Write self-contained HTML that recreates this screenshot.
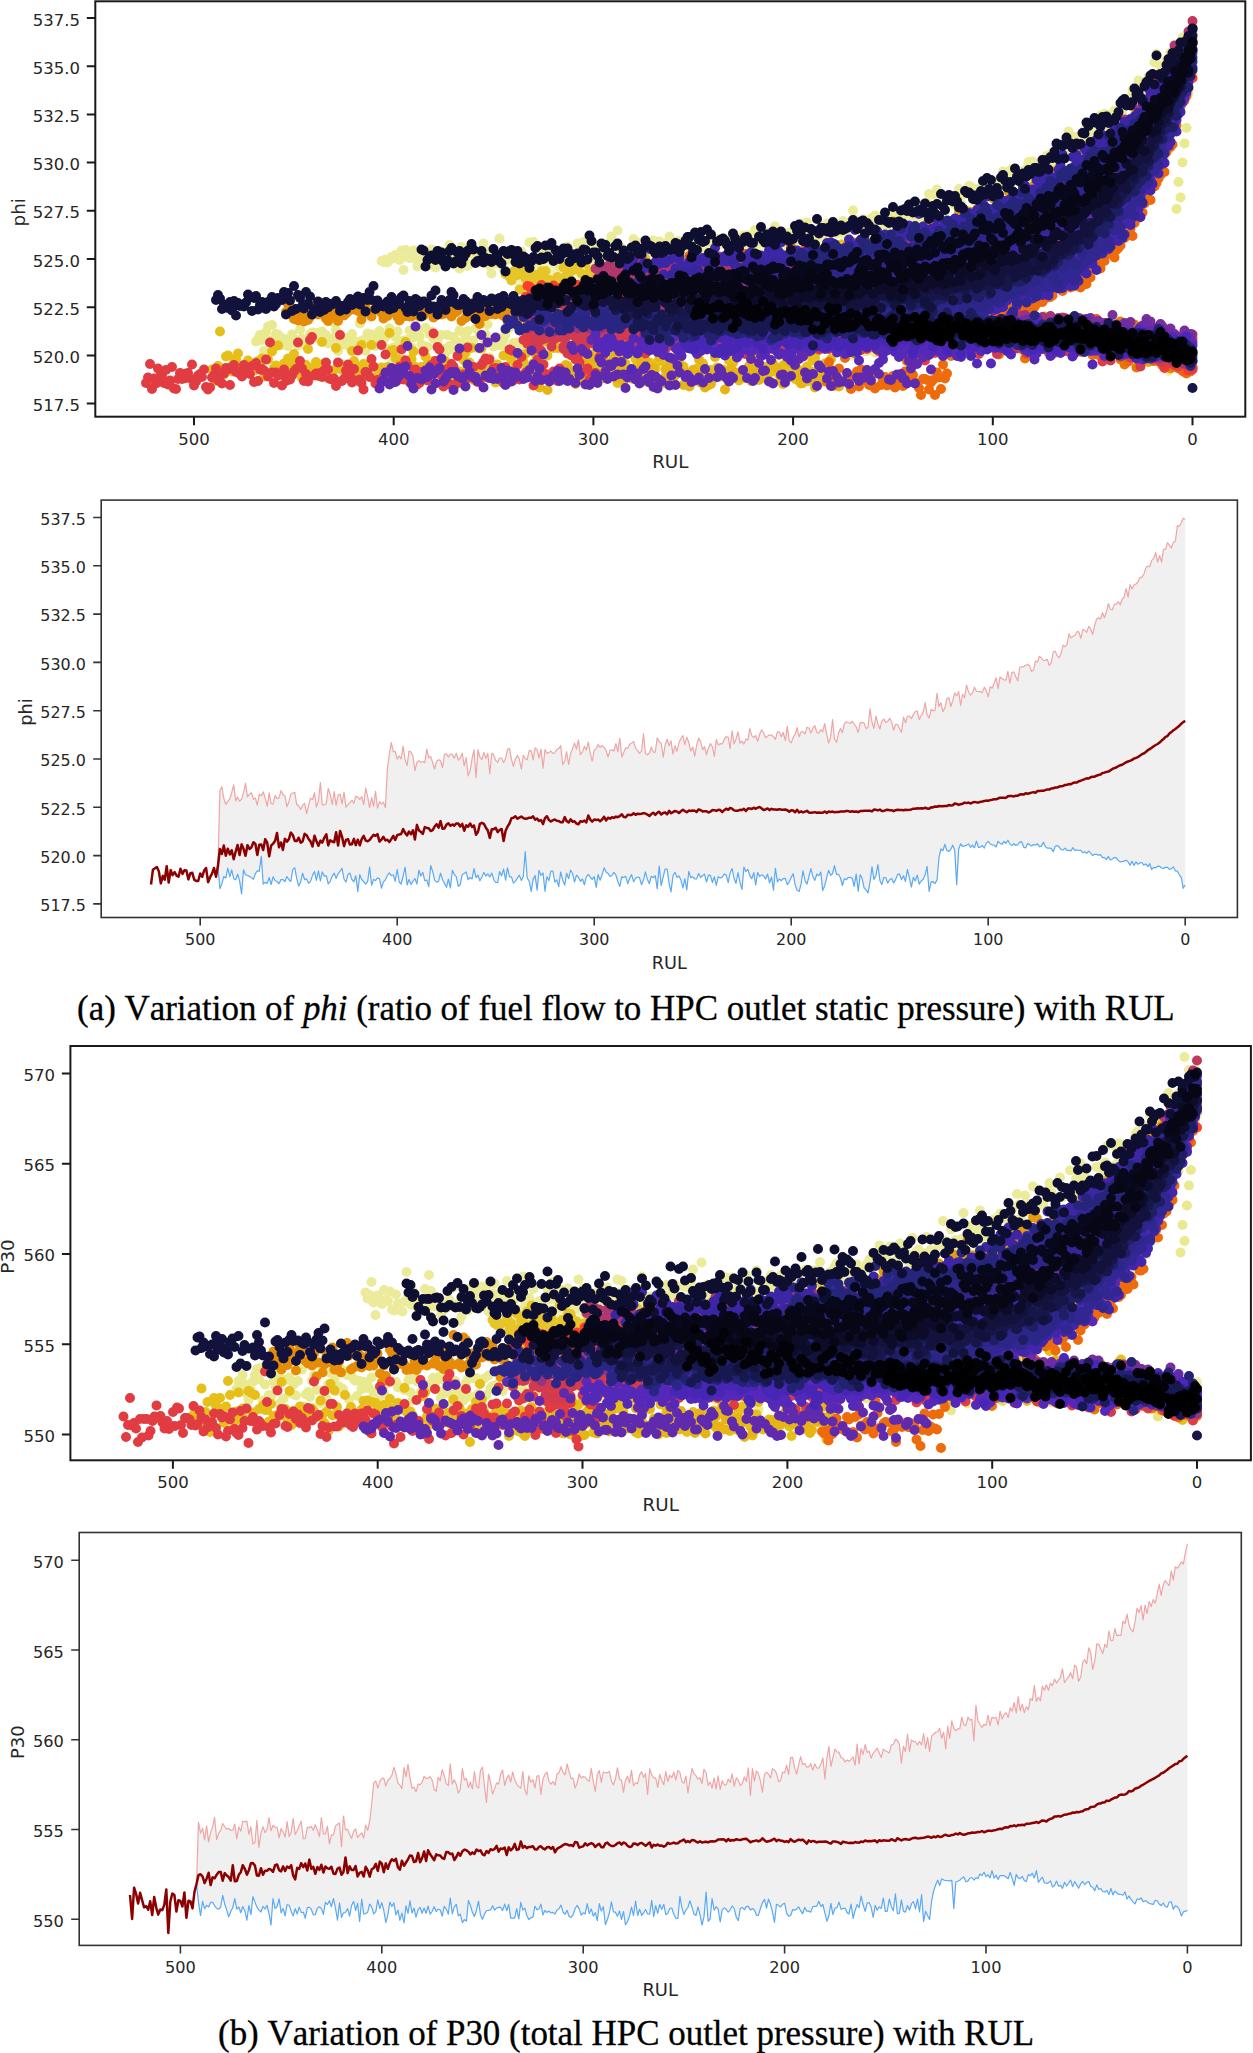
<!DOCTYPE html><html><head><meta charset="utf-8"><title>Figure</title><style>html,body{margin:0;padding:0;background:#fff}svg{display:block}</style></head><body><svg width="1253" height="2053" viewBox="0 0 1253 2053">
<rect width="1253" height="2053" fill="#fff"/>
<g fill="none" stroke-linecap="round" stroke-width="10.0"><path stroke="#fbfbeb" d="M1056.5 319h0"/><path stroke="#f7f7d7" d="M535.5 289h0M539.5 264.5h0M547.5 274h0M571.5 277h0M577.5 280h0M579.5 273h0M583.5 279.5h0M601.5 260h0M649.5 261h0M819 251.5h0M857 241h0M891 232.5h0M895 233h0M941 221.5h0M951 219.5h0M955 218h0M993 199h0M1009 197.5h0M1108.5 131.5h0M1128.5 119h0M1138.5 108.5h0"/><path stroke="#f5f5cf" d="M1160.5 364h0"/><path stroke="#f3f3c3" d="M987 311h0"/><path stroke="#f1f1b7" d="M519.5 282h0M533.5 267h0M539.5 271.5h0M543.5 265h0M545.5 263h0M547.5 261.5h0M549.5 266h0M551.5 266h0M553.5 275h0M555.5 275h0M557.5 270h0M561.5 273h0M565.5 270.5h0M569.5 272.5h0M579.5 272h0M581.5 268.5h0M583.5 277h0M585.5 265.5h0M591.5 266.5h0M603.5 267h0M687.5 260h0M701 251h0M713 259h0M719 245h0M741 255h0M747 251h0M759 252h0M763 255h0M765 247h0M767 258h0M785 246h0M801 245.5h0M819 245.5h0M823 243h0M845 241.5h0M847 237.5h0M887 239.5h0M923 223h0M937 222.5h0M971 217h0M1074.5 161.5h0M1134.5 115h0M1146.5 94h0"/><path stroke="#efefaf" d="M525.5 318.5h0M1118.5 323.5h0M1168.5 371h0"/><path stroke="#ebeb9b" d="M381.5 261h0M383.5 262h0M385.5 259.5h0M387.5 262.5h0M389.5 260h0M391.5 257h0M393.5 258h0M395.5 255h0M397.5 258h0M399.5 260h0M401.5 250.5h0M403.5 270h0M405.5 250h0M407.5 257.5h0M409.5 258h0M411.5 257.5h0M413.5 250.5h0M415.5 259.5h0M417.5 266.5h0M419.5 263h0M421.5 255h0M423.5 264.5h0M425.5 258h0M429.5 265h0M431.5 249.5h0M433.5 264h0M435.5 267.5h0M437.5 260h0M439.5 250.5h0M441.5 251.5h0M447.5 255.5h0M449.5 245h0M451.5 252h0M453.5 261h0M455.5 264h0M457.5 261.5h0M459.5 268.5h0M461.5 247h0M463.5 265h0M467.5 266h0M469.5 264.5h0M471.5 253.5h0M473.5 263.5h0M475.5 261h0M477.5 255.5h0M479.5 262.5h0M481.5 254.5h0M483.5 243.5h0M487.5 252h0M489.5 265.5h0M491.5 273.5h0M493.5 253.5h0M495.5 263.5h0M497.5 263.5h0M499.5 238.5h0M501.5 261h0M503.5 269h0M505.5 270.5h0M507.5 259.5h0M511.5 258.5h0M513.5 250.5h0M521.5 251.5h0M529.5 242.5h0M533.5 242h0M535.5 256.5h0M537.5 262.5h0M539.5 262.5h0M541.5 251h0M543.5 246.5h0M547.5 258h0M549.5 248h0M551.5 258.5h0M553.5 260h0M559.5 267h0M561.5 258h0M565.5 265h0M567.5 246.5h0M569.5 256.5h0M571.5 263.5h0M577.5 243.5h0M579.5 249.5h0M583.5 242h0M585.5 244.5h0M587.5 256.5h0M589.5 256h0M591.5 247.5h0M593.5 257h0M595.5 245.5h0M597.5 251h0M599.5 253.5h0M605.5 250.5h0M607.5 255h0M609.5 242.5h0M611.5 236.5h0M613.5 262h0M617.5 230.5h0M619.5 253.5h0M621.5 248h0M631.5 255h0M633.5 239h0M635.5 257h0M641.5 242.5h0M643.5 244h0M647.5 253h0M649.5 250h0M651.5 250h0M653.5 240.5h0M657.5 244.5h0M659.5 241.5h0M665.5 253h0M667.5 242.5h0M669.5 236.5h0M675.5 241.5h0M679.5 241h0M681.5 255h0M685.5 252.5h0M687.5 263h0M689.5 238.5h0M695 234.5h0M697 244.5h0M699 248h0M701 251.5h0M703 252.5h0M705 257h0M707 252h0M709 232.5h0M711 247.5h0M713 241h0M715 243.5h0M717 239h0M719 243.5h0M725 238.5h0M727 241.5h0M733 241.5h0M737 237.5h0M741 246.5h0M743 235.5h0M747 235h0M749 237.5h0M753 246.5h0M755 230h0M757 243.5h0M759 242h0M761 242h0M763 241.5h0M765 243h0M767 232.5h0M771 238.5h0M775 226.5h0M777 245.5h0M787 244.5h0M789 233h0M795 236h0M797 241h0M799 238h0M801 223.5h0M803 240.5h0M805 229h0M807 222.5h0M809 237.5h0M811 239.5h0M813 235h0M815 232.5h0M817 235h0M819 235.5h0M821 234.5h0M825 225.5h0M827 223.5h0M829 239.5h0M837 233.5h0M839 232.5h0M841 232.5h0M843 221h0M845 232.5h0M847 223h0M853 210.5h0M855 220h0M859 230h0M861 225.5h0M863 219.5h0M867 224h0M869 220h0M871 218.5h0M873 224.5h0M875 215.5h0M877 216.5h0M879 217.5h0M883 231.5h0M885 227.5h0M887 222.5h0M889 223.5h0M891 216.5h0M893 220.5h0M895 213h0M897 218h0M899 218.5h0M901 212.5h0M903 209h0M905 215h0M907 214.5h0M909 215h0M911 213.5h0M913 216h0M915 206h0M917 217.5h0M919 204.5h0M923 205.5h0M925 216h0M927 202.5h0M929 194h0M933 222.5h0M935 195h0M937 189.5h0M941 212.5h0M945 201.5h0M949 202.5h0M953 203.5h0M955 205h0M957 204h0M959 189h0M961 203.5h0M963 194.5h0M965 193h0M967 194h0M969 186h0M971 187h0M973 188.5h0M975 201.5h0M977 193.5h0M979 188.5h0M981 190h0M983 199.5h0M985 188.5h0M991 183.5h0M993 194h0M995 182h0M997 185h0M999 183.5h0M1001 180.5h0M1003 171.5h0M1005 172.5h0M1007 188.5h0M1011 169.5h0M1013 174h0M1015 173h0M1023 171h0M1025 171.5h0M1026.5 169h0M1028.5 162h0M1030.5 181h0M1032.5 161.5h0M1034.5 167h0M1036.5 166h0M1042.5 159.5h0M1044.5 166h0M1046.5 156h0M1050.5 164h0M1052.5 152.5h0M1056.5 165.5h0M1058.5 151.5h0M1062.5 143.5h0M1064.5 143.5h0M1066.5 152.5h0M1068.5 131.5h0M1070.5 136h0M1072.5 150h0M1074.5 137h0M1080.5 135h0M1082.5 132.5h0M1084.5 130h0M1086.5 142h0M1088.5 129.5h0M1090.5 135h0M1092.5 137h0M1094.5 136h0M1096.5 125.5h0M1098.5 132.5h0M1100.5 115.5h0M1104.5 114h0M1106.5 114.5h0M1108.5 126h0M1110.5 116h0M1112.5 116.5h0M1114.5 110.5h0M1116.5 111h0M1122.5 114h0M1124.5 105.5h0M1130.5 97.5h0M1132.5 90h0M1134.5 98.5h0M1136.5 110h0M1138.5 80.5h0M1140.5 90h0M1142.5 90h0M1144.5 82.5h0M1148.5 76.5h0M1150.5 77h0M1154.5 62.5h0M1156.5 54h0M1158.5 74h0M1160.5 65.5h0M1164.5 67.5h0M1166.5 60h0M1170.5 52.5h0M1182.5 37.5h0M1192.5 27h0"/><path stroke="#e9e98f" d="M256 341.5h0M258 339h0M260 335h0M262 340h0M264 351h0M266 332h0M268 326.5h0M270 340.5h0M272 325h0M274 342.5h0M276 334h0M278 334.5h0M280 337h0M282 345h0M284 339h0M286 343.5h0M288 346h0M290 342h0M292 334.5h0M294 339.5h0M296 340h0M298 345.5h0M300 329.5h0M302 338.5h0M304 345h0M306 342.5h0M308 338.5h0M310 334h0M312 332.5h0M316 333h0M318 338h0M320 334h0M322 331.5h0M326 335h0M328 343.5h0M330 338.5h0M332 322h0M334 341h0M336 330.5h0M338 351h0M340 342.5h0M342 342.5h0M344 344.5h0M346 338h0M348 338.5h0M350 347h0M352 334h0M354 342.5h0M356 341.5h0M358 349.5h0M360 323.5h0M361.5 341h0M363.5 340h0M365.5 351h0M367.5 333.5h0M369.5 341h0M371.5 334.5h0M373.5 339.5h0M375.5 346h0M377.5 334h0M379.5 331h0M381.5 340h0M383.5 339.5h0M385.5 337h0M387.5 348.5h0M389.5 328.5h0M391.5 363.5h0M393.5 347.5h0M395.5 337h0M397.5 331.5h0M399.5 342.5h0M401.5 344h0M403.5 340.5h0M405.5 345h0M407.5 340h0M409.5 330.5h0M411.5 347.5h0M413.5 337.5h0M415.5 332.5h0M417.5 332h0M419.5 336.5h0M421.5 344.5h0M423.5 346h0M425.5 328h0M427.5 347h0M429.5 334h0M431.5 331.5h0M433.5 338.5h0M435.5 336h0M437.5 341.5h0M439.5 350.5h0M441.5 335h0M443.5 349h0M445.5 353.5h0M447.5 335h0M449.5 346h0M451.5 349h0M453.5 337h0M455.5 343h0M457.5 342h0M459.5 330.5h0M461.5 343.5h0M463.5 333h0M465.5 335.5h0M467.5 331h0M469.5 344.5h0M471.5 346h0M473.5 340.5h0M475.5 328.5h0M477.5 348.5h0M479.5 334h0M481.5 349.5h0M483.5 338h0M485.5 334.5h0M487.5 324.5h0M489.5 357.5h0M491.5 340h0M493.5 346.5h0M495.5 340h0M497.5 337.5h0M499.5 345.5h0M501.5 345h0M503.5 340h0M505.5 334.5h0M507.5 356.5h0M509.5 328h0M513.5 343h0M515.5 344h0M517.5 342.5h0M519.5 348h0M521.5 345h0M523.5 327.5h0M555.5 340h0M561.5 344h0M563.5 345h0M565.5 339.5h0M571.5 341h0M573.5 344.5h0M585.5 362h0M593.5 346.5h0M757 349.5h0M769 351h0M811 359.5h0M853 355h0M865 351h0M867 351h0M875 352.5h0M1126.5 231.5h0M1164.5 157h0M1168.5 149h0M1170.5 139.5h0M1176.5 209h0M1178.5 182h0M1180.5 197.5h0M1182.5 162.5h0M1184.5 143.5h0M1186.5 128h0M1188.5 93h0M1192.5 73h0"/><path stroke="#e6d552" d="M1036.5 273.5h0"/><path stroke="#e6cf42" d="M525.5 288.5h0"/><path stroke="#e6c529" d="M505.5 274h0M507.5 275h0M509.5 277h0M511.5 280.5h0M513.5 271.5h0M515.5 269.5h0M517.5 275h0M519.5 289.5h0M521.5 273.5h0M523.5 269.5h0M525.5 278.5h0M527.5 281h0M529.5 274.5h0M531.5 278.5h0M533.5 279h0M535.5 275h0M537.5 277.5h0M539.5 281.5h0M541.5 271.5h0M543.5 280h0M545.5 271h0M547.5 280h0M549.5 280h0M551.5 281.5h0M553.5 281.5h0M557.5 277h0M561.5 283.5h0M563.5 267.5h0M565.5 276.5h0M569.5 279h0M571.5 271h0M573.5 270h0M575.5 265.5h0M577.5 267h0M581.5 273.5h0M583.5 283h0M585.5 263.5h0M587.5 278.5h0M589.5 271.5h0M591.5 280h0M593.5 282.5h0M595.5 273h0M605.5 270.5h0M613.5 271h0M615.5 260h0M619.5 279h0M621.5 280.5h0M645.5 259h0M671.5 261h0M719 267.5h0M777 258h0M779 271h0M783 255h0M841 244.5h0M865 237h0M873 242.5h0M887 243h0"/><path stroke="#e6c11f" d="M991 318h0M1028.5 313h0"/><path stroke="#e6bf19" d="M212 369.5h0M214 370.5h0M216 381h0M218 366h0M220 331.5h0M222 368.5h0M224 374.5h0M226 356.5h0M228 355.5h0M230 367.5h0M232 371.5h0M234 363h0M236 359h0M238 353.5h0M242 366h0M248 360.5h0M252 364.5h0M254 363.5h0M256 370h0M258 361h0M260 366h0M262 358.5h0M264 376.5h0M266 374h0M268 359.5h0M270 373h0M272 351.5h0M274 368h0M276 365.5h0M278 345.5h0M280 368h0M284 363.5h0M286 366h0M288 358.5h0M290 369h0M292 365h0M294 354h0M296 360h0M298 372.5h0M300 368h0M302 378h0M306 365h0M308 349h0M310 368h0M312 371.5h0M314 369.5h0M316 362h0M318 376h0M320 368h0M322 342h0M324 363.5h0M326 377.5h0M330 375h0M332 371h0M334 370h0M336 348h0M338 366h0M340 364h0M342 370h0M344 371h0M346 367.5h0M352 351h0M354 361h0M356 371.5h0M358 370h0M360 367.5h0M361.5 345h0M363.5 364h0M365.5 372.5h0M367.5 365.5h0M369.5 367h0M371.5 345h0M373.5 378.5h0M375.5 377.5h0M377.5 369h0M379.5 373h0M381.5 367.5h0M383.5 371.5h0M387.5 367h0M389.5 333h0M391.5 350.5h0M393.5 350h0M395.5 358h0M397.5 359h0M403.5 360h0M405.5 342h0M407.5 365.5h0M409.5 363.5h0M411.5 359h0M413.5 351.5h0M415.5 367h0M417.5 368h0M421.5 367h0M425.5 356.5h0M427.5 364h0M429.5 380h0M433.5 361h0M439.5 374.5h0M441.5 367h0M445.5 361.5h0M449.5 364.5h0M451.5 378h0M459.5 371.5h0M461.5 357.5h0M463.5 360h0M465.5 353h0M467.5 367.5h0M469.5 362.5h0M471.5 348h0M473.5 380h0M477.5 370.5h0M479.5 367h0M481.5 348h0M483.5 375.5h0M485.5 372.5h0M487.5 371h0M489.5 367.5h0M491.5 371h0M493.5 376h0M495.5 382.5h0M497.5 364.5h0M499.5 366.5h0M501.5 369h0M503.5 355.5h0M511.5 359.5h0M513.5 380.5h0M515.5 366.5h0M519.5 354.5h0M521.5 375h0M523.5 361.5h0M525.5 354h0M527.5 367h0M531.5 374h0M533.5 363h0M535.5 354h0M539.5 367h0M543.5 372.5h0M547.5 355.5h0M549.5 342.5h0M551.5 341h0M565.5 365h0M573.5 372.5h0M575.5 353.5h0M577.5 380h0M579.5 366.5h0M585.5 374.5h0M587.5 370.5h0M589.5 370.5h0M595.5 352.5h0M597.5 365.5h0M599.5 371h0M603.5 378h0M605.5 363h0M611.5 371.5h0M615.5 364h0M617.5 383h0M619.5 361h0M621.5 368h0M623.5 357.5h0M625.5 363.5h0M629.5 369h0M635.5 359h0M637.5 363.5h0M641.5 374.5h0M643.5 357.5h0M645.5 381.5h0M649.5 362.5h0M651.5 364h0M655.5 368.5h0M657.5 362h0M659.5 360h0M663.5 378h0M665.5 363h0M667.5 376.5h0M669.5 365h0M673.5 381.5h0M675.5 372.5h0M677.5 367h0M683.5 366.5h0M687.5 373h0M689.5 379.5h0M697 368.5h0M699 377h0M701 368.5h0M703 363.5h0M705 375.5h0M709 377.5h0M711 370h0M715 373h0M717 367.5h0M721 376.5h0M723 369.5h0M727 374h0M729 360.5h0M731 356.5h0M733 363h0M735 359h0M739 380.5h0M743 378h0M745 378h0M747 369.5h0M749 367h0M751 381h0M753 372h0M755 368h0M761 370h0M765 367h0M767 379h0M769 367h0M771 372h0M773 371h0M775 369h0M777 370h0M779 374.5h0M781 377.5h0M783 365.5h0M785 369.5h0M787 368h0M789 377h0M791 371h0M793 367.5h0M795 379h0M797 371h0M799 381h0M801 370.5h0M803 383h0M805 371.5h0M807 366.5h0M809 381h0M811 371.5h0M813 360.5h0M815 358h0M817 351.5h0M819 367.5h0M821 371.5h0M823 371h0M825 363.5h0M829 366.5h0"/><path stroke="#e6b515" d="M535.5 374h0M537.5 372.5h0M539.5 387.5h0M541.5 374h0M543.5 341.5h0M547.5 390h0M551.5 373.5h0M553.5 348h0M557.5 348h0M563.5 349.5h0M567.5 366h0M569.5 370h0M575.5 384h0M577.5 371.5h0M579.5 379.5h0M581.5 373.5h0M583.5 360h0M585.5 383.5h0M587.5 364h0M589.5 367.5h0M593.5 359.5h0M599.5 375.5h0M601.5 374h0M605.5 368h0M607.5 373h0M609.5 376.5h0M611.5 362h0M613.5 358h0M615.5 353.5h0M617.5 379h0M619.5 377h0M621.5 369h0M623.5 380h0M625.5 342h0M627.5 372h0M631.5 378.5h0M637.5 370h0M641.5 361.5h0M643.5 379.5h0M645.5 360.5h0M647.5 368.5h0M649.5 375h0M653.5 368h0M655.5 383.5h0M659.5 356.5h0M661.5 355h0M663.5 383h0M665.5 369.5h0M667.5 378.5h0M669.5 367h0M671.5 385h0M673.5 357.5h0M675.5 375h0M679.5 359.5h0M683.5 385h0M685.5 373h0M689.5 386.5h0M693 370h0M695 372.5h0M699 359.5h0M701 383h0M703 382h0M705 387.5h0M707 372h0M709 385h0M711 384h0M713 378.5h0M715 357h0M717 377.5h0M719 369h0M723 374h0M725 389.5h0M731 368.5h0M735 378h0M737 372.5h0M739 374h0M741 377.5h0M749 366h0M751 375h0M753 358h0M755 372.5h0M757 375.5h0M759 380h0M761 372.5h0M763 371.5h0M771 382h0M773 363.5h0M775 366.5h0M777 368h0M779 355h0M781 380h0M783 384h0M785 376.5h0M787 361.5h0M789 362.5h0M797 369.5h0M799 376.5h0M801 383.5h0M805 378h0M807 353.5h0M809 373h0M811 351h0M813 381h0M815 387.5h0M817 378h0M819 379.5h0M821 365.5h0M823 381.5h0M825 376h0M827 377.5h0M831 359h0M839 386.5h0M1044.5 316.5h0"/><path stroke="#e6a50f" d="M1148.5 362h0"/><path stroke="#e69f0c" d="M1092.5 211.5h0"/><path stroke="#e69b0b" d="M887 235h0M893 221.5h0M901 238h0M927 224h0M929 225.5h0M931 226h0M941 225.5h0M959 211.5h0M963 214.5h0M969 211.5h0M977 209.5h0M983 204.5h0M993 198.5h0M1001 199.5h0M1009 192.5h0M1011 195.5h0M1034.5 185h0M1044.5 179.5h0M1056.5 170.5h0M1058.5 172.5h0M1080.5 151.5h0M1120.5 127.5h0"/><path stroke="#e69508" d="M1152.5 361h0M1170.5 368.5h0M1192.5 367h0"/><path stroke="#e69107" d="M1078.5 230.5h0M1094.5 216h0"/><path stroke="#e68b05" d="M286 312h0M288 304h0M290 312.5h0M292 308h0M294 319h0M296 315.5h0M298 320.5h0M300 319h0M302 313.5h0M304 321.5h0M308 320h0M310 317h0M312 306h0M318 314.5h0M320 302.5h0M326 318.5h0M328 321h0M330 314h0M332 309h0M336 316h0M338 321h0M340 310h0M342 315.5h0M344 315.5h0M346 313.5h0M348 311.5h0M350 308h0M354 309.5h0M356 305h0M358 311h0M360 310.5h0M361.5 319.5h0M363.5 312.5h0M365.5 304h0M367.5 312.5h0M369.5 311.5h0M371.5 316.5h0M373.5 310.5h0M375.5 308.5h0M377.5 303.5h0M379.5 304h0M381.5 313h0M383.5 318.5h0M387.5 316h0M389.5 311.5h0M391.5 311.5h0M393.5 312.5h0M395.5 309.5h0M397.5 317h0M399.5 320.5h0M401.5 312h0M403.5 316.5h0M405.5 316h0M407.5 306.5h0M409.5 316.5h0M411.5 316.5h0M413.5 314h0M415.5 308.5h0M419.5 316.5h0M421.5 313h0M423.5 315.5h0M425.5 301.5h0M427.5 304.5h0M429.5 311h0M433.5 317.5h0M435.5 314h0M437.5 315h0M439.5 313.5h0M441.5 314.5h0M443.5 314h0M449.5 312h0M451.5 316.5h0M453.5 308h0M455.5 312.5h0M457.5 311h0M459.5 307h0M461.5 321h0M463.5 303.5h0M465.5 318h0M467.5 302.5h0M471.5 316h0M473.5 313h0M475.5 301.5h0M477.5 310h0M479.5 324h0M481.5 312.5h0M483.5 316.5h0M485.5 316h0M487.5 310.5h0M489.5 303h0M491.5 314h0M493.5 310h0M495.5 314.5h0M497.5 310h0M499.5 313.5h0M501.5 311.5h0M503.5 316h0M505.5 315.5h0M507.5 321h0M509.5 309h0M513.5 308h0M515.5 315.5h0M519.5 318h0M521.5 316h0M527.5 322.5h0M543.5 316h0M553.5 315h0M557.5 310.5h0M559.5 311h0M563.5 308h0M663.5 310.5h0M665.5 303.5h0M667.5 316h0M1092.5 251h0"/><path stroke="#e68502" d="M1120.5 321.5h0"/><path stroke="#e68100" d="M1080.5 318.5h0M1134.5 324.5h0M1158.5 361h0"/><path stroke="#e77b03" d="M1136.5 112h0M1192.5 34.5h0"/><path stroke="#e97705" d="M855 353.5h0M951 356h0M985 344h0M999 354.5h0M1023 350h0M1025 358.5h0M1048.5 352.5h0M1082.5 352h0M1092.5 355h0M1120.5 359.5h0M1124.5 364.5h0M1126.5 359h0M1136.5 367.5h0M1154.5 361h0M1162.5 365.5h0M1172.5 367h0M1182.5 371h0M1186.5 373.5h0M1190.5 371.5h0"/><path stroke="#eb7109" d="M1096.5 353h0M1170.5 364h0"/><path stroke="#ee6b0c" d="M827 382h0M829 362h0M831 377h0M833 386h0M835 376.5h0M837 380h0M839 368.5h0M845 358h0M847 378.5h0M849 383h0M851 389h0M853 377h0M855 376h0M857 371.5h0M859 386.5h0M861 369.5h0M863 380.5h0M865 370.5h0M867 372h0M869 385h0M871 376h0M873 386.5h0M875 388.5h0M879 351.5h0M881 385h0M883 379.5h0M885 377h0M887 385.5h0M889 384h0M893 376h0M895 387.5h0M897 382h0M899 377h0M901 377.5h0M903 386h0M905 371.5h0M907 361h0M909 351h0M911 376.5h0M913 375h0M915 382.5h0M919 388h0M921 395h0M923 379h0M925 379h0M927 380h0M929 389.5h0M931 382.5h0M933 380h0M935 395h0M937 372.5h0M939 377.5h0M941 389h0M943 364.5h0M945 378.5h0M947 373.5h0M1001 310h0M1005 311.5h0M1009 309h0M1011 302h0M1015 302.5h0M1021 303h0M1023 307.5h0M1028.5 314h0M1030.5 305h0M1034.5 307h0M1036.5 304h0M1038.5 298.5h0M1042.5 302h0M1044.5 299h0M1050.5 297h0M1052.5 295.5h0M1056.5 288h0M1062.5 291h0M1070.5 287.5h0M1074.5 286h0M1078.5 271h0M1080.5 287.5h0M1082.5 278.5h0M1084.5 273h0M1086.5 284h0M1090.5 277.5h0M1092.5 270h0M1098.5 262h0M1100.5 268.5h0M1102.5 257h0M1104.5 261h0M1106.5 255h0M1108.5 251.5h0M1112.5 247h0M1114.5 257.5h0M1116.5 250h0M1118.5 248h0M1120.5 245.5h0M1124.5 238h0M1128.5 233.5h0M1130.5 228.5h0M1132.5 236h0M1134.5 223h0M1136.5 218.5h0M1138.5 218h0M1140.5 210.5h0M1142.5 212.5h0M1144.5 203.5h0M1146.5 191h0M1148.5 198.5h0M1150.5 200h0M1154.5 186.5h0M1156.5 183h0M1158.5 178.5h0M1160.5 175h0M1164.5 172h0M1166.5 152h0M1170.5 147h0M1172.5 144.5h0M1176.5 125h0M1180.5 107h0M1184.5 100.5h0M1186.5 96h0"/><path stroke="#ef670f" d="M969 351h0M1098.5 355h0M1128.5 361.5h0M1140.5 361h0M1178.5 368.5h0"/><path stroke="#f26112" d="M621.5 276h0M627.5 278.5h0M635.5 277.5h0M657.5 276h0M665.5 280h0M669.5 274.5h0M685.5 276h0M689.5 256h0M693 278h0M721 270.5h0M745 254h0M785 258h0M791 247h0M805 249h0M837 247h0M847 245.5h0M853 242.5h0M887 243.5h0M987 217h0M989 220.5h0M1001 208.5h0M1064.5 179h0"/><path stroke="#f35d15" d="M997 317.5h0M1096.5 319h0M1124.5 356h0M1184.5 372h0"/><path stroke="#f65718" d="M1192.5 40.5h0"/><path stroke="#f7531b" d="M1030.5 275.5h0"/><path stroke="#fa4d1e" d="M989 319.5h0M1030.5 322.5h0"/><path stroke="#fc4722" d="M1005 319h0M1050.5 321.5h0M1062.5 317.5h0M1192.5 338.5h0"/><path stroke="#fe4324" d="M993 319.5h0"/><path stroke="#fa3f2a" d="M525.5 297h0M527.5 286h0M529.5 286.5h0M531.5 292.5h0M533.5 289h0M535.5 303h0M541.5 285h0M543.5 296h0M553.5 285.5h0M557.5 288h0M563.5 293h0M577.5 285h0M581.5 293h0M585.5 298h0M619.5 296.5h0M621.5 291h0M625.5 286h0M627.5 297.5h0M747 284.5h0M1192.5 78h0"/><path stroke="#f43e30" d="M573.5 311h0M999 319.5h0"/><path stroke="#ea3d38" d="M1164.5 368h0M1178.5 366.5h0M1188.5 370.5h0M1192.5 369.5h0"/><path stroke="#e13c41" d="M146 383h0M148 377.5h0M150 364h0M152 389h0M154 378.5h0M156 383.5h0M158 368.5h0M160 376h0M162 375h0M164 383h0M166 370h0M168 384.5h0M170 380.5h0M172 367h0M174 388.5h0M176 389h0M178 379h0M180 373h0M182 379h0M184 378.5h0M186 373.5h0M188 373h0M190 378.5h0M192 364.5h0M194 385.5h0M196 381.5h0M198 375.5h0M200 374h0M202 377h0M204 369.5h0M206 387h0M208 389.5h0M210 387.5h0M212 377.5h0M214 375h0M216 368.5h0M218 380.5h0M220 376h0M222 383.5h0M224 373.5h0M226 368h0M228 369.5h0M230 385h0M232 367h0M234 365h0M236 372h0M238 371.5h0M240 374h0M242 376.5h0M244 365h0M246 370h0M248 372.5h0M250 374h0M252 366h0M254 382h0M256 363h0M258 381h0M260 369.5h0M262 369h0M264 370.5h0M266 359.5h0M268 376.5h0M270 342.5h0M272 372.5h0M274 383h0M276 372.5h0M278 375.5h0M280 374h0M282 385.5h0M284 369.5h0M286 381h0M288 375.5h0M290 379.5h0M292 375.5h0M294 371.5h0M296 369h0M298 342.5h0M300 361h0M302 368.5h0M304 381h0M306 374h0M308 381.5h0M310 340h0M312 337h0M314 375.5h0M316 373.5h0M318 375.5h0M320 373h0M322 377h0M324 370.5h0M326 362.5h0M328 369.5h0M330 379h0M332 379.5h0M334 378.5h0M336 386h0M338 362.5h0M340 335h0M342 381h0M344 379h0M346 370.5h0M348 364.5h0M350 376h0M352 382.5h0M354 369h0M356 380.5h0M358 350.5h0M360 379.5h0M361.5 383h0M363.5 389.5h0M365.5 372h0M367.5 373h0M369.5 377h0M371.5 359h0M373.5 366.5h0M375.5 383.5h0M377.5 380h0M379.5 383h0M381.5 345h0M383.5 376.5h0M385.5 354.5h0M391.5 379.5h0M393.5 369.5h0M395.5 376.5h0M397.5 380.5h0M399.5 366.5h0M401.5 349.5h0M403.5 379.5h0M405.5 360.5h0M407.5 365h0M409.5 382h0M411.5 376h0M413.5 372.5h0M415.5 369.5h0M417.5 384.5h0M419.5 383h0M421.5 372h0M423.5 351.5h0M425.5 375h0M427.5 380.5h0M431.5 365h0M433.5 333.5h0M435.5 361h0M437.5 347h0M439.5 349.5h0M441.5 375h0M443.5 386.5h0M445.5 376.5h0M447.5 369h0M449.5 384h0M451.5 364h0M453.5 366.5h0M455.5 384.5h0M457.5 356h0M459.5 377.5h0M461.5 383h0M463.5 374.5h0M465.5 379.5h0M467.5 347.5h0M469.5 371.5h0M471.5 377.5h0M473.5 367h0M475.5 379.5h0M477.5 382h0M479.5 382h0M481.5 365h0M483.5 362h0M485.5 358.5h0M487.5 377.5h0M489.5 359.5h0M493.5 368.5h0M495.5 368h0M499.5 376.5h0M503.5 383h0M505.5 367h0M507.5 375h0M509.5 349.5h0M511.5 350.5h0M513.5 371.5h0M517.5 365h0M519.5 379.5h0M521.5 357h0M523.5 340h0M525.5 372.5h0M527.5 344h0M531.5 340h0M533.5 385.5h0M535.5 343.5h0M537.5 359.5h0M541.5 351h0M543.5 364.5h0M545.5 374h0M547.5 378h0M549.5 374.5h0M553.5 371.5h0M555.5 373h0M557.5 381h0M559.5 368.5h0M561.5 378.5h0M563.5 346.5h0M565.5 374.5h0M567.5 353.5h0M569.5 380.5h0M571.5 355.5h0M575.5 359.5h0M577.5 358h0M579.5 362.5h0M581.5 373h0M585.5 347.5h0M587.5 368.5h0M589.5 379.5h0M591.5 374h0M595.5 373h0M599.5 357h0M601.5 351h0M603.5 355h0M645.5 353.5h0M655.5 346h0M671.5 345.5h0M761 350h0M763 351.5h0M781 347h0M785 345h0M867 349h0M875 348h0M915 355.5h0M925 360.5h0M927 350.5h0M929 352.5h0M935 353h0M937 352.5h0M979 354h0M993 348h0M1026.5 353.5h0M1034.5 355h0M1054.5 353h0M1068.5 351.5h0M1102.5 361.5h0M1152.5 359.5h0M1174.5 365h0M1180.5 363h0M1192.5 368h0"/><path stroke="#da3b46" d="M525.5 332h0M527.5 331.5h0M529.5 337h0M533.5 332.5h0M537.5 331h0M553.5 339.5h0M557.5 329.5h0M577.5 341h0M583.5 335.5h0M603.5 332h0M609.5 334.5h0M625.5 331.5h0M627.5 324h0M629.5 338.5h0M631.5 338.5h0M633.5 333.5h0M1164.5 362h0M1170.5 363h0M1190.5 366.5h0"/><path stroke="#d13a4f" d="M535.5 341.5h0M537.5 338h0M539.5 349.5h0M541.5 340h0M543.5 336h0M545.5 338.5h0M547.5 333h0M551.5 346.5h0M553.5 327.5h0M555.5 338.5h0M557.5 333h0M559.5 335h0M561.5 337.5h0M563.5 348.5h0M565.5 338h0M567.5 346h0M569.5 351.5h0M571.5 334.5h0M573.5 335.5h0M575.5 344h0M577.5 331.5h0M579.5 347.5h0M581.5 337.5h0M583.5 342h0M587.5 339.5h0M589.5 335.5h0M591.5 343h0M593.5 333h0M595.5 334h0M597.5 341h0M601.5 339.5h0M603.5 337h0M605.5 331h0M609.5 343h0M613.5 336h0M617.5 336h0M619.5 342.5h0M625.5 335.5h0M629.5 336.5h0M631.5 348h0M635.5 330h0M637.5 341.5h0M639.5 344h0M641.5 335h0M643.5 343.5h0M665.5 349h0M675.5 344h0M677.5 341.5h0M679.5 338.5h0M681.5 341h0M687.5 348h0M689.5 332h0M703 334.5h0M719 344.5h0M729 334.5h0M745 354h0M767 350h0M783 352.5h0M787 344h0M819 349.5h0M829 349h0M861 350h0M903 340h0M945 342h0M961 349h0M997 354h0M999 350h0M1017 348.5h0M1052.5 349.5h0M1064.5 351h0M1072.5 353.5h0M1080.5 351.5h0M1102.5 354h0M1110.5 360.5h0M1112.5 351h0M1130.5 357.5h0M1140.5 366.5h0M1160.5 362h0"/><path stroke="#ca3954" d="M1017 313h0"/><path stroke="#c1385d" d="M563.5 305h0M565.5 301.5h0M567.5 299h0M569.5 309h0M571.5 306h0M573.5 297.5h0M575.5 299h0M583.5 303.5h0M587.5 304h0M605.5 305.5h0M609.5 295h0M657.5 304h0M659.5 302.5h0M667.5 308h0M673.5 296.5h0M679.5 293.5h0M1058.5 237.5h0M1192.5 21h0"/><path stroke="#ba3762" d="M861 336h0M1015 348h0M1166.5 358h0"/><path stroke="#b1366b" d="M595.5 268.5h0M597.5 278h0M599.5 275.5h0M601.5 271h0M603.5 268h0M605.5 276.5h0M607.5 267.5h0M609.5 264.5h0M611.5 276.5h0M613.5 275.5h0M615.5 271.5h0M617.5 269.5h0M621.5 270.5h0M623.5 269.5h0M625.5 266h0M627.5 275h0M631.5 273h0M635.5 275h0M637.5 264h0M639.5 277h0M641.5 256.5h0M647.5 272h0M649.5 272h0M651.5 270.5h0M659.5 271.5h0M661.5 268.5h0M663.5 267h0M665.5 271.5h0M667.5 265h0M669.5 269h0M671.5 273.5h0M673.5 266h0M675.5 266.5h0M679.5 265.5h0M685.5 263.5h0M687.5 264.5h0M697 261.5h0M703 267.5h0M705 273h0M707 268.5h0M717 270h0M719 256.5h0M721 262h0M723 262.5h0M725 265h0M727 271.5h0M729 267.5h0M733 265h0M735 268h0M743 261.5h0M747 261.5h0M753 269.5h0M789 265.5h0M793 252.5h0M795 265h0M797 265.5h0M823 250h0M833 250h0M871 261.5h0M905 240h0M911 240.5h0M937 236h0M997 214.5h0M1038.5 196.5h0M1066.5 185.5h0M1102.5 146.5h0M1124.5 119.5h0M1138.5 109.5h0M1144.5 107.5h0M1148.5 100.5h0M1150.5 102h0M1156.5 75.5h0M1158.5 78h0M1160.5 78.5h0M1162.5 80h0M1172.5 59h0M1174.5 45.5h0M1180.5 48.5h0M1186.5 40h0M1188.5 31.5h0M1190.5 34.5h0M1192.5 28h0"/><path stroke="#a73573" d="M991 320h0M1023 316h0M1048.5 323.5h0M1050.5 316h0M1076.5 323.5h0M1120.5 356.5h0M1172.5 360h0M1184.5 364h0"/><path stroke="#a13479" d="M1042.5 317h0M1064.5 318h0M1094.5 323.5h0M1120.5 355h0M1162.5 326.5h0"/><path stroke="#973381" d="M527.5 328.5h0M529.5 321h0M531.5 315h0M535.5 321h0M537.5 328.5h0M541.5 326h0M543.5 328.5h0M547.5 310.5h0M551.5 324h0M553.5 331.5h0M563.5 324.5h0M571.5 313.5h0M577.5 328.5h0M579.5 327h0M587.5 315.5h0M589.5 328.5h0M591.5 312.5h0M593.5 318.5h0M595.5 318h0M599.5 315h0M601.5 328.5h0M603.5 326.5h0M605.5 325h0M611.5 316h0M613.5 310.5h0M621.5 327h0M637.5 327.5h0M641.5 327.5h0M643.5 336h0M655.5 311h0M659.5 311.5h0M839 335.5h0M947 340.5h0M1009 318.5h0M1025 315h0M1160.5 358h0M1186.5 362.5h0M1192.5 334.5h0"/><path stroke="#933285" d="M831 260h0M835 258h0M867 259h0M875 255.5h0M905 265h0M1017 211h0M1021 212h0"/><path stroke="#8b318b" d="M661.5 279.5h0M663.5 283.5h0M671.5 282h0M675.5 302h0M681.5 297.5h0M701 292h0M713 278h0M719 282h0M739 284.5h0M743 289.5h0M747 289h0M753 278h0M905 270.5h0M927 272h0M933 275.5h0"/><path stroke="#802f95" d="M909 272h0M1025 254.5h0M1062.5 228.5h0M1192.5 53h0"/><path stroke="#782e9b" d="M767 330.5h0M985 318h0M1013 315.5h0M1015 321h0M1017 322h0M1025 320h0M1048.5 324.5h0M1054.5 321.5h0M1058.5 318h0M1078.5 318h0M1082.5 319.5h0M1090.5 318h0M1092.5 325.5h0M1098.5 321h0M1100.5 326.5h0M1104.5 323h0M1112.5 315h0M1116.5 324.5h0M1122.5 328.5h0M1124.5 323h0M1130.5 322h0M1140.5 327h0M1142.5 325.5h0M1144.5 324.5h0M1146.5 319h0M1150.5 321.5h0M1154.5 328h0M1160.5 324h0M1170.5 328.5h0M1174.5 334h0M1182.5 335.5h0M1184.5 330.5h0M1190.5 334h0M1192.5 342h0"/><path stroke="#732d9f" d="M685.5 304h0M695 296.5h0M713 295h0M715 299h0M761 287h0M929 278.5h0M933 280h0M981 258.5h0M1001 243h0M1017 250.5h0M1032.5 233h0M1052.5 230.5h0M1082.5 206h0M1116.5 172.5h0"/><path stroke="#6c2ca5" d="M681.5 308.5h0M1028.5 319.5h0M1036.5 317h0M1070.5 323h0M1080.5 320h0M1092.5 326.5h0M1102.5 326h0M1104.5 326h0M1126.5 324.5h0M1128.5 330h0M1130.5 330.5h0M1144.5 327.5h0M1146.5 323.5h0M1150.5 329h0M1156.5 328h0M1170.5 333.5h0M1176.5 337.5h0M1178.5 341h0M1182.5 338.5h0M1188.5 338h0M1190.5 339.5h0"/><path stroke="#652aab" d="M1021 257.5h0M1060.5 255.5h0M1062.5 232.5h0M1078.5 233.5h0M1090.5 219.5h0M1094.5 212h0M1192.5 50.5h0"/><path stroke="#602aaf" d="M379.5 388.5h0M381.5 381.5h0M383.5 380h0M385.5 372.5h0M387.5 382.5h0M389.5 384.5h0M391.5 368h0M393.5 376h0M395.5 382h0M397.5 378h0M399.5 368.5h0M401.5 374h0M403.5 369h0M405.5 366.5h0M407.5 346h0M409.5 376h0M411.5 384h0M413.5 388.5h0M415.5 326.5h0M417.5 378h0M419.5 378.5h0M421.5 379.5h0M423.5 378.5h0M425.5 370.5h0M427.5 377h0M429.5 367.5h0M431.5 389.5h0M433.5 374h0M435.5 383.5h0M437.5 370.5h0M439.5 368h0M441.5 358.5h0M443.5 381.5h0M445.5 378.5h0M447.5 374.5h0M449.5 374h0M451.5 372h0M453.5 390h0M455.5 372h0M457.5 376h0M459.5 348.5h0M461.5 378h0M463.5 377h0M465.5 386.5h0M467.5 364.5h0M469.5 372h0M471.5 376h0M473.5 377.5h0M475.5 377h0M477.5 381h0M479.5 348h0M481.5 335h0M483.5 387.5h0M485.5 375.5h0M487.5 342.5h0M489.5 378h0M491.5 372h0M493.5 379h0M495.5 337.5h0M497.5 379h0M499.5 377.5h0M501.5 368h0M503.5 376.5h0M505.5 385h0M507.5 370.5h0M509.5 371.5h0M511.5 381.5h0M513.5 378.5h0M515.5 372.5h0M517.5 353h0M519.5 376.5h0M521.5 377h0M523.5 379h0M525.5 375h0M527.5 377.5h0M529.5 370h0M531.5 350.5h0M533.5 364.5h0M535.5 381h0M537.5 376h0M539.5 368.5h0M541.5 380h0M543.5 354.5h0M545.5 324h0M547.5 379.5h0M549.5 381.5h0M551.5 378.5h0M553.5 375.5h0M555.5 375.5h0M557.5 371h0M559.5 381h0M561.5 371.5h0M563.5 372.5h0M565.5 372.5h0M567.5 381h0M569.5 379h0M571.5 346h0M573.5 350h0M575.5 383h0M577.5 368.5h0M579.5 375h0M581.5 349h0M583.5 351.5h0M585.5 384.5h0M587.5 354h0M589.5 385h0M591.5 340h0M593.5 381h0M595.5 374.5h0M597.5 383h0M599.5 359h0M601.5 362.5h0M603.5 375.5h0M605.5 371.5h0M607.5 379h0M609.5 364.5h0M611.5 366h0M613.5 376.5h0M615.5 362h0M617.5 374.5h0M619.5 351.5h0M621.5 362h0M623.5 374.5h0M625.5 388h0M627.5 377.5h0M629.5 374h0M631.5 373h0M633.5 375.5h0M635.5 379.5h0M637.5 373.5h0M639.5 383.5h0M641.5 381h0M643.5 369h0M645.5 366.5h0M647.5 378.5h0M649.5 382.5h0M651.5 375h0M653.5 387h0M655.5 376.5h0M657.5 388.5h0M659.5 380h0M661.5 381.5h0M663.5 355h0M669.5 385.5h0M671.5 375.5h0M673.5 359h0M675.5 385h0M677.5 365.5h0M679.5 372.5h0M681.5 345h0M685.5 377h0M687.5 375h0M689.5 377.5h0M691.5 382h0M695 380.5h0M697 354h0M699 377.5h0M703 382.5h0M705 369h0M707 349.5h0M709 378h0M713 349h0M717 377h0M719 368.5h0M721 370.5h0M723 375.5h0M727 378.5h0M729 381.5h0M731 376.5h0M733 378h0M737 357.5h0M739 354.5h0M743 370h0M745 349.5h0M747 378h0M749 343.5h0M751 359h0M753 381h0M755 378h0M759 363h0M761 356h0M763 371h0M765 370.5h0M769 381.5h0M771 360h0M773 383.5h0M781 375h0M783 374.5h0M785 382.5h0M787 357h0M791 376h0M793 358h0M795 365h0M799 359h0M801 351.5h0M803 356.5h0M805 372.5h0M807 378.5h0M809 351.5h0M811 374.5h0M813 374h0M817 386h0M819 365.5h0M821 368h0M823 348h0M825 349h0M827 378.5h0M829 371.5h0M831 386h0M833 371h0M837 377h0M839 382.5h0M841 381.5h0M843 381.5h0M847 373h0M849 384h0M855 343h0M857 377.5h0M859 381h0M861 377.5h0M863 378h0M867 370h0M869 372.5h0M871 380.5h0M875 369h0M877 349.5h0M879 374h0M883 359.5h0M889 379.5h0M891 380h0M897 374.5h0M899 346h0M901 374h0M903 378.5h0M905 380h0M907 383.5h0M909 361h0M911 368.5h0M915 383.5h0M917 364h0M919 353h0M923 357.5h0M929 348.5h0M931 369.5h0M1013 343h0M1019 322h0M1036.5 323.5h0M1038.5 321h0M1086.5 319h0M1124.5 331.5h0M1150.5 330.5h0M1162.5 330h0M1188.5 343h0M1192.5 357h0"/><path stroke="#5928b5" d="M961 317h0M993 310.5h0M1003 306.5h0M1013 298h0M1019 298h0M1058.5 288.5h0M1076.5 257h0M1078.5 256.5h0M1082.5 271h0M1092.5 259h0M1116.5 222.5h0M1118.5 232.5h0M1122.5 225.5h0M1124.5 221h0M1132.5 218h0M1138.5 200h0M1142.5 192h0M1150.5 179.5h0M1152.5 172h0M1160.5 165h0M1176.5 120h0M1182.5 102.5h0M1184.5 98h0"/><path stroke="#5428b9" d="M595.5 334.5h0M597.5 347.5h0M599.5 343.5h0M601.5 342.5h0M603.5 346.5h0M605.5 352.5h0M607.5 338.5h0M609.5 347.5h0M611.5 338.5h0M613.5 343h0M615.5 346h0M617.5 348h0M619.5 347h0M621.5 345h0M623.5 346.5h0M625.5 347.5h0M627.5 354h0M629.5 345.5h0M631.5 369h0M633.5 338.5h0M635.5 351.5h0M637.5 353.5h0M639.5 349h0M641.5 341.5h0M643.5 347h0M645.5 348.5h0M647.5 337h0M649.5 350.5h0M651.5 346h0M653.5 340.5h0M655.5 338h0M657.5 352h0M659.5 343.5h0M663.5 348.5h0M665.5 342.5h0M667.5 342.5h0M669.5 357.5h0M671.5 339.5h0M673.5 337.5h0M675.5 348h0M677.5 350h0M679.5 352h0M681.5 356h0M683.5 348h0M695 351h0M701 351h0M703 349h0M707 349h0M713 343.5h0M715 347.5h0M717 351.5h0M719 353h0M721 348.5h0M725 355.5h0M727 352h0M731 345h0M733 341h0M735 339h0M737 344h0M739 354h0M743 349h0M745 344h0M747 348.5h0M749 351h0M751 341h0M753 350.5h0M755 348h0M761 343h0M763 348h0M765 354.5h0M767 344h0M769 343h0M771 347h0M773 349h0M777 351.5h0M779 354.5h0M781 353.5h0M787 343.5h0M789 351.5h0M791 360.5h0M793 350h0M797 340.5h0M799 341h0M801 346.5h0M805 346h0M807 343.5h0M809 348h0M811 350.5h0M815 347h0M827 348h0M833 347h0M837 352.5h0M841 349h0M843 348.5h0M845 354h0M847 352h0M849 345h0M851 352h0M855 351.5h0M857 347h0M859 360.5h0M861 335h0M863 345.5h0M865 346h0M879 363h0M881 346.5h0M883 354h0M885 346h0M887 350.5h0M889 346h0M895 352h0M899 357h0M903 354h0M905 349h0M907 346.5h0M909 345.5h0M911 349h0M913 355.5h0M917 347.5h0M921 346.5h0M923 348.5h0M925 345.5h0M927 343h0M929 355h0M931 352.5h0M933 348h0M935 348h0M937 348.5h0M939 351.5h0M941 348h0M943 356h0M945 349.5h0M947 349h0M949 352.5h0M953 348.5h0M955 347.5h0M957 356h0M959 356h0M961 357h0M965 349h0M967 348.5h0M969 347h0M971 351h0M975 347h0M977 363.5h0M981 351h0M991 363.5h0M995 348h0M1001 348h0M1007 351h0M1009 352.5h0M1011 354.5h0M1025 350h0M1028.5 352h0M1034.5 359.5h0M1036.5 353.5h0M1042.5 349h0M1046.5 349h0M1050.5 356h0M1056.5 349h0M1060.5 353h0M1072.5 356.5h0M1074.5 353.5h0M1090.5 351h0M1092.5 364.5h0M1094.5 350.5h0M1096.5 350.5h0M1104.5 356h0M1124.5 354.5h0M1130.5 352h0M1142.5 359.5h0M1156.5 356.5h0M1166.5 337.5h0M1170.5 357.5h0M1172.5 337h0M1192.5 345.5h0"/><path stroke="#4d26bf" d="M1040.5 251h0M1042.5 252.5h0M1046.5 254.5h0M1074.5 234h0M1078.5 225.5h0M1080.5 226h0M1094.5 222h0M1096.5 221.5h0M1110.5 203.5h0"/><path stroke="#4a26bc" d="M849 337h0M855 333h0M985 320.5h0M1036.5 325h0M1038.5 326h0M1138.5 329.5h0M1144.5 332.5h0M1174.5 340h0M1182.5 339.5h0M1186.5 336.5h0"/><path stroke="#4726b6" d="M683.5 339.5h0M685.5 344.5h0M687.5 338.5h0M689.5 348.5h0M691.5 341.5h0M693 348.5h0M695 348h0M697 344.5h0M699 345.5h0M701 339h0M703 342h0M705 341.5h0M707 347.5h0M709 336h0M713 338.5h0M715 353h0M719 337.5h0M721 350h0M723 338.5h0M725 352h0M727 343h0M729 336.5h0M731 351h0M733 337h0M735 334h0M737 347.5h0M739 340.5h0M741 340.5h0M743 341.5h0M745 338h0M747 343h0M749 339h0M751 338.5h0M753 339h0M755 336.5h0M757 343.5h0M759 338.5h0M761 337h0M763 349h0M765 338h0M767 336.5h0M769 340.5h0M771 336.5h0M775 345.5h0M777 344h0M783 339h0M785 341.5h0M789 344.5h0M791 337.5h0M793 341h0M797 343.5h0M799 345.5h0M801 337h0M803 340h0M805 333.5h0M807 341.5h0M809 334.5h0M811 343h0M813 343h0M815 340.5h0M817 335h0M819 346h0M821 343h0M825 346.5h0M829 345.5h0M831 337h0M833 338.5h0M835 342h0M837 346.5h0M839 346.5h0M841 342h0M843 344.5h0M847 339h0M849 339.5h0M851 351h0M853 347.5h0M855 345.5h0M857 352h0M859 332h0M861 343h0M863 335.5h0M865 340h0M867 347.5h0M869 336.5h0M871 340h0M875 345.5h0M877 340.5h0M879 336h0M883 338h0M885 339h0M887 342h0M893 346.5h0M895 344.5h0M897 341.5h0M905 339.5h0M911 339h0M913 353h0M915 346h0M921 340.5h0M927 337h0M929 337h0M933 347h0M935 340.5h0M947 350.5h0M949 340h0M959 341.5h0M961 354.5h0M963 339.5h0M967 341.5h0M969 345.5h0M971 356h0M973 345.5h0M975 346.5h0M987 349.5h0M989 345.5h0M997 346.5h0M999 345.5h0M1003 346.5h0M1005 346.5h0M1007 349.5h0M1023 346.5h0M1030.5 347.5h0M1032.5 349.5h0M1038.5 343h0M1040.5 348h0M1052.5 343.5h0M1056.5 351h0M1060.5 346.5h0M1068.5 347.5h0M1070.5 345h0M1074.5 347.5h0M1078.5 350h0M1090.5 349h0M1092.5 345h0M1098.5 348h0M1102.5 349.5h0M1106.5 349h0M1114.5 349h0M1116.5 354h0M1118.5 352h0M1122.5 353.5h0M1130.5 333h0M1136.5 358.5h0M1142.5 354h0M1150.5 358.5h0M1154.5 357.5h0M1156.5 356h0M1192.5 361.5h0"/><path stroke="#4326b0" d="M735 292h0M961 304h0M997 291.5h0M1034.5 271.5h0M1044.5 281h0M1056.5 272.5h0M1058.5 267h0M1066.5 262h0M1070.5 262.5h0M1072.5 261.5h0M1074.5 251.5h0M1080.5 259h0M1092.5 247.5h0M1098.5 236.5h0M1100.5 243h0M1102.5 233.5h0M1112.5 223h0M1120.5 203.5h0M1122.5 211.5h0M1126.5 206h0M1128.5 207h0M1130.5 199.5h0M1132.5 204.5h0M1140.5 198h0M1162.5 145.5h0M1188.5 82h0"/><path stroke="#4126ac" d="M945 310.5h0M955 308h0M961 312h0M967 312.5h0M979 313.5h0M981 305h0M985 311.5h0M995 304h0M997 309h0M999 304.5h0M1001 296h0M1003 307h0M1005 301h0M1007 300.5h0M1009 297.5h0M1011 314.5h0M1013 313.5h0M1017 305h0M1019 293h0M1025 297.5h0M1026.5 292h0M1028.5 296.5h0M1032.5 298.5h0M1042.5 295h0M1046.5 282h0M1048.5 295.5h0M1050.5 288.5h0M1052.5 288h0M1054.5 287h0M1060.5 276.5h0M1062.5 288h0M1064.5 285h0M1068.5 281.5h0M1070.5 286h0M1074.5 285.5h0M1078.5 281h0M1082.5 270h0M1084.5 268h0M1086.5 273.5h0M1088.5 263h0M1092.5 264h0M1094.5 255.5h0M1096.5 270h0M1102.5 253.5h0M1104.5 239h0M1106.5 236.5h0M1108.5 249h0M1112.5 241h0M1114.5 235h0M1116.5 238.5h0M1118.5 241h0M1120.5 227.5h0M1122.5 238h0M1124.5 234.5h0M1126.5 216.5h0M1128.5 223.5h0M1130.5 225h0M1138.5 209h0M1140.5 217h0M1142.5 203.5h0M1144.5 188.5h0M1146.5 188.5h0M1148.5 186h0M1150.5 190.5h0M1152.5 184h0M1158.5 173.5h0M1162.5 157.5h0M1164.5 163h0M1166.5 147.5h0M1168.5 146h0M1170.5 142h0M1172.5 118h0M1174.5 123.5h0M1176.5 131.5h0M1178.5 114h0M1180.5 112h0M1186.5 92.5h0"/><path stroke="#3d26a6" d="M627.5 266.5h0M629.5 266.5h0M631.5 267.5h0M633.5 259h0M637.5 282.5h0M641.5 271h0M643.5 263.5h0M645.5 267h0M647.5 265h0M649.5 249h0M651.5 269.5h0M653.5 266h0M655.5 262h0M657.5 256h0M659.5 264h0M661.5 257.5h0M663.5 274.5h0M665.5 263h0M667.5 260h0M669.5 260h0M671.5 275h0M673.5 252.5h0M675.5 268.5h0M677.5 258.5h0M679.5 257h0M681.5 265.5h0M683.5 267h0M685.5 269h0M687.5 267.5h0M689.5 262h0M691.5 271h0M693 269h0M695 257h0M697 267.5h0M699 261h0M701 261.5h0M703 258h0M705 260.5h0M707 263.5h0M709 266h0M711 254h0M713 262.5h0M715 248h0M719 259h0M721 260h0M723 261.5h0M725 256h0M727 261.5h0M729 258.5h0M731 261.5h0M733 257h0M735 265h0M737 250h0M739 257h0M741 256.5h0M743 268h0M747 260.5h0M749 254h0M751 252.5h0M753 258h0M757 260h0M761 255.5h0M765 259h0M767 262.5h0M769 250.5h0M771 256h0M773 253h0M775 263h0M777 260.5h0M779 252h0M781 242.5h0M783 255.5h0M785 255.5h0M787 260.5h0M789 259.5h0M791 262h0M795 251.5h0M797 250.5h0M801 257h0M803 257.5h0M805 252h0M807 251h0M811 247.5h0M813 254.5h0M815 254h0M825 251h0M827 243h0M831 242.5h0M833 243.5h0M841 251h0M845 248h0M849 239.5h0M855 230h0M857 245h0M859 242h0M861 249h0M863 245.5h0M865 240.5h0M867 251.5h0M877 231h0M881 244.5h0M885 234.5h0M891 240.5h0M893 236h0M895 240h0M897 231.5h0M901 240h0M903 244.5h0M905 232.5h0M907 233.5h0M909 225.5h0M911 237h0M913 232.5h0M915 243.5h0M917 230.5h0M919 214h0M923 226.5h0M925 231.5h0M929 231.5h0M931 229h0M933 229h0M935 227.5h0M937 219h0M939 228.5h0M941 230.5h0M945 223.5h0M947 225h0M949 221h0M955 218.5h0M959 223h0M961 219.5h0M963 226h0M967 221.5h0M969 213h0M971 222h0M973 214h0M975 216h0M977 210h0M979 215h0M981 203.5h0M987 196.5h0M989 209h0M993 209h0M995 213.5h0M999 203.5h0M1001 202h0M1003 204h0M1005 201h0M1009 203h0M1011 198.5h0M1015 198.5h0M1019 197h0M1021 193.5h0M1023 197h0M1025 185.5h0M1026.5 200.5h0M1030.5 190.5h0M1032.5 189.5h0M1034.5 198h0M1036.5 180h0M1038.5 182.5h0M1040.5 187.5h0M1042.5 178h0M1044.5 177.5h0M1046.5 178.5h0M1048.5 188.5h0M1050.5 176.5h0M1056.5 177.5h0M1058.5 170h0M1060.5 165.5h0M1062.5 154.5h0M1064.5 171h0M1072.5 157h0M1074.5 166.5h0M1076.5 155h0M1078.5 159.5h0M1080.5 167h0M1082.5 160h0M1084.5 148.5h0M1086.5 151.5h0M1088.5 149.5h0M1092.5 149.5h0M1094.5 145.5h0M1096.5 139.5h0M1098.5 152h0M1100.5 142h0M1102.5 135h0M1104.5 147.5h0M1106.5 137h0M1108.5 141h0M1110.5 144h0M1112.5 140.5h0M1114.5 129.5h0M1116.5 129.5h0M1118.5 133.5h0M1120.5 128.5h0M1122.5 126.5h0M1124.5 122h0M1126.5 126.5h0M1128.5 123.5h0M1130.5 119h0M1132.5 120h0M1134.5 116.5h0M1136.5 115.5h0M1142.5 102.5h0M1144.5 99.5h0M1148.5 88.5h0M1150.5 92.5h0M1152.5 92.5h0M1154.5 87.5h0M1156.5 95.5h0M1158.5 98h0M1160.5 85.5h0M1164.5 83.5h0M1170.5 73h0M1172.5 70h0"/><path stroke="#3b26a2" d="M811 287h0M853 297.5h0M875 289h0M893 276.5h0M899 278h0M903 279.5h0M907 280.5h0M925 277.5h0M945 276h0M957 276h0M965 274h0M979 270.5h0M981 269h0M987 268.5h0M999 265h0M1001 267.5h0M1005 256.5h0M1009 252.5h0M1013 251h0M1015 246.5h0M1017 256h0M1019 244h0M1028.5 243.5h0M1030.5 246.5h0M1032.5 243.5h0M1034.5 244h0M1038.5 234h0M1040.5 243h0M1044.5 237.5h0M1048.5 235.5h0M1056.5 226h0M1058.5 222.5h0M1064.5 232.5h0M1070.5 225h0M1076.5 208.5h0M1082.5 224h0M1084.5 221.5h0M1086.5 205h0M1088.5 203h0M1096.5 195.5h0M1116.5 184.5h0M1120.5 169h0M1124.5 167h0M1126.5 173.5h0M1128.5 165.5h0M1132.5 159h0M1146.5 146h0M1192.5 29.5h0"/><path stroke="#37269c" d="M671.5 276.5h0M673.5 273.5h0M675.5 272.5h0M681.5 273h0M685.5 273h0M687.5 280.5h0M691.5 292h0M695 269.5h0M697 276.5h0M699 272h0M709 281.5h0M713 265.5h0M715 274h0M717 275h0M721 280.5h0M725 279.5h0M733 262h0M735 274h0M737 285h0M741 268.5h0M743 278h0M747 273.5h0M749 268h0M753 266h0M757 262.5h0M761 276h0M763 265.5h0M767 267h0M771 275h0M773 269.5h0M775 263.5h0M777 269.5h0M779 277.5h0M781 270h0M783 264.5h0M801 271.5h0M809 262h0M817 263h0M823 264.5h0M831 263h0M859 260.5h0M863 251h0M871 268.5h0M873 253.5h0M877 259h0M897 250h0M903 253h0M939 259h0M947 241h0M959 230h0M987 223h0M1005 208.5h0M1019 212h0M1021 213.5h0M1023 212.5h0M1026.5 201.5h0M1028.5 197h0M1052.5 209h0M1068.5 183.5h0M1076.5 175h0M1080.5 168.5h0M1086.5 173.5h0M1088.5 158h0M1090.5 167h0M1102.5 162h0M1104.5 161.5h0M1108.5 161.5h0M1110.5 142h0M1130.5 127.5h0M1132.5 124h0M1134.5 117.5h0M1138.5 112.5h0M1140.5 116h0M1152.5 105.5h0M1162.5 90h0M1166.5 83h0M1174.5 75.5h0M1178.5 61h0"/><path stroke="#342696" d="M815 273.5h0M817 282h0M819 267h0M821 275h0M827 279h0M831 272.5h0M835 276h0M855 277h0M857 268h0M871 275h0M875 285h0M891 271h0M897 271.5h0M917 266h0M923 260h0M925 263h0M927 262h0M929 260.5h0M931 260h0M933 259.5h0M937 260h0M941 260.5h0M943 259.5h0M947 257.5h0M949 259.5h0M953 254h0M961 256.5h0M967 260.5h0M971 261.5h0M973 243.5h0M975 241.5h0M983 251h0M991 248h0M995 241.5h0M997 236.5h0M1001 234.5h0M1003 237h0M1007 228.5h0M1009 234h0M1011 246h0M1013 242h0M1015 235h0M1017 231h0M1019 234.5h0M1028.5 233.5h0M1044.5 229.5h0M1062.5 204.5h0M1076.5 188h0M1080.5 186.5h0M1082.5 191.5h0M1088.5 176.5h0M1092.5 179.5h0M1102.5 169h0M1108.5 175h0M1110.5 170.5h0M1120.5 146h0M1142.5 113.5h0M1146.5 116h0M1160.5 94.5h0M1162.5 95.5h0M1164.5 90h0M1166.5 80h0M1182.5 47.5h0M1184.5 52.5h0M1186.5 55h0M1192.5 43.5h0"/><path stroke="#312692" d="M843 306.5h0M885 312.5h0M891 307h0M903 305h0M905 300h0M941 307h0M943 306.5h0M945 307.5h0M951 308.5h0M953 312h0M955 311.5h0M957 310h0M965 304h0M967 302.5h0M971 295.5h0M975 310.5h0M979 310.5h0M983 313.5h0M985 297.5h0M987 298.5h0M989 309h0M993 301h0M995 300h0M999 303h0M1001 302.5h0M1003 292.5h0M1011 296h0M1013 311.5h0M1015 295h0M1017 302h0M1019 292.5h0M1021 290h0M1026.5 302.5h0M1028.5 292.5h0M1032.5 287.5h0M1034.5 293.5h0M1036.5 296.5h0M1038.5 287h0M1040.5 288.5h0M1042.5 283.5h0M1044.5 285h0M1046.5 287h0M1048.5 287.5h0M1050.5 283h0M1052.5 271.5h0M1054.5 283.5h0M1056.5 285.5h0M1058.5 288h0M1060.5 286h0M1062.5 272.5h0M1064.5 281h0M1066.5 271.5h0M1068.5 276h0M1070.5 270h0M1072.5 271.5h0M1074.5 281h0M1076.5 278h0M1078.5 269.5h0M1080.5 267.5h0M1082.5 266h0M1084.5 258.5h0M1086.5 253h0M1088.5 260h0M1090.5 245h0M1092.5 257.5h0M1094.5 248.5h0M1096.5 255.5h0M1098.5 243.5h0M1100.5 248h0M1102.5 249.5h0M1104.5 243h0M1106.5 241.5h0M1108.5 240.5h0M1110.5 246.5h0M1114.5 230.5h0M1116.5 221h0M1118.5 219.5h0M1120.5 226.5h0M1122.5 235h0M1124.5 214.5h0M1126.5 212h0M1128.5 213.5h0M1130.5 208.5h0M1132.5 205h0M1134.5 215.5h0M1136.5 196h0M1138.5 199.5h0M1140.5 190.5h0M1142.5 202.5h0M1146.5 184.5h0M1148.5 180.5h0M1150.5 173h0M1152.5 168h0M1154.5 171h0M1156.5 160.5h0M1158.5 165.5h0M1160.5 152.5h0M1162.5 143.5h0M1164.5 153.5h0M1168.5 137h0M1170.5 134h0M1172.5 131.5h0M1174.5 127h0M1176.5 113h0M1178.5 108h0M1186.5 84.5h0M1192.5 57.5h0"/><path stroke="#2e268c" d="M835 269.5h0M837 271h0M839 273.5h0M841 275h0M845 277h0M847 271h0M849 271.5h0M851 269h0M853 264.5h0M855 259.5h0M861 258.5h0M863 273.5h0M869 266h0M871 252h0M873 271.5h0M875 272h0M877 270h0M881 266h0M885 262.5h0M889 268h0M901 268.5h0M905 251.5h0M909 256.5h0M913 267.5h0M915 262h0M927 256.5h0M931 247.5h0M933 253.5h0M935 253.5h0M939 248.5h0M941 263.5h0M943 254h0M947 253h0M951 238h0M955 253h0M959 247h0M961 243h0M965 242h0M967 249.5h0M971 240h0M973 254.5h0M975 246.5h0M979 240h0M981 237.5h0M983 239.5h0M985 240h0M987 236.5h0M989 243h0M991 243h0M993 238h0M995 232.5h0M997 231h0M1001 231h0M1003 228.5h0M1005 231.5h0M1007 234.5h0M1009 222h0M1011 238h0M1013 227.5h0M1015 226.5h0M1017 228h0M1023 224.5h0M1025 230.5h0M1026.5 238.5h0M1030.5 223h0M1032.5 219.5h0M1034.5 226h0M1036.5 227.5h0M1038.5 214.5h0M1040.5 211.5h0M1042.5 211h0M1044.5 209.5h0M1050.5 214h0M1052.5 204h0M1056.5 203.5h0M1060.5 201.5h0M1066.5 205h0M1074.5 191.5h0M1078.5 193h0M1082.5 192h0M1084.5 191h0M1086.5 192.5h0M1094.5 177h0M1098.5 181.5h0M1106.5 177h0M1108.5 167.5h0M1110.5 170h0M1112.5 168.5h0M1116.5 167.5h0M1118.5 166h0M1120.5 160h0M1126.5 155h0M1146.5 138h0M1152.5 124.5h0M1170.5 81h0M1180.5 97.5h0M1192.5 67.5h0"/><path stroke="#2b2688" d="M505.5 329h0M507.5 319.5h0M509.5 324.5h0M511.5 323h0M513.5 320.5h0M515.5 312.5h0M517.5 325.5h0M519.5 330.5h0M521.5 313h0M523.5 317h0M525.5 328h0M527.5 312.5h0M529.5 325.5h0M531.5 311.5h0M533.5 326h0M535.5 322h0M537.5 312h0M539.5 330.5h0M541.5 320.5h0M543.5 321h0M545.5 313h0M547.5 316.5h0M549.5 332h0M551.5 318.5h0M553.5 317.5h0M555.5 320.5h0M557.5 320.5h0M559.5 330.5h0M561.5 315.5h0M563.5 330.5h0M565.5 329h0M569.5 328.5h0M571.5 314.5h0M573.5 321h0M575.5 306.5h0M577.5 316.5h0M579.5 324h0M581.5 313h0M583.5 317h0M585.5 314h0M593.5 320.5h0M595.5 319h0M597.5 317h0M599.5 326.5h0M601.5 306.5h0M603.5 324.5h0M605.5 310.5h0M607.5 322h0M611.5 324.5h0M615.5 319.5h0M617.5 314h0M623.5 315h0M625.5 315h0M653.5 331h0M655.5 316h0M667.5 332h0M679.5 305h0M687.5 310.5h0M705 329.5h0M717 313h0M741 333.5h0M825 312h0M829 313h0M837 317h0M845 310h0M861 309.5h0M865 316h0M877 314h0M881 319h0M887 310.5h0M889 313.5h0M891 311h0M893 312.5h0M901 309h0M903 310.5h0M905 317.5h0M909 311h0M911 316.5h0M915 309.5h0M917 311.5h0M919 304.5h0M923 311.5h0M927 307h0M931 306h0M933 310.5h0M937 313.5h0M941 304h0M943 305.5h0M947 315.5h0M949 301.5h0M951 299.5h0M953 302.5h0M963 309.5h0M965 306.5h0M967 309h0M969 301h0M971 303h0M973 294h0M975 304.5h0M979 307h0M981 306h0M983 306.5h0M985 306h0M987 304h0M989 288.5h0M991 299.5h0M995 291h0M997 300.5h0M999 299h0M1003 291.5h0M1005 297.5h0M1007 294.5h0M1011 285h0M1013 294h0M1015 290.5h0M1017 282.5h0M1019 288h0M1023 290h0M1025 285h0M1030.5 281.5h0M1032.5 282.5h0M1034.5 280.5h0M1036.5 280.5h0M1038.5 272.5h0M1040.5 275h0M1044.5 274h0M1050.5 275h0M1052.5 267.5h0M1054.5 278.5h0M1056.5 281.5h0M1062.5 268h0M1064.5 265h0M1068.5 257.5h0M1072.5 260.5h0M1074.5 264.5h0M1076.5 264h0M1080.5 250h0M1082.5 254.5h0M1084.5 245.5h0M1086.5 245h0M1092.5 243h0M1104.5 229h0M1106.5 230.5h0M1110.5 226.5h0M1116.5 216.5h0M1118.5 216.5h0M1120.5 202.5h0M1132.5 193h0M1136.5 190h0M1144.5 179h0M1154.5 152h0M1156.5 143.5h0M1158.5 142h0M1162.5 132.5h0"/><path stroke="#282682" d="M555.5 322.5h0M557.5 314h0M559.5 314.5h0M561.5 315h0M563.5 321.5h0M565.5 317h0M567.5 328h0M569.5 319.5h0M571.5 320h0M573.5 320h0M575.5 319.5h0M577.5 322h0M579.5 320h0M581.5 320.5h0M583.5 327.5h0M585.5 321.5h0M587.5 321.5h0M589.5 323h0M591.5 322.5h0M593.5 326h0M595.5 321.5h0M597.5 320.5h0M599.5 324.5h0M601.5 321h0M603.5 316.5h0M605.5 320.5h0M607.5 317h0M609.5 321h0M611.5 329.5h0M613.5 326h0M615.5 312.5h0M617.5 320h0M619.5 329h0M621.5 325.5h0M623.5 321.5h0M625.5 323.5h0M627.5 320h0M631.5 323h0M633.5 329.5h0M635.5 315.5h0M637.5 320.5h0M643.5 316h0M647.5 316.5h0M653.5 318h0M661.5 327h0M665.5 335h0M669.5 330h0M677.5 321.5h0M687.5 311.5h0M689.5 319h0M691.5 337h0M701 317h0M711 312h0M717 318h0M733 320h0M763 321h0M765 323.5h0M771 340h0M775 316.5h0M785 333.5h0M793 332.5h0M801 334.5h0M817 326h0M819 314h0M821 335h0M829 329h0M831 319h0M835 332.5h0M855 332h0M857 330h0M865 333h0M873 317.5h0M883 333.5h0M887 335.5h0M917 315h0M921 316.5h0M925 336h0M945 337.5h0M957 337h0M979 342.5h0M981 321h0M1017 345h0M1021 345.5h0M1034.5 315.5h0M1038.5 340.5h0M1042.5 324.5h0M1064.5 329.5h0M1072.5 341.5h0M1078.5 346.5h0M1084.5 352h0M1100.5 330h0M1146.5 358.5h0M1160.5 353h0M1190.5 366h0"/><path stroke="#25257c" d="M795 260h0M797 264.5h0M799 264.5h0M801 253h0M803 259h0M807 262h0M809 256h0M811 255.5h0M813 246.5h0M815 258h0M817 259h0M819 257.5h0M821 252h0M823 256.5h0M825 258h0M827 246.5h0M829 267.5h0M831 252.5h0M833 252.5h0M835 244.5h0M837 259.5h0M839 248.5h0M841 256.5h0M843 250h0M845 255h0M847 252h0M849 246.5h0M851 251h0M853 252.5h0M855 254h0M859 252.5h0M861 239.5h0M863 248h0M867 244.5h0M869 250h0M871 247.5h0M873 246h0M875 248.5h0M877 243h0M879 250h0M881 236h0M883 251h0M885 246.5h0M887 251h0M889 242.5h0M891 234.5h0M893 249.5h0M895 242h0M897 244.5h0M899 241h0M901 228.5h0M903 246h0M905 247.5h0M907 248.5h0M909 248h0M911 236.5h0M913 229.5h0M915 226h0M917 233.5h0M919 244.5h0M921 244h0M923 239.5h0M925 232.5h0M927 238h0M933 237.5h0M939 231h0M941 233h0M943 236.5h0M945 234.5h0M947 220.5h0M949 232.5h0M951 228h0M953 224.5h0M955 239.5h0M957 234h0M959 238h0M961 230h0M963 227h0M965 213h0M967 231h0M969 225h0M971 219h0M973 222h0M975 227.5h0M977 230h0M979 224.5h0M981 213.5h0M983 212.5h0M985 206.5h0M987 212.5h0M991 219h0M993 220.5h0M995 218.5h0M997 205h0M999 206h0M1001 215.5h0M1003 222h0M1005 218.5h0M1009 206.5h0M1011 212.5h0M1013 201.5h0M1015 216.5h0M1017 206h0M1019 204h0M1021 192.5h0M1023 187h0M1025 191h0M1026.5 203h0M1028.5 198.5h0M1030.5 209h0M1032.5 201.5h0M1034.5 202.5h0M1036.5 203h0M1038.5 201h0M1040.5 192.5h0M1042.5 192.5h0M1044.5 192.5h0M1046.5 187h0M1050.5 181h0M1052.5 186h0M1054.5 193.5h0M1056.5 185.5h0M1058.5 182.5h0M1060.5 175h0M1062.5 177h0M1064.5 171.5h0M1066.5 172h0M1068.5 177.5h0M1070.5 168.5h0M1072.5 170.5h0M1074.5 171h0M1078.5 176.5h0M1080.5 169.5h0M1084.5 184h0M1086.5 165.5h0M1088.5 160h0M1090.5 154.5h0M1092.5 174h0M1094.5 151h0M1096.5 157h0M1098.5 157.5h0M1100.5 158.5h0M1102.5 152h0M1104.5 152h0M1106.5 154.5h0M1108.5 135.5h0M1110.5 150h0M1112.5 147h0M1114.5 144h0M1118.5 139.5h0M1120.5 128h0M1122.5 134.5h0M1124.5 139.5h0M1128.5 130.5h0M1130.5 135.5h0M1134.5 123.5h0M1140.5 120h0M1154.5 104.5h0M1168.5 95h0M1192.5 61.5h0"/><path stroke="#222270" d="M643.5 323h0M645.5 333.5h0M647.5 329.5h0M651.5 321.5h0M657.5 329.5h0M659.5 325.5h0M661.5 334.5h0M663.5 334.5h0M669.5 341h0M671.5 329.5h0M673.5 327h0M675.5 316h0M679.5 316.5h0M681.5 333.5h0M683.5 338h0M687.5 313h0M693 332h0M695 336h0M699 324h0M701 324.5h0M705 316.5h0M707 323.5h0M709 335h0M711 340.5h0M715 335.5h0M721 331.5h0M727 330h0M729 327h0M731 332h0M733 323h0M737 334h0M739 330.5h0M747 325h0M749 333.5h0M755 325h0M757 336.5h0M759 331h0M761 335.5h0M765 321.5h0M769 327h0M773 338h0M775 337.5h0M777 326.5h0M779 336h0M781 332.5h0M783 326h0M785 322h0M787 331h0M789 327h0M791 325.5h0M793 329h0M795 332.5h0M799 326h0M801 331.5h0M807 332.5h0M811 321h0M813 325h0M815 327h0M819 335h0M827 338.5h0M833 321h0M835 331.5h0M837 332h0M845 334h0M851 328.5h0M863 333h0M865 318h0M885 332.5h0M887 333h0M889 330.5h0M891 332h0M897 316.5h0M911 317h0M937 319.5h0M955 335h0M957 317.5h0M987 322.5h0M1003 319.5h0M1026.5 324.5h0M1028.5 324h0M1030.5 325.5h0M1038.5 329h0M1042.5 340h0M1050.5 322.5h0M1060.5 331h0M1064.5 337h0M1074.5 316h0M1076.5 342.5h0M1084.5 345.5h0M1114.5 325.5h0M1138.5 333h0M1142.5 333.5h0M1144.5 335h0M1158.5 329h0M1162.5 335.5h0M1168.5 339.5h0M1178.5 341.5h0M1186.5 344.5h0M1190.5 348h0M1192.5 354h0"/><path stroke="#1e1e64" d="M763 305h0M775 317.5h0M801 310h0M811 312.5h0M817 289h0M819 308h0M823 307h0M825 307.5h0M829 315h0M833 310h0M839 301h0M841 312.5h0M845 311h0M853 310h0M869 296.5h0M881 300h0M883 298h0M885 303h0M893 303.5h0M897 302h0M909 288h0M911 307h0M917 304.5h0M921 301h0M923 299.5h0M927 304.5h0M931 296h0M933 306h0M937 300.5h0M943 299h0M951 295h0M953 300h0M957 295.5h0M959 300h0M961 293.5h0M965 291.5h0M971 286.5h0M973 293h0M977 296.5h0M979 297.5h0M983 290h0M987 289h0M989 294.5h0M1003 285.5h0M1011 282h0M1017 281.5h0M1019 281.5h0M1021 281.5h0M1023 278h0M1025 279.5h0M1028.5 275h0M1030.5 272h0M1040.5 254h0M1042.5 272.5h0M1048.5 254.5h0M1052.5 254h0M1054.5 266h0M1058.5 261.5h0M1068.5 255h0M1070.5 252.5h0M1078.5 248.5h0M1080.5 240h0M1086.5 240.5h0M1088.5 224h0M1090.5 223h0M1096.5 233h0M1098.5 226h0M1100.5 211.5h0M1102.5 224.5h0M1104.5 233.5h0M1106.5 219h0M1108.5 224h0M1110.5 211h0M1112.5 206h0M1116.5 211.5h0M1118.5 211h0M1120.5 202h0M1122.5 200h0M1126.5 197.5h0M1130.5 182.5h0M1134.5 191.5h0M1136.5 185.5h0M1140.5 181h0M1144.5 174.5h0M1146.5 176h0M1148.5 166h0M1150.5 156h0M1152.5 159h0M1154.5 157.5h0M1158.5 153.5h0M1162.5 139h0M1164.5 130h0M1166.5 126.5h0M1168.5 116.5h0M1170.5 127h0M1172.5 127.5h0M1174.5 110.5h0M1176.5 116h0M1178.5 104h0M1180.5 101.5h0M1182.5 92.5h0M1184.5 78.5h0M1186.5 87.5h0M1188.5 87.5h0M1190.5 76h0M1192.5 70h0"/><path stroke="#1c1c5c" d="M891 316.5h0M895 313.5h0M899 319h0M911 322h0M915 323h0M917 340.5h0M929 316h0M931 337.5h0M933 311.5h0M947 312.5h0M951 321.5h0M959 317.5h0M963 336.5h0M965 337.5h0M967 319.5h0M971 313h0M973 316.5h0M977 320.5h0M989 336h0M991 320.5h0M1001 319h0M1017 323.5h0M1023 344.5h0M1032.5 345h0M1034.5 329h0M1040.5 329h0M1042.5 327.5h0M1044.5 328h0M1048.5 325.5h0M1050.5 325h0M1056.5 341.5h0M1058.5 329h0M1066.5 325h0M1072.5 326h0M1082.5 327h0M1086.5 332.5h0M1100.5 344.5h0M1110.5 329h0M1124.5 333h0M1128.5 349h0M1132.5 354.5h0M1134.5 354h0M1138.5 334h0M1152.5 357h0M1154.5 339h0M1164.5 356.5h0"/><path stroke="#181850" d="M629.5 315h0M631.5 312h0M633.5 329h0M635.5 309.5h0M637.5 322h0M639.5 320.5h0M641.5 327h0M643.5 324.5h0M645.5 324.5h0M647.5 314h0M649.5 340h0M651.5 326h0M653.5 330h0M655.5 323h0M657.5 318.5h0M659.5 338.5h0M661.5 314.5h0M663.5 321h0M665.5 326.5h0M667.5 320.5h0M669.5 317.5h0M671.5 318h0M675.5 330.5h0M679.5 320.5h0M681.5 319.5h0M683.5 325h0M685.5 317h0M687.5 329h0M689.5 325.5h0M691.5 325.5h0M693 324h0M695 331.5h0M697 322h0M699 322.5h0M701 330.5h0M703 328h0M705 327.5h0M707 324.5h0M709 323.5h0M711 321h0M713 328.5h0M715 324h0M717 310h0M719 330.5h0M721 326.5h0M723 320.5h0M725 324.5h0M727 321h0M729 326.5h0M731 323.5h0M733 324h0M735 324.5h0M737 325h0M741 320.5h0M743 329h0M745 326.5h0M747 316.5h0M749 330.5h0M751 324h0M753 331h0M755 320h0M757 328h0M759 319.5h0M761 330h0M763 332h0M765 327h0M767 320.5h0M769 319h0M771 324h0M773 326h0M775 330h0M779 323.5h0M783 315.5h0M785 331h0M787 321.5h0M789 322.5h0M791 323.5h0M793 319.5h0M795 328.5h0M797 318.5h0M799 315.5h0M801 326h0M803 323h0M805 332h0M807 331h0M809 324h0M811 323h0M813 345.5h0M815 328h0M817 333.5h0M819 318.5h0M821 326h0M823 332h0M825 330.5h0M829 319h0M831 328.5h0M835 324.5h0M837 331.5h0M839 319.5h0M841 329.5h0M843 326h0M847 325h0M849 314h0M851 324h0M853 338.5h0M855 317h0M857 329h0M861 324h0M863 328h0M865 332h0M867 317h0M869 329.5h0M871 317.5h0M873 334.5h0M875 334.5h0M877 319.5h0M881 330h0M883 326h0M885 320.5h0M887 322.5h0M889 328h0M891 327h0M895 322h0M897 319h0M909 328h0M911 336.5h0M913 317.5h0M917 319h0M927 314h0M931 321.5h0M933 324h0M935 326h0M937 337h0M947 321h0M951 337.5h0M955 325h0M957 332h0M959 330h0M961 345.5h0M971 323h0M975 321.5h0M983 335.5h0M989 321.5h0M991 334.5h0M995 321h0M999 343.5h0M1003 327.5h0M1009 343h0M1011 330h0M1013 324.5h0M1021 325h0M1034.5 330.5h0M1040.5 338h0M1042.5 338.5h0M1044.5 342h0M1048.5 347.5h0M1054.5 324.5h0M1058.5 333h0M1060.5 342.5h0M1062.5 321.5h0M1066.5 331h0M1076.5 325.5h0M1078.5 342.5h0M1084.5 342h0M1090.5 345.5h0M1096.5 327h0M1098.5 330.5h0M1108.5 323h0M1110.5 347h0M1118.5 355h0M1128.5 348h0M1130.5 347h0M1134.5 336.5h0M1138.5 354.5h0M1146.5 356.5h0M1148.5 343.5h0M1152.5 335.5h0M1162.5 349.5h0M1172.5 351h0M1182.5 359h0M1186.5 348.5h0M1190.5 363h0M1192.5 360.5h0"/><path stroke="#161648" d="M615.5 310h0M617.5 300.5h0M629.5 306.5h0M637.5 300h0M647.5 302.5h0M649.5 290h0M657.5 301.5h0M667.5 302.5h0M669.5 309.5h0M671.5 312h0M677.5 306.5h0M679.5 311.5h0M681.5 291.5h0M685.5 296h0M689.5 309.5h0M691.5 303.5h0M695 299.5h0M699 298.5h0M701 298h0M711 300.5h0M723 307h0M727 303h0M733 300.5h0M741 312.5h0M757 287.5h0M793 290h0M795 290.5h0M803 303h0M811 306h0M817 300h0M819 299h0M837 310h0M851 308.5h0M855 289h0M859 306h0M861 301.5h0M863 293.5h0M865 301h0M869 306.5h0M871 293h0M875 304h0M879 295.5h0M883 294.5h0M897 296.5h0M899 299.5h0M901 299.5h0M905 299.5h0M909 299.5h0M911 305h0M917 298h0M919 296.5h0M923 290h0M925 304.5h0M927 297h0M931 297.5h0M933 289.5h0M935 294.5h0M937 289.5h0M939 295h0M941 291.5h0M943 290h0M945 296h0M947 275.5h0M951 290h0M957 288h0M961 288h0M965 289.5h0M967 278h0M971 281h0M973 273.5h0M983 285.5h0M987 285h0M991 292.5h0M997 284.5h0M1003 280h0M1005 276.5h0M1007 287h0M1011 279.5h0M1013 275.5h0M1017 266h0M1021 275.5h0M1025 263.5h0M1026.5 278h0M1028.5 269h0M1030.5 258h0M1032.5 264h0M1034.5 259.5h0M1036.5 265h0M1038.5 271h0M1040.5 267h0M1042.5 270h0M1044.5 266h0M1046.5 268.5h0M1048.5 257h0M1050.5 265h0M1052.5 264h0M1054.5 247h0M1056.5 255h0M1058.5 253h0M1062.5 254.5h0M1064.5 243h0M1066.5 251.5h0M1068.5 248h0M1072.5 249.5h0M1074.5 248h0M1076.5 236h0M1078.5 240.5h0M1080.5 236h0M1082.5 239.5h0M1084.5 226h0M1086.5 228.5h0M1088.5 244.5h0M1090.5 229h0M1092.5 237h0M1094.5 222.5h0M1096.5 222h0M1100.5 219h0M1106.5 216h0M1108.5 216h0M1110.5 217h0M1112.5 204h0M1116.5 204.5h0M1118.5 201h0M1120.5 196h0M1122.5 193.5h0M1124.5 191.5h0M1126.5 190h0M1128.5 184h0M1130.5 185h0M1132.5 165.5h0M1134.5 180h0M1136.5 174.5h0M1140.5 165h0M1142.5 172h0M1144.5 164.5h0M1148.5 161.5h0M1152.5 148h0M1154.5 146h0M1158.5 139h0M1160.5 130.5h0M1162.5 123.5h0M1166.5 122h0M1174.5 98h0M1180.5 87.5h0M1192.5 388h0"/><path stroke="#12123c" d="M216 300h0M218 295h0M220 298.5h0M222 309h0M224 304.5h0M226 306.5h0M228 308h0M230 302h0M232 310.5h0M234 301h0M236 315.5h0M238 303h0M240 306h0M242 306h0M244 306.5h0M246 302.5h0M248 294.5h0M250 296.5h0M252 311h0M254 298h0M256 296h0M258 309.5h0M260 305h0M262 302h0M264 306h0M266 309h0M268 302h0M270 305.5h0M272 297h0M274 306.5h0M276 304h0M278 298h0M280 298h0M282 300h0M284 292h0M286 314.5h0M288 293h0M290 300.5h0M292 311h0M294 286h0M296 309h0M298 295h0M300 298h0M302 306.5h0M304 308.5h0M306 292h0M308 303.5h0M310 296.5h0M312 314.5h0M314 309h0M316 310.5h0M318 301.5h0M320 312h0M322 305.5h0M324 310h0M326 302h0M328 307.5h0M330 304h0M332 304.5h0M334 303h0M336 301h0M338 304.5h0M340 311h0M342 306h0M344 307h0M346 309.5h0M348 302h0M350 299h0M352 305h0M354 303h0M356 301.5h0M358 296.5h0M360 304.5h0M361.5 300.5h0M363.5 298h0M365.5 311.5h0M367.5 300h0M369.5 292h0M371.5 300h0M373.5 286h0M375.5 309h0M377.5 300.5h0M379.5 305h0M381.5 306h0M383.5 306.5h0M385.5 304h0M387.5 301.5h0M389.5 309.5h0M391.5 297h0M393.5 308h0M395.5 301h0M397.5 304h0M399.5 304h0M401.5 297h0M403.5 295.5h0M405.5 308h0M407.5 312h0M409.5 301h0M411.5 303.5h0M413.5 311.5h0M415.5 299h0M417.5 300.5h0M419.5 306h0M421.5 316.5h0M423.5 301.5h0M425.5 303h0M427.5 304h0M429.5 309h0M431.5 295.5h0M433.5 306.5h0M435.5 290.5h0M437.5 314.5h0M439.5 305.5h0M441.5 300h0M443.5 302h0M445.5 310h0M447.5 303h0M449.5 300h0M451.5 292h0M453.5 295h0M455.5 303.5h0M457.5 305h0M459.5 305h0M461.5 304.5h0M463.5 299h0M465.5 301h0M467.5 311.5h0M469.5 304h0M471.5 309h0M473.5 303.5h0M475.5 319h0M477.5 297h0M479.5 308.5h0M481.5 300.5h0M483.5 300h0M485.5 301h0M487.5 303h0M489.5 311h0M491.5 298.5h0M493.5 301h0M495.5 299.5h0M497.5 309h0M499.5 298h0M501.5 307h0M503.5 296h0M505.5 301h0M507.5 303h0M509.5 303.5h0M511.5 304.5h0M513.5 296h0M515.5 311h0M517.5 301h0M519.5 305h0M521.5 311.5h0M523.5 300h0M525.5 304h0M527.5 314h0M529.5 298.5h0M531.5 309.5h0M533.5 303.5h0M535.5 305.5h0M537.5 302.5h0M539.5 319.5h0M541.5 306h0M543.5 303h0M545.5 306h0M547.5 287.5h0M549.5 302h0M551.5 307.5h0M553.5 299h0M557.5 303.5h0M561.5 298.5h0M563.5 301h0M565.5 300h0M567.5 312h0M569.5 310h0M571.5 307h0M573.5 295.5h0M575.5 297.5h0M577.5 302h0M579.5 300.5h0M581.5 304h0M583.5 292h0M585.5 306h0M587.5 296.5h0M589.5 299h0M591.5 296.5h0M593.5 308h0M595.5 312.5h0M597.5 301.5h0M599.5 288.5h0M601.5 300.5h0M603.5 302h0M605.5 291h0M609.5 300h0M611.5 302.5h0M613.5 306.5h0M615.5 303h0M617.5 305h0M621.5 301.5h0M623.5 309h0M625.5 318.5h0M627.5 301h0M629.5 302.5h0M631.5 300.5h0M633.5 307.5h0M635.5 303.5h0M637.5 314.5h0M639.5 299.5h0M641.5 306h0M643.5 307.5h0M645.5 311.5h0M647.5 309h0M649.5 301h0M651.5 303.5h0M653.5 307.5h0M655.5 307h0M659.5 297h0M665.5 303h0M669.5 308h0M671.5 309h0M673.5 309.5h0M675.5 303.5h0M677.5 326.5h0M679.5 302.5h0M681.5 298.5h0M683.5 298.5h0M685.5 298.5h0M689.5 308h0M691.5 299.5h0M693 306.5h0M695 308.5h0M699 300h0M705 296h0M707 294h0M709 305h0M711 303.5h0M713 302h0M715 309h0M717 297.5h0M719 302.5h0M721 313.5h0M723 296h0M725 295.5h0M727 304h0M729 295h0M735 303h0M737 300h0M739 311.5h0M753 307h0M755 300h0M757 306h0M759 291h0M761 299.5h0M763 296.5h0M767 293.5h0M769 297h0M771 295h0M773 296h0M775 297.5h0M777 308h0M779 302.5h0M781 298.5h0M785 300.5h0M787 308h0M789 294.5h0M791 310.5h0M793 303.5h0M795 304.5h0M807 299.5h0M809 305.5h0M811 304.5h0M817 297.5h0M819 306.5h0M821 299.5h0M825 303h0M827 305h0M829 300h0M831 295h0M833 301.5h0M835 289h0M841 294h0M843 291.5h0M847 293.5h0M851 305.5h0M855 307h0M857 301h0M859 293.5h0M861 299.5h0M865 304.5h0M867 309.5h0M869 292.5h0M871 293.5h0M873 300.5h0M875 299h0M877 286h0M879 291h0M881 308h0M885 296h0M887 286h0M889 296.5h0M891 299h0M893 291.5h0M895 305h0M897 290.5h0M901 287h0M903 290.5h0M905 294.5h0M907 291.5h0M913 295.5h0M917 293.5h0M921 286h0M925 301.5h0M927 289.5h0M929 287h0M931 307.5h0M933 280.5h0M935 286.5h0M937 289h0M941 288.5h0M943 287.5h0M945 291.5h0M949 287.5h0M951 285.5h0M953 300.5h0M955 288h0M957 282.5h0M959 279.5h0M961 279h0M963 285.5h0M965 285.5h0M967 298.5h0M969 270.5h0M971 284h0M973 285.5h0M975 277.5h0M977 288.5h0M979 285h0M981 278.5h0M983 281h0M987 273.5h0M989 276h0M991 270.5h0M993 282.5h0M995 276.5h0M997 275.5h0M999 281.5h0M1001 273.5h0M1003 269.5h0M1005 268.5h0M1007 257.5h0M1009 269h0M1013 267h0M1015 277h0M1017 269.5h0M1019 259.5h0M1021 270h0M1023 272.5h0M1025 259.5h0M1026.5 265h0M1030.5 248.5h0M1032.5 270.5h0M1034.5 250h0M1036.5 270h0M1038.5 257h0M1040.5 261.5h0M1042.5 261h0M1044.5 261.5h0M1046.5 265.5h0M1048.5 247h0M1050.5 249.5h0M1052.5 238.5h0M1054.5 259.5h0M1056.5 249h0M1058.5 246h0M1060.5 251h0M1062.5 235.5h0M1064.5 239h0M1066.5 247.5h0M1068.5 243.5h0M1070.5 236h0M1072.5 238h0M1074.5 236.5h0M1076.5 240.5h0M1078.5 235h0M1080.5 220h0M1082.5 221h0M1084.5 229.5h0M1086.5 210.5h0M1088.5 233h0M1090.5 208.5h0M1092.5 224.5h0M1094.5 207.5h0M1096.5 214h0M1098.5 220.5h0M1100.5 213.5h0M1102.5 204.5h0M1104.5 209h0M1106.5 212.5h0M1110.5 195h0M1112.5 203h0M1114.5 190.5h0M1116.5 198.5h0M1118.5 187h0M1120.5 184.5h0M1122.5 185.5h0M1124.5 183.5h0M1126.5 189h0M1128.5 163.5h0M1130.5 175h0M1132.5 176h0M1134.5 170h0M1136.5 161h0M1138.5 152h0M1140.5 152.5h0M1142.5 156.5h0M1146.5 158h0M1148.5 154h0M1150.5 146h0M1152.5 139.5h0M1156.5 137.5h0M1158.5 126.5h0M1160.5 124.5h0M1162.5 120.5h0M1164.5 119h0M1168.5 113h0M1170.5 103.5h0M1172.5 96.5h0M1176.5 93h0M1180.5 86h0M1182.5 80.5h0M1184.5 73h0M1186.5 63.5h0M1192.5 36h0"/><path stroke="#0e0e30" d="M421.5 249.5h0M423.5 250.5h0M425.5 266.5h0M427.5 260h0M429.5 257h0M431.5 255.5h0M433.5 258h0M435.5 260h0M437.5 251h0M439.5 257h0M441.5 252.5h0M443.5 262h0M445.5 266.5h0M447.5 260h0M449.5 251h0M451.5 248h0M453.5 263.5h0M455.5 261.5h0M457.5 252.5h0M459.5 251h0M461.5 263.5h0M463.5 257.5h0M465.5 254h0M467.5 251h0M469.5 249.5h0M471.5 244h0M473.5 249.5h0M475.5 263h0M477.5 261h0M479.5 260.5h0M481.5 251h0M483.5 262.5h0M485.5 258h0M487.5 260.5h0M489.5 259h0M491.5 262h0M493.5 249h0M495.5 257.5h0M497.5 255h0M499.5 261.5h0M501.5 263.5h0M503.5 251h0M505.5 271.5h0M507.5 254h0M509.5 251h0M511.5 250h0M513.5 254.5h0M515.5 262h0M517.5 251h0M519.5 263.5h0M521.5 257.5h0M523.5 256.5h0M525.5 258h0M527.5 263h0M529.5 268h0M531.5 261h0M533.5 257h0M535.5 248h0M537.5 246h0M539.5 260h0M541.5 257.5h0M543.5 259h0M545.5 245.5h0M547.5 256.5h0M549.5 245h0M551.5 243h0M553.5 261h0M555.5 250h0M557.5 256h0M559.5 259h0M561.5 254.5h0M563.5 248.5h0M565.5 252.5h0M567.5 248.5h0M569.5 262h0M571.5 254h0M573.5 258.5h0M575.5 256h0M577.5 253.5h0M579.5 256.5h0M581.5 262.5h0M583.5 249.5h0M585.5 250h0M587.5 259.5h0M589.5 235.5h0M591.5 241h0M593.5 252.5h0M595.5 252.5h0M597.5 256h0M599.5 262.5h0M601.5 243.5h0M603.5 247.5h0M605.5 245h0M607.5 256h0M609.5 253h0M611.5 257.5h0M613.5 257h0M615.5 246h0M617.5 243.5h0M619.5 263.5h0M621.5 257h0M623.5 250.5h0M625.5 255.5h0M627.5 259h0M629.5 257h0M631.5 247.5h0M633.5 248h0M635.5 245.5h0M637.5 252h0M639.5 254h0M641.5 254h0M643.5 248h0M645.5 240.5h0M647.5 263.5h0M649.5 245.5h0M651.5 246.5h0M653.5 250.5h0M655.5 253.5h0M657.5 252h0M659.5 246.5h0M661.5 253h0M663.5 252h0M665.5 246h0M667.5 249h0M669.5 250h0M671.5 249h0M673.5 249h0M675.5 243h0M677.5 244h0M679.5 252h0M681.5 247h0M683.5 245.5h0M685.5 240.5h0M687.5 237h0M689.5 237h0M691.5 246.5h0M693 252.5h0M695 232.5h0M697 250h0M699 240h0M701 232h0M703 242h0M705 241h0M707 229.5h0M709 253h0M711 234.5h0M713 254.5h0M715 256.5h0M717 241.5h0M719 241.5h0M721 239.5h0M723 238.5h0M725 240.5h0M727 245h0M729 251h0M731 245.5h0M733 233.5h0M735 238h0M737 246.5h0M739 248h0M741 257h0M743 242h0M745 237.5h0M747 237h0M749 241h0M751 243h0M753 243h0M755 253.5h0M757 254.5h0M759 236.5h0M761 227h0M763 240h0M765 242.5h0M767 234.5h0M769 237h0M771 242h0M773 231.5h0M775 245h0M777 240h0M779 237h0M781 231.5h0M783 236h0M785 239h0M787 236.5h0M789 241h0M791 250h0M793 239h0M795 226h0M797 230.5h0M799 224.5h0M801 235h0M803 241h0M805 227.5h0M807 242.5h0M809 238.5h0M811 229h0M813 230.5h0M815 244.5h0M817 219h0M819 233.5h0M821 228h0M823 228h0M825 247.5h0M827 231.5h0M829 227.5h0M831 232.5h0M833 222h0M835 231.5h0M837 229.5h0M839 229.5h0M841 225.5h0M843 230h0M845 229h0M847 228h0M849 226h0M851 225h0M853 220h0M855 223h0M857 229h0M859 225h0M861 221.5h0M863 220.5h0M865 233.5h0M867 223h0M869 225.5h0M871 228.5h0M873 231h0M875 229.5h0M877 238.5h0M879 220h0M881 220h0M883 219.5h0M885 212.5h0M887 221.5h0M889 223h0M891 222h0M893 207h0M895 222.5h0M897 226h0M899 221.5h0M901 210.5h0M903 223.5h0M905 209h0M907 211h0M909 204.5h0M911 211.5h0M913 212.5h0M915 201.5h0M917 211.5h0M919 210.5h0M921 209.5h0M923 212.5h0M925 203.5h0M927 213h0M929 219h0M931 216h0M933 206h0M935 213.5h0M937 204h0M939 216h0M941 194h0M943 206.5h0M945 210h0M947 200.5h0M949 195h0M951 196h0M953 201.5h0M955 196h0M957 201h0M959 207.5h0M961 206.5h0M963 208.5h0M965 191h0M967 193h0M969 192.5h0M971 194.5h0M973 199h0M975 195.5h0M977 200h0M979 197.5h0M981 191h0M983 181h0M985 194.5h0M987 178h0M989 189h0M991 180h0M993 196.5h0M995 195h0M997 188h0M999 194.5h0M1001 177.5h0M1003 175h0M1005 180.5h0M1007 187.5h0M1009 187.5h0M1011 182h0M1013 191.5h0M1015 168.5h0M1017 176.5h0M1019 181h0M1021 174.5h0M1023 173.5h0M1025 189h0M1026.5 176.5h0M1028.5 170h0M1030.5 174h0M1032.5 170.5h0M1034.5 168h0M1036.5 168h0M1038.5 172h0M1040.5 171.5h0M1042.5 160h0M1044.5 164h0M1046.5 160h0M1048.5 169.5h0M1050.5 157h0M1052.5 158h0M1054.5 151.5h0M1056.5 143.5h0M1058.5 159h0M1060.5 145h0M1062.5 146h0M1064.5 158.5h0M1066.5 137.5h0M1068.5 144h0M1070.5 143.5h0M1072.5 148h0M1074.5 145.5h0M1076.5 143.5h0M1078.5 144.5h0M1080.5 144h0M1082.5 133h0M1084.5 133.5h0M1086.5 122.5h0M1088.5 126h0M1090.5 142h0M1092.5 122h0M1094.5 118h0M1096.5 123h0M1098.5 134.5h0M1100.5 126.5h0M1102.5 117h0M1104.5 121.5h0M1106.5 116.5h0M1108.5 123h0M1110.5 133.5h0M1112.5 120h0M1114.5 120.5h0M1116.5 116.5h0M1118.5 112h0M1120.5 103h0M1122.5 100.5h0M1124.5 99h0M1126.5 105.5h0M1128.5 102.5h0M1130.5 105.5h0M1132.5 102h0M1134.5 88.5h0M1136.5 94.5h0M1138.5 92h0M1140.5 97.5h0M1142.5 100.5h0M1144.5 86h0M1146.5 82h0M1148.5 80.5h0M1150.5 75.5h0M1152.5 74h0M1154.5 84.5h0M1156.5 55.5h0M1158.5 75h0M1160.5 74h0M1162.5 78h0M1164.5 72h0M1166.5 65h0M1168.5 59h0M1170.5 67h0M1172.5 53h0M1174.5 62.5h0M1176.5 53h0M1178.5 50.5h0M1180.5 42.5h0M1182.5 57h0M1184.5 42.5h0M1186.5 41h0M1188.5 36h0M1190.5 43.5h0M1192.5 28.5h0"/><path stroke="#0c0c28" d="M735 300.5h0M737 286.5h0M739 292.5h0M741 298h0M749 297.5h0M751 295h0M753 302h0M755 285h0M757 304.5h0M759 295h0M761 301.5h0M765 304h0M767 290h0M769 299.5h0M771 290h0M773 292h0M775 301h0M779 296h0M783 304.5h0M787 288h0M791 295h0M793 301h0M795 297h0M797 305.5h0M799 291h0M801 298h0M803 296.5h0M805 293.5h0M807 290h0M809 297.5h0M811 290.5h0M813 296h0M815 290.5h0M817 293.5h0M819 292.5h0M821 297.5h0M823 295.5h0M825 290.5h0M827 286.5h0M829 285h0M831 301h0M833 292h0M835 291.5h0M837 299h0M839 291h0M841 289h0M843 301.5h0M845 285.5h0M847 298h0M849 292.5h0M851 287.5h0M853 295.5h0M859 294h0M861 292h0M863 285.5h0M867 289h0M871 282h0M873 294h0M879 286h0M881 289.5h0M883 281h0M885 280h0M887 289h0M889 281.5h0M891 296h0M893 283.5h0M895 282.5h0M897 288.5h0M899 267h0M901 297.5h0M903 288h0M905 290.5h0M907 290.5h0M909 280.5h0M911 280.5h0M913 287.5h0M915 294h0M917 285h0M921 282h0M923 279.5h0M925 287.5h0M927 281h0M929 280.5h0M931 282.5h0M933 284h0M935 283h0M937 278.5h0M939 278.5h0M943 284h0M945 274h0M947 283.5h0M949 275h0M951 270h0M953 282h0M955 282h0M957 265.5h0M959 273h0M961 281h0M963 270h0M965 267h0M967 273h0M969 267.5h0M971 276.5h0M973 263.5h0M975 266h0M977 264h0M979 275.5h0M981 273.5h0M983 258h0M985 265.5h0M987 263.5h0M989 266.5h0M991 264h0M995 270.5h0M997 255h0M999 262.5h0M1001 261h0M1003 261h0M1005 258.5h0M1007 260h0M1009 257h0M1011 261h0M1013 255.5h0M1015 259.5h0M1017 258.5h0M1021 243h0M1023 249h0M1025 257h0M1026.5 255h0M1028.5 254.5h0M1030.5 249.5h0M1032.5 252.5h0M1034.5 239.5h0M1036.5 244.5h0M1038.5 240.5h0M1040.5 241h0M1042.5 257h0M1044.5 241h0M1046.5 246.5h0M1048.5 241.5h0M1052.5 240h0M1054.5 232.5h0M1056.5 232h0M1058.5 235h0M1060.5 220h0M1062.5 236h0M1064.5 222h0M1066.5 217h0M1068.5 227h0M1070.5 228h0M1072.5 219h0M1074.5 224.5h0M1076.5 209.5h0M1078.5 217.5h0M1080.5 212h0M1084.5 213.5h0M1086.5 211.5h0M1088.5 198h0M1090.5 202.5h0M1092.5 205h0M1094.5 201.5h0M1096.5 200h0M1098.5 203h0M1100.5 199h0M1102.5 194h0M1104.5 187.5h0M1106.5 199.5h0M1108.5 194h0M1110.5 185.5h0M1112.5 188h0M1114.5 178h0M1116.5 178h0M1118.5 178.5h0M1120.5 179.5h0M1122.5 176h0M1124.5 175.5h0M1126.5 164h0M1128.5 151h0M1130.5 171h0M1132.5 170h0M1134.5 150.5h0M1138.5 147h0M1140.5 143h0M1142.5 140h0M1144.5 151h0M1148.5 127.5h0M1150.5 131h0M1152.5 132.5h0M1156.5 130.5h0M1158.5 122h0M1160.5 114h0M1162.5 111h0M1164.5 106h0M1168.5 108h0M1170.5 99.5h0M1172.5 97.5h0M1178.5 87.5h0M1180.5 69h0M1188.5 73h0M1190.5 58h0M1192.5 43h0"/><path stroke="#08081c" d="M595.5 288.5h0M597.5 279.5h0M599.5 279.5h0M601.5 279h0M603.5 276h0M607.5 280h0M611.5 281.5h0M617.5 294.5h0M621.5 279h0M623.5 287h0M625.5 274.5h0M627.5 293.5h0M629.5 282.5h0M631.5 286h0M633.5 270.5h0M637.5 267.5h0M639.5 275h0M641.5 278h0M643.5 287.5h0M645.5 280.5h0M647.5 282h0M649.5 280h0M651.5 279h0M653.5 270h0M655.5 279.5h0M657.5 283.5h0M659.5 279h0M661.5 288h0M663.5 284.5h0M665.5 290.5h0M667.5 287h0M671.5 283h0M675.5 283h0M679.5 284.5h0M681.5 281h0M683.5 276.5h0M685.5 281.5h0M687.5 281h0M689.5 282h0M691.5 257.5h0M693 284.5h0M695 281h0M697 281.5h0M699 277.5h0M701 281h0M705 281.5h0M707 276h0M709 270.5h0M711 277.5h0M713 277h0M715 262h0M717 277h0M719 271.5h0M721 271.5h0M723 277h0M725 277.5h0M727 280.5h0M729 274.5h0M731 281h0M733 274h0M735 277h0M737 274.5h0M739 272.5h0M741 278h0M743 271h0M745 272h0M747 280h0M749 281h0M751 281h0M753 266.5h0M755 269.5h0M759 279h0M761 269.5h0M763 271h0M765 271h0M767 276.5h0M769 269h0M771 269.5h0M773 266.5h0M775 268.5h0M779 268h0M781 268.5h0M783 276h0M785 277h0M787 272h0M789 280.5h0M791 261.5h0M793 274.5h0M795 271.5h0M797 274h0M799 265.5h0M801 277h0M803 266.5h0M805 274.5h0M807 279.5h0M809 268h0M811 265h0M813 255h0M815 268h0M817 278h0M819 268.5h0M821 284.5h0M823 270h0M825 269h0M827 264.5h0M829 264.5h0M831 265h0M833 254h0M835 265h0M837 264h0M839 263h0M841 267.5h0M843 264.5h0M845 261h0M847 262.5h0M849 262.5h0M851 261h0M853 256.5h0M855 259h0M857 252h0M859 271.5h0M861 267.5h0M863 262h0M865 260.5h0M867 260h0M869 265.5h0M871 264h0M873 265.5h0M875 239h0M877 263h0M879 255h0M881 258h0M883 254.5h0M885 255h0M887 244h0M889 261h0M891 263h0M893 257h0M895 252.5h0M897 261h0M899 257.5h0M901 255h0M903 264.5h0M905 259.5h0M907 261.5h0M909 251.5h0M911 254h0M913 257h0M915 257h0M917 249.5h0M919 238h0M921 256h0M923 255h0M925 250.5h0M927 245.5h0M929 255.5h0M931 241h0M933 245.5h0M935 252.5h0M937 237h0M939 242.5h0M941 236h0M943 247h0M945 249h0M947 246.5h0M949 243h0M951 241.5h0M953 243.5h0M955 232.5h0M957 243.5h0M959 243h0M961 241.5h0M963 234.5h0M965 239.5h0M967 239.5h0M969 241h0M971 238.5h0M973 236.5h0M975 233.5h0M977 222h0M979 245.5h0M981 218.5h0M983 229.5h0M985 225h0M987 230.5h0M989 226h0M991 238.5h0M993 240.5h0M995 229h0M997 227h0M999 223h0M1001 226h0M1003 233h0M1005 213h0M1007 217h0M1009 214h0M1011 220h0M1013 222h0M1015 224h0M1017 225h0M1019 218h0M1021 218.5h0M1023 214h0M1025 214h0M1026.5 208h0M1028.5 217h0M1030.5 217h0M1032.5 211h0M1034.5 220.5h0M1036.5 204h0M1038.5 206h0M1040.5 198.5h0M1042.5 208h0M1044.5 201.5h0M1046.5 207.5h0M1048.5 196h0M1050.5 205h0M1052.5 200.5h0M1054.5 198.5h0M1056.5 195h0M1058.5 190h0M1060.5 187.5h0M1062.5 195.5h0M1064.5 191.5h0M1066.5 190.5h0M1068.5 197.5h0M1070.5 185h0M1072.5 190h0M1074.5 193.5h0M1076.5 179h0M1078.5 182h0M1080.5 182.5h0M1082.5 173.5h0M1084.5 178h0M1086.5 165h0M1088.5 183h0M1090.5 166.5h0M1092.5 175h0M1094.5 161h0M1096.5 167h0M1098.5 168.5h0M1100.5 171h0M1102.5 155h0M1104.5 158h0M1106.5 168.5h0M1108.5 159h0M1110.5 164.5h0M1112.5 142h0M1114.5 152.5h0M1116.5 156.5h0M1118.5 154.5h0M1120.5 150h0M1122.5 132h0M1124.5 138h0M1126.5 136.5h0M1128.5 140h0M1130.5 139h0M1132.5 130.5h0M1134.5 133.5h0M1136.5 131h0M1138.5 126h0M1140.5 125.5h0M1142.5 121.5h0M1144.5 117h0M1146.5 106.5h0M1148.5 117h0M1150.5 112h0M1152.5 118.5h0M1154.5 100h0M1156.5 103.5h0M1158.5 102.5h0M1160.5 98h0M1164.5 89h0M1166.5 87h0M1168.5 81.5h0M1172.5 80.5h0M1174.5 71h0M1176.5 76.5h0M1178.5 75h0M1180.5 81.5h0M1182.5 65.5h0M1184.5 72.5h0M1188.5 70.5h0M1190.5 59h0M1192.5 49.5h0"/><path stroke="#060614" d="M535.5 290.5h0M537.5 296h0M539.5 288.5h0M541.5 293h0M543.5 293h0M545.5 295h0M547.5 304.5h0M549.5 288h0M551.5 297.5h0M553.5 291.5h0M555.5 290.5h0M557.5 295h0M559.5 300.5h0M561.5 291.5h0M563.5 286.5h0M565.5 283.5h0M567.5 289.5h0M569.5 290h0M571.5 281.5h0M573.5 292.5h0M575.5 291.5h0M577.5 301h0M579.5 290h0M581.5 289.5h0M583.5 285.5h0M585.5 280h0M587.5 290.5h0M589.5 282h0M591.5 289h0M593.5 304.5h0M595.5 296h0M597.5 295.5h0M599.5 293.5h0M601.5 284.5h0M603.5 294h0M605.5 280.5h0M607.5 288h0M609.5 291h0M611.5 286.5h0M613.5 286.5h0M615.5 286.5h0M617.5 291.5h0M619.5 289h0M621.5 286.5h0M623.5 277h0M625.5 290h0M627.5 288h0M629.5 286.5h0M631.5 293.5h0M633.5 286.5h0M635.5 292h0M637.5 302h0M639.5 288.5h0M641.5 293h0M643.5 296h0M645.5 295.5h0M647.5 294.5h0M649.5 294h0M651.5 284.5h0M653.5 298h0M655.5 289.5h0M657.5 293.5h0M659.5 290.5h0M661.5 293.5h0M663.5 296.5h0M665.5 284.5h0M667.5 298h0M669.5 287.5h0M671.5 286.5h0M673.5 294h0M675.5 287.5h0M677.5 282h0M679.5 275.5h0M681.5 302h0M683.5 292.5h0M685.5 290h0M687.5 282.5h0M689.5 290.5h0M691.5 300h0M693 291h0M695 279.5h0M697 288.5h0M699 287.5h0M701 281.5h0M703 290.5h0M705 299h0M707 288h0M709 292.5h0M711 286.5h0M713 286.5h0M715 289.5h0M717 286.5h0M719 292.5h0M721 289h0M723 286h0M725 291.5h0M727 289.5h0M729 286.5h0M731 294h0M733 285.5h0M735 297.5h0M737 277.5h0M739 288h0M741 292.5h0M743 302.5h0M745 291h0M747 293h0M749 295h0M751 279h0M753 288.5h0M755 290.5h0M757 277.5h0M759 292.5h0M761 280h0M763 277.5h0M765 284h0M767 280.5h0M769 284.5h0M771 287.5h0M773 280h0M775 287h0M777 287.5h0M779 293.5h0M781 283.5h0M783 294.5h0M785 287h0M787 291.5h0M789 291.5h0M791 282.5h0M793 280h0M795 279h0M797 287.5h0M799 285h0M801 288h0M803 287h0M805 283h0M807 281.5h0M809 286.5h0M811 273h0M813 278.5h0M815 278.5h0M817 280h0M819 280.5h0M821 294h0M823 276.5h0M825 286h0M827 274.5h0M829 282h0M831 280.5h0M833 281.5h0M835 294h0M837 284h0M839 283h0M841 281.5h0M843 284h0M845 281.5h0M847 279h0M849 295h0M851 286h0M853 280h0M855 286h0M857 277h0M859 280.5h0M861 273h0M863 271h0M865 279h0M867 284h0M869 284h0M871 275.5h0M873 275.5h0M875 282h0M877 278.5h0M879 271h0M881 279.5h0M883 272.5h0M885 278h0M887 275h0M889 280.5h0M891 267.5h0M893 282h0M895 265h0M897 269.5h0M899 272.5h0M901 278.5h0M903 289.5h0M905 278h0M907 273h0M909 274h0M911 262h0M913 265.5h0M915 274.5h0M917 268h0M919 279h0M921 269.5h0M923 273.5h0M925 266.5h0M927 268.5h0M929 269h0M931 268.5h0M933 271.5h0M935 266h0M937 267.5h0M939 276h0M941 272h0M943 263.5h0M945 265h0M947 263h0M949 263h0M951 249.5h0M953 268.5h0M955 260h0M957 263.5h0M959 263.5h0M961 261h0M963 254.5h0M965 256h0M967 253h0M969 252.5h0M971 267h0M973 261h0M975 252h0M977 257.5h0M979 255h0M981 257h0M983 253h0M985 247h0M987 253.5h0M989 255h0M991 260h0M993 253.5h0M995 249h0M997 245.5h0M999 246h0M1001 245.5h0M1003 250h0M1005 248.5h0M1007 243.5h0M1009 241h0M1011 240.5h0M1013 239h0M1015 238.5h0M1017 235h0M1019 232h0M1021 240.5h0M1023 222h0M1025 222.5h0M1026.5 236.5h0M1028.5 231h0M1030.5 230h0M1032.5 228.5h0M1034.5 215.5h0M1036.5 230h0M1038.5 239h0M1040.5 222h0M1042.5 226h0M1044.5 218.5h0M1046.5 216.5h0M1048.5 221h0M1050.5 225.5h0M1052.5 219h0M1054.5 213h0M1056.5 213.5h0M1058.5 211.5h0M1060.5 211.5h0M1062.5 222.5h0M1064.5 205h0M1066.5 209h0M1068.5 212h0M1070.5 209.5h0M1072.5 201.5h0M1074.5 210.5h0M1076.5 200.5h0M1078.5 200h0M1080.5 201h0M1082.5 202.5h0M1084.5 201.5h0M1086.5 198h0M1088.5 188.5h0M1090.5 184h0M1092.5 193h0M1094.5 185.5h0M1096.5 188h0M1098.5 178h0M1100.5 181h0M1102.5 181.5h0M1104.5 180.5h0M1106.5 180h0M1108.5 171h0M1110.5 182.5h0M1112.5 160h0M1114.5 167h0M1116.5 157.5h0M1118.5 155.5h0M1120.5 151.5h0M1122.5 158.5h0M1124.5 146h0M1126.5 149.5h0M1128.5 138.5h0M1130.5 149h0M1132.5 153.5h0M1134.5 144.5h0M1136.5 142h0M1138.5 137.5h0M1140.5 135h0M1142.5 127.5h0M1144.5 124.5h0M1146.5 131h0M1148.5 122.5h0M1150.5 107.5h0M1152.5 115h0M1154.5 118.5h0M1156.5 115h0M1158.5 109h0M1160.5 105h0M1162.5 97.5h0M1164.5 95h0M1166.5 102h0M1168.5 101h0M1170.5 86h0M1172.5 89h0M1174.5 92.5h0M1176.5 85h0M1178.5 73.5h0M1180.5 77.5h0M1182.5 71.5h0M1184.5 58h0M1186.5 63h0M1188.5 50.5h0M1190.5 53h0M1192.5 42h0"/><path stroke="#020208" d="M695 315.5h0M697 310h0M699 303h0M701 314h0M703 308h0M705 309.5h0M707 308h0M709 310h0M711 309h0M713 318.5h0M715 307h0M717 307h0M719 304.5h0M721 307.5h0M723 318h0M725 316.5h0M727 314.5h0M729 308h0M731 309h0M733 328h0M735 315.5h0M737 322.5h0M739 308.5h0M741 297h0M743 307h0M745 314h0M747 304h0M749 316h0M751 310.5h0M753 310h0M755 318h0M757 309h0M759 313h0M761 316.5h0M763 301.5h0M765 312.5h0M767 311.5h0M769 308h0M771 306.5h0M773 310.5h0M775 324.5h0M777 318.5h0M779 322h0M781 312.5h0M783 313.5h0M785 311.5h0M787 311.5h0M789 314h0M791 319.5h0M793 311.5h0M795 310.5h0M797 312.5h0M799 320.5h0M801 321h0M803 314h0M805 310h0M807 320.5h0M809 320.5h0M811 316.5h0M813 329.5h0M815 312h0M817 316.5h0M819 316h0M821 330h0M823 317.5h0M825 324h0M827 318.5h0M829 308h0M831 312h0M833 322h0M835 329h0M837 308.5h0M839 318h0M841 327h0M843 328.5h0M845 317h0M847 319.5h0M849 327.5h0M851 313.5h0M853 326.5h0M855 324h0M857 315.5h0M859 319.5h0M861 319.5h0M863 320.5h0M865 321.5h0M867 312.5h0M869 326.5h0M871 326h0M873 310.5h0M875 326.5h0M877 320.5h0M879 318.5h0M881 320.5h0M883 330.5h0M885 328h0M887 328.5h0M889 323h0M891 320.5h0M893 318.5h0M895 327.5h0M897 331h0M899 337h0M901 310h0M905 318.5h0M907 319h0M913 327.5h0M915 329h0M917 330h0M919 320h0M921 325h0M923 332.5h0M925 315.5h0M929 325.5h0M933 330h0M937 326.5h0M939 323h0M941 323.5h0M943 317h0M945 330h0M947 330h0M949 319.5h0M951 332h0M953 325.5h0M955 327h0M957 325h0M959 317h0M961 326.5h0M965 323h0M967 325.5h0M969 329h0M973 327.5h0M975 332h0M977 322.5h0M979 323h0M981 337h0M983 326.5h0M985 325.5h0M987 329h0M989 323h0M991 326.5h0M993 334.5h0M995 336h0M997 328h0M999 322h0M1003 329.5h0M1005 329h0M1007 321h0M1011 320h0M1013 328h0M1015 327h0M1017 331h0M1019 325h0M1021 332h0M1023 341h0M1025 325.5h0M1028.5 326h0M1034.5 334.5h0M1042.5 330.5h0M1044.5 329.5h0M1046.5 327h0M1050.5 327h0M1054.5 336.5h0M1058.5 319.5h0M1062.5 335.5h0M1066.5 331.5h0M1068.5 319.5h0M1070.5 340.5h0M1076.5 327.5h0M1080.5 333.5h0M1082.5 320.5h0M1088.5 326.5h0M1090.5 330h0M1092.5 334.5h0M1094.5 329.5h0M1096.5 341.5h0M1102.5 348.5h0M1104.5 329.5h0M1106.5 339.5h0M1108.5 333h0M1112.5 336h0M1114.5 331.5h0M1116.5 325.5h0M1120.5 349.5h0M1122.5 332h0M1124.5 335.5h0M1126.5 344h0M1130.5 335h0M1132.5 333h0M1134.5 340h0M1136.5 342h0M1138.5 341h0M1140.5 339.5h0M1142.5 335h0M1144.5 336.5h0M1148.5 335h0M1154.5 344h0M1156.5 338h0M1158.5 345.5h0M1160.5 332h0M1162.5 339h0M1164.5 336.5h0M1168.5 347h0M1170.5 347.5h0M1172.5 348.5h0M1174.5 346h0M1176.5 349.5h0M1178.5 345h0M1180.5 342h0M1182.5 341.5h0M1184.5 348.5h0M1186.5 352.5h0M1188.5 351.5h0M1190.5 353.5h0M1192.5 351.5h0"/><path stroke="#000000" d="M891 339.5h0M893 342h0M895 333.5h0M897 332.5h0M899 334h0M901 336h0M903 324.5h0M905 330.5h0M907 336.5h0M909 331.5h0M911 327.5h0M913 334h0M915 317h0M917 332.5h0M919 322h0M921 338.5h0M923 320h0M925 327h0M927 335h0M929 336h0M931 337h0M933 331h0M935 326.5h0M937 340.5h0M939 332.5h0M941 341.5h0M943 337h0M945 321h0M947 334h0M949 337h0M951 329h0M953 344.5h0M955 328h0M957 327h0M959 328h0M961 330h0M963 335.5h0M965 335.5h0M967 324h0M969 333.5h0M971 339h0M973 330.5h0M975 325h0M977 338h0M979 328.5h0M981 340.5h0M983 338h0M985 342.5h0M987 332.5h0M989 328.5h0M991 330.5h0M993 341.5h0M995 333h0M997 338h0M999 341.5h0M1001 331h0M1003 336.5h0M1005 334.5h0M1007 339h0M1009 335.5h0M1011 336.5h0M1013 335.5h0M1015 338.5h0M1017 328h0M1019 328.5h0M1021 331h0M1023 337h0M1025 331.5h0M1026.5 334.5h0M1028.5 328h0M1030.5 341h0M1032.5 330h0M1034.5 341h0M1036.5 334.5h0M1038.5 332h0M1040.5 337h0M1042.5 334.5h0M1044.5 337.5h0M1046.5 335.5h0M1048.5 343h0M1050.5 342.5h0M1052.5 330h0M1054.5 340h0M1056.5 336.5h0M1058.5 333.5h0M1060.5 334h0M1062.5 332.5h0M1064.5 345.5h0M1066.5 334.5h0M1068.5 336.5h0M1070.5 327.5h0M1072.5 332h0M1074.5 331.5h0M1076.5 338h0M1078.5 338.5h0M1080.5 349.5h0M1082.5 339h0M1084.5 334h0M1086.5 324.5h0M1088.5 340h0M1090.5 343h0M1092.5 335.5h0M1094.5 337h0M1096.5 331.5h0M1098.5 342h0M1100.5 334.5h0M1102.5 342.5h0M1104.5 349h0M1106.5 337.5h0M1108.5 347h0M1110.5 356.5h0M1112.5 342.5h0M1114.5 346.5h0M1116.5 338.5h0M1118.5 348.5h0M1120.5 342.5h0M1122.5 335.5h0M1124.5 342h0M1126.5 339h0M1128.5 341.5h0M1130.5 345h0M1132.5 351.5h0M1134.5 345.5h0M1136.5 353.5h0M1138.5 344h0M1140.5 352.5h0M1142.5 345h0M1144.5 342.5h0M1146.5 353.5h0M1148.5 346.5h0M1150.5 351.5h0M1152.5 346.5h0M1154.5 350.5h0M1156.5 353h0M1158.5 347.5h0M1160.5 346.5h0M1162.5 341h0M1164.5 350h0M1166.5 357h0M1168.5 357.5h0M1170.5 342.5h0M1172.5 343.5h0M1174.5 355h0M1176.5 363h0M1178.5 353.5h0M1180.5 356.5h0M1182.5 357h0M1184.5 354.5h0M1186.5 360.5h0M1188.5 360h0M1190.5 359h0M1192.5 352.5h0"/></g>
<rect x="95.3" y="1.3" width="1150.0" height="415.4" fill="none" stroke="#1a1a1a" stroke-width="2"/>
<path d="M1192.5 416.7v8.5M992.8 416.7v8.5M793.1 416.7v8.5M593.4 416.7v8.5M393.7 416.7v8.5M194.0 416.7v8.5M95.3 403.6h-8.5M95.3 355.4h-8.5M95.3 307.2h-8.5M95.3 259.0h-8.5M95.3 210.8h-8.5M95.3 162.6h-8.5M95.3 114.4h-8.5M95.3 66.2h-8.5M95.3 18.0h-8.5" stroke="#1a1a1a" stroke-width="2" fill="none"/>
<g font-family="DejaVu Sans, Liberation Sans, sans-serif" font-size="16.5" fill="#262626">
<text x="1192.5" y="444.5" text-anchor="middle">0</text>
<text x="992.8" y="444.5" text-anchor="middle">100</text>
<text x="793.1" y="444.5" text-anchor="middle">200</text>
<text x="593.4" y="444.5" text-anchor="middle">300</text>
<text x="393.7" y="444.5" text-anchor="middle">400</text>
<text x="194.0" y="444.5" text-anchor="middle">500</text>
<text x="79.9" y="411.1" text-anchor="end">517.5</text>
<text x="79.9" y="362.9" text-anchor="end">520.0</text>
<text x="79.9" y="314.7" text-anchor="end">522.5</text>
<text x="79.9" y="266.5" text-anchor="end">525.0</text>
<text x="79.9" y="218.3" text-anchor="end">527.5</text>
<text x="79.9" y="170.1" text-anchor="end">530.0</text>
<text x="79.9" y="121.9" text-anchor="end">532.5</text>
<text x="79.9" y="73.7" text-anchor="end">535.0</text>
<text x="79.9" y="25.5" text-anchor="end">537.5</text>
</g>
<g font-family="DejaVu Sans, Liberation Sans, sans-serif" font-size="18.3" fill="#262626">
<text x="670.3" y="467.7" text-anchor="middle">RUL</text>
<text transform="translate(24.9 212.3) rotate(-90)" text-anchor="middle">phi</text>
</g>
<g fill="none" stroke-linecap="round" stroke-width="10.0"><path stroke="#fdfdf7" d="M1195 1121.5h0"/><path stroke="#fbfbeb" d="M1049.5 1362.5h0M1176.5 1374.5h0"/><path stroke="#f7f7d7" d="M527 1323h0M545.5 1305h0M560 1317.5h0M572.5 1315h0M580.5 1314h0M601 1307h0M646 1306h0M689 1296h0M740.5 1299h0M816 1288.5h0M844.5 1281.5h0M994 1238.5h0M1035 1227.5h0M1039.5 1221.5h0M1051.5 1222.5h0"/><path stroke="#f5f5cf" d="M1184.5 1381h0"/><path stroke="#f1f1b7" d="M507 1323h0M511 1316h0M515 1316.5h0M517 1323h0M519 1322h0M521 1318.5h0M523 1325h0M531.5 1318.5h0M533.5 1317.5h0M537.5 1303h0M539.5 1326h0M545.5 1321h0M547.5 1318.5h0M552 1309.5h0M554 1314.5h0M556 1324.5h0M558 1312h0M560 1314h0M564 1321.5h0M566 1317h0M576.5 1325h0M578.5 1309.5h0M582.5 1315h0M586.5 1321.5h0M595 1312.5h0M603 1310.5h0M607 1307h0M642 1312h0M644 1303h0M646 1303.5h0M668.5 1303h0M674.5 1303.5h0M703.5 1301h0M763 1291h0M767 1298.5h0M814 1290.5h0M834.5 1288.5h0M851 1275h0M892 1277.5h0M902 1272h0M951 1258.5h0M973.5 1253.5h0M980 1249.5h0M1019 1231.5h0"/><path stroke="#efefaf" d="M523 1384.5h0M1150 1409h0M1166.5 1412.5h0"/><path stroke="#ededa3" d="M1197 1382h0"/><path stroke="#ebeb9b" d="M365.5 1292.5h0M367.5 1298.5h0M369.5 1295h0M371.5 1282h0M373.5 1302.5h0M375.5 1315h0M377.5 1295.5h0M380 1299.5h0M382 1304h0M384 1290h0M386 1300h0M388 1301h0M390 1291.5h0M392 1309.5h0M394 1310.5h0M396 1294.5h0M398 1303.5h0M400.5 1310.5h0M402.5 1311.5h0M404.5 1301.5h0M406.5 1272h0M408.5 1295.5h0M410.5 1304.5h0M412.5 1291h0M414.5 1305.5h0M416.5 1302.5h0M418.5 1308h0M420.5 1301h0M423 1305h0M425 1289h0M427 1309.5h0M429 1275h0M431 1291h0M433 1305.5h0M435 1306.5h0M437 1304.5h0M439 1302h0M441 1314.5h0M443.5 1308.5h0M445.5 1308.5h0M447.5 1301.5h0M449.5 1300h0M451.5 1306h0M453.5 1287.5h0M455.5 1305.5h0M457.5 1304h0M459.5 1321h0M461.5 1316.5h0M463.5 1294h0M466 1292h0M468 1310.5h0M470 1288.5h0M472 1290h0M474 1300.5h0M476 1298h0M478 1290.5h0M480 1294h0M482 1286.5h0M484 1294.5h0M486.5 1289.5h0M488.5 1311.5h0M490.5 1296.5h0M492.5 1293.5h0M494.5 1283.5h0M496.5 1294.5h0M498.5 1297h0M500.5 1301h0M502.5 1297h0M504.5 1294.5h0M507 1281h0M509 1307.5h0M511 1301.5h0M513 1302.5h0M515 1296h0M517 1290h0M519 1295.5h0M521 1309.5h0M523 1276.5h0M525 1301.5h0M527 1304h0M529.5 1298h0M533.5 1289h0M535.5 1311.5h0M539.5 1301h0M541.5 1307.5h0M547.5 1288.5h0M550 1299.5h0M552 1282h0M554 1293.5h0M556 1299.5h0M558 1302.5h0M560 1307.5h0M562 1290h0M564 1291h0M566 1310h0M568 1288.5h0M570.5 1304h0M574.5 1309.5h0M576.5 1306.5h0M578.5 1279.5h0M580.5 1291h0M582.5 1289h0M586.5 1300.5h0M588.5 1303.5h0M595 1293.5h0M597 1297.5h0M599 1302h0M601 1289h0M603 1289h0M607 1287.5h0M609 1297.5h0M611 1294.5h0M615.5 1300h0M617.5 1279.5h0M619.5 1292.5h0M621.5 1281h0M625.5 1291h0M627.5 1289.5h0M629.5 1295.5h0M636 1303.5h0M638 1293.5h0M640 1289h0M642 1276.5h0M644 1300.5h0M646 1296.5h0M648 1298h0M650 1296.5h0M654 1307.5h0M658.5 1300h0M664.5 1295.5h0M666.5 1285h0M668.5 1295.5h0M670.5 1286.5h0M672.5 1284.5h0M674.5 1284h0M677 1297h0M679 1304h0M683 1286.5h0M687 1287h0M689 1285.5h0M691 1281.5h0M693 1269.5h0M695 1290.5h0M701.5 1262.5h0M705.5 1288.5h0M707.5 1284.5h0M709.5 1297.5h0M713.5 1290.5h0M720 1278h0M722 1290h0M726 1277.5h0M730 1289h0M732 1277.5h0M736 1290.5h0M738 1282h0M740.5 1283h0M742.5 1292.5h0M744.5 1282.5h0M746.5 1275.5h0M750.5 1288h0M752.5 1290.5h0M754.5 1296h0M756.5 1270.5h0M758.5 1291.5h0M760.5 1290h0M763 1282h0M767 1287h0M769 1279.5h0M771 1275h0M773 1284.5h0M775 1287.5h0M777 1289.5h0M781 1275.5h0M787.5 1275.5h0M793.5 1283.5h0M795.5 1278h0M799.5 1275.5h0M801.5 1286.5h0M803.5 1271.5h0M806 1269.5h0M808 1285h0M810 1283h0M814 1270.5h0M816 1278h0M818 1269.5h0M820 1262h0M822 1278.5h0M824 1275h0M826.5 1276.5h0M830.5 1272h0M834.5 1267h0M836.5 1263.5h0M838.5 1270.5h0M840.5 1276h0M842.5 1283h0M847 1272.5h0M849 1272h0M853 1280h0M855 1278.5h0M857 1264.5h0M861 1268h0M863 1271.5h0M867 1264h0M869.5 1259.5h0M871.5 1268.5h0M873.5 1256h0M875.5 1255h0M877.5 1264.5h0M879.5 1245.5h0M881.5 1262h0M885.5 1257.5h0M887.5 1261.5h0M890 1246.5h0M892 1262.5h0M894 1262.5h0M896 1267h0M898 1258h0M900 1243.5h0M902 1248h0M906 1260h0M908 1254.5h0M910.5 1268.5h0M912.5 1238h0M914.5 1261.5h0M916.5 1251.5h0M918.5 1249.5h0M920.5 1252h0M922.5 1256.5h0M926.5 1237h0M928.5 1252h0M930.5 1250h0M935 1255.5h0M937 1241.5h0M939 1245.5h0M941 1242.5h0M943 1221h0M945 1240.5h0M947 1249h0M951 1229.5h0M955.5 1240h0M957.5 1253h0M959.5 1245.5h0M961.5 1239h0M963.5 1213h0M965.5 1242.5h0M967.5 1254.5h0M969.5 1226h0M971.5 1237h0M976 1235h0M978 1230.5h0M980 1210.5h0M982 1228.5h0M984 1231h0M986 1240.5h0M988 1237.5h0M992 1223.5h0M994 1219.5h0M996.5 1218.5h0M998.5 1218.5h0M1000.5 1213.5h0M1006.5 1219h0M1008.5 1214h0M1010.5 1221.5h0M1012.5 1208.5h0M1017 1194h0M1019 1204.5h0M1021 1217h0M1023 1211h0M1025 1195.5h0M1027 1211h0M1029 1204h0M1031 1212h0M1033 1186.5h0M1037 1208h0M1039.5 1202.5h0M1041.5 1203.5h0M1043.5 1204h0M1045.5 1191.5h0M1049.5 1183h0M1051.5 1192.5h0M1055.5 1200h0M1057.5 1184h0M1060 1177.5h0M1062 1197.5h0M1064 1192h0M1066 1192h0M1068 1191.5h0M1070 1170.5h0M1072 1190.5h0M1074 1195h0M1076 1179h0M1078 1197h0M1080.5 1163.5h0M1082.5 1179.5h0M1084.5 1173.5h0M1096.5 1167h0M1098.5 1168h0M1100.5 1166.5h0M1103 1172.5h0M1105 1162.5h0M1107 1146h0M1113 1166.5h0M1115 1146h0M1117 1163.5h0M1119 1143.5h0M1121 1149.5h0M1125.5 1145h0M1127.5 1145.5h0M1135.5 1134h0M1137.5 1131.5h0M1139.5 1136.5h0M1143.5 1140.5h0M1146 1134.5h0M1148 1126h0M1150 1116h0M1152 1122h0M1154 1135h0M1156 1123h0M1160 1116.5h0M1162 1118h0M1164 1115h0M1166.5 1098h0M1168.5 1093h0M1170.5 1103h0M1174.5 1102.5h0M1178.5 1094h0M1180.5 1092.5h0M1184.5 1057h0M1189 1070h0M1191 1070h0M1195 1069h0"/><path stroke="#e9e98f" d="M236.5 1389h0M238.5 1381h0M240.5 1385.5h0M242.5 1375h0M244.5 1384h0M246.5 1393.5h0M248.5 1400h0M250.5 1389h0M253 1381.5h0M255 1375h0M257 1369h0M259 1379.5h0M261 1368h0M263 1400.5h0M265 1384.5h0M267 1401.5h0M269 1395h0M271 1396.5h0M273.5 1381h0M275.5 1386.5h0M277.5 1374.5h0M279.5 1403.5h0M281.5 1378.5h0M283.5 1398.5h0M285.5 1380h0M287.5 1364.5h0M289.5 1377.5h0M291.5 1393.5h0M293.5 1384.5h0M296 1395.5h0M298 1381h0M300 1366.5h0M302 1369.5h0M304 1406.5h0M306 1394.5h0M308 1392h0M310 1397h0M312 1380.5h0M314 1375.5h0M316.5 1390h0M318.5 1364h0M320.5 1403h0M322.5 1390.5h0M324.5 1390.5h0M326.5 1398.5h0M328.5 1384h0M330.5 1373h0M332.5 1385.5h0M334.5 1379.5h0M337 1391h0M339 1386.5h0M341 1369h0M343 1389h0M345 1371h0M347 1375h0M349 1399.5h0M351 1370h0M353 1378h0M355 1380.5h0M357 1396h0M359.5 1381h0M361.5 1389h0M363.5 1382h0M365.5 1388h0M367.5 1384.5h0M369.5 1388.5h0M371.5 1377.5h0M373.5 1396.5h0M375.5 1403.5h0M377.5 1391.5h0M380 1403h0M382 1395h0M384 1393h0M386 1384h0M390 1382h0M392 1407h0M394 1370h0M396 1382h0M398 1387.5h0M402.5 1387.5h0M404.5 1390h0M406.5 1408h0M408.5 1380h0M410.5 1392.5h0M412.5 1400.5h0M414.5 1377.5h0M416.5 1381h0M418.5 1381.5h0M420.5 1392.5h0M427 1388.5h0M429 1384.5h0M431 1386.5h0M433 1378h0M435 1384h0M437 1389.5h0M439 1377h0M441 1398h0M443.5 1380h0M445.5 1390.5h0M447.5 1376h0M449.5 1393.5h0M451.5 1404h0M453.5 1381h0M455.5 1381h0M457.5 1392h0M459.5 1389.5h0M461.5 1394.5h0M463.5 1400.5h0M466 1382.5h0M468 1379.5h0M470 1396.5h0M472 1367h0M474 1378.5h0M476 1378h0M478 1394h0M480 1382h0M482 1380h0M484 1378.5h0M486.5 1395h0M488.5 1375.5h0M490.5 1388.5h0M492.5 1386h0M494.5 1385.5h0M496.5 1384.5h0M498.5 1386h0M500.5 1381h0M502.5 1391h0M507 1381.5h0M509 1385h0M511 1365h0M515 1386.5h0M517 1381.5h0M521 1391h0M523 1394h0M525 1391.5h0M533.5 1389.5h0M535.5 1391h0M537.5 1388.5h0M541.5 1401h0M552 1389.5h0M554 1382h0M564 1406h0M568 1390.5h0M572.5 1398.5h0M576.5 1386h0M599 1401h0M603 1402h0M623.5 1405h0M633.5 1399.5h0M638 1385h0M664.5 1402h0M715.5 1399.5h0M726 1398.5h0M736 1407h0M752.5 1414h0M758.5 1409.5h0M814 1402h0M826.5 1401h0M867 1398.5h0M887.5 1393h0M898 1398.5h0M951 1410.5h0M959.5 1398h0M967.5 1403.5h0M971.5 1395h0M1076 1329.5h0M1119 1279h0M1129.5 1274.5h0M1146 1254.5h0M1172.5 1197h0M1178.5 1170.5h0M1180.5 1252.5h0M1182.5 1225h0M1184.5 1241h0M1187 1205.5h0M1189 1185.5h0M1191 1170h0M1195 1122.5h0M1197 1114.5h0"/><path stroke="#e6e47c" d="M1049.5 1363h0M1158 1416.5h0"/><path stroke="#e6e172" d="M1197 1078.5h0"/><path stroke="#e6de6c" d="M1051.5 1402h0M1156 1408.5h0"/><path stroke="#e6db62" d="M1002.5 1401h0M1021 1361h0"/><path stroke="#e6d552" d="M1076 1302h0M1113 1268h0M1160 1195h0"/><path stroke="#e6d149" d="M1086.5 1363h0"/><path stroke="#e6cf42" d="M515 1356.5h0M523 1346.5h0M527 1343h0"/><path stroke="#e6c529" d="M492.5 1320h0M494.5 1323.5h0M496.5 1325h0M498.5 1308.5h0M500.5 1324.5h0M502.5 1323h0M504.5 1322.5h0M507 1317h0M509 1330.5h0M511 1323h0M513 1331h0M515 1339h0M517 1314h0M519 1328.5h0M521 1321h0M523 1318h0M525 1327h0M527 1311.5h0M529.5 1325h0M531.5 1305.5h0M533.5 1322h0M537.5 1322.5h0M539.5 1317.5h0M541.5 1324.5h0M543.5 1310h0M545.5 1326.5h0M547.5 1314h0M550 1331h0M552 1319h0M554 1325.5h0M560 1305h0M562 1320h0M564 1320h0M566 1321h0M568 1313.5h0M570.5 1314h0M572.5 1319h0M574.5 1322h0M576.5 1321.5h0M578.5 1323.5h0M580.5 1324h0M582.5 1331.5h0M584.5 1323.5h0M588.5 1318h0M593 1319h0M607 1318h0M638 1309h0M699.5 1307h0M701.5 1305.5h0M711.5 1302h0M822 1284.5h0M1162 1124h0M1197 1087.5h0"/><path stroke="#e6c11f" d="M1121 1359.5h0"/><path stroke="#e6bf19" d="M191.5 1419h0M193.5 1415h0M195.5 1410h0M197.5 1414h0M199.5 1425h0M201.5 1388.5h0M205.5 1412h0M207.5 1402h0M210 1432h0M212 1421h0M214 1398h0M216 1406h0M218 1407.5h0M220 1398h0M222 1413h0M224 1423h0M226 1406.5h0M228 1381h0M230 1395h0M232.5 1429.5h0M234.5 1421h0M236.5 1411.5h0M238.5 1392.5h0M240.5 1419.5h0M242.5 1408.5h0M244.5 1419h0M246.5 1409h0M248.5 1391h0M250.5 1392.5h0M253 1412.5h0M255 1395h0M259 1409h0M261 1423h0M263 1405.5h0M265 1410h0M267 1410h0M269 1421.5h0M271 1404h0M273.5 1416h0M275.5 1421.5h0M277.5 1415h0M279.5 1416h0M281.5 1382h0M283.5 1410h0M285.5 1409h0M287.5 1419.5h0M289.5 1391h0M291.5 1425h0M293.5 1411h0M296 1420h0M298 1409.5h0M300 1406.5h0M302 1412h0M306 1415.5h0M308 1418h0M310 1420h0M312 1408.5h0M314 1411h0M316.5 1417h0M318.5 1416.5h0M320.5 1400.5h0M322.5 1414.5h0M324.5 1423h0M326.5 1411.5h0M328.5 1431h0M330.5 1384h0M332.5 1415.5h0M334.5 1390.5h0M337 1407h0M339 1426.5h0M345 1395h0M347 1415h0M349 1411.5h0M351 1407h0M353 1421h0M357 1418.5h0M359.5 1414.5h0M361.5 1409.5h0M363.5 1401h0M365.5 1418.5h0M367.5 1400.5h0M369.5 1432h0M371.5 1402h0M375.5 1403h0M377.5 1409h0M380 1410.5h0M382 1415h0M384 1405h0M386 1406h0M388 1409.5h0M390 1399h0M392 1409h0M396 1418.5h0M398 1403h0M400.5 1409.5h0M404.5 1388h0M406.5 1412h0M410.5 1411.5h0M412.5 1415h0M420.5 1421.5h0M423 1396h0M425 1392.5h0M427 1416.5h0M429 1425h0M431 1416h0M433 1416h0M435 1408.5h0M439 1412h0M445.5 1417h0M447.5 1413h0M449.5 1423.5h0M451.5 1421h0M453.5 1399.5h0M455.5 1417.5h0M459.5 1408h0M466 1413.5h0M470 1442h0M472 1409h0M474 1428h0M476 1402h0M478 1429h0M480 1384h0M482 1399.5h0M484 1411h0M488.5 1416.5h0M494.5 1414h0M496.5 1424.5h0M498.5 1418h0M500.5 1409h0M502.5 1412h0M507 1413.5h0M509 1436h0M511 1414.5h0M515 1430h0M517 1419h0M519 1431.5h0M521 1410.5h0M523 1434h0M525 1412h0M527 1397.5h0M531.5 1407h0M543.5 1415h0M545.5 1412.5h0M550 1420.5h0M552 1410h0M560 1418h0M566 1409.5h0M570.5 1434.5h0M572.5 1402.5h0M576.5 1412h0M578.5 1404.5h0M580.5 1426h0M582.5 1401.5h0M584.5 1413.5h0M586.5 1423.5h0M590.5 1417.5h0M593 1432.5h0M595 1428h0M597 1411.5h0M605 1414.5h0M607 1421h0M609 1427.5h0M613.5 1420.5h0M617.5 1408.5h0M619.5 1406.5h0M623.5 1412h0M627.5 1401h0M636 1432.5h0M638 1433.5h0M642 1421.5h0M644 1432.5h0M648 1409h0M658.5 1434.5h0M660.5 1404.5h0M662.5 1418h0M666.5 1411.5h0M668.5 1410h0M672.5 1411.5h0M674.5 1413.5h0M683 1416.5h0M685 1430h0M687 1432h0M693 1412h0M695 1419h0M701.5 1413h0M703.5 1431h0M707.5 1415h0M709.5 1415.5h0M713.5 1410.5h0M715.5 1427h0M717.5 1429.5h0M720 1413h0M722 1414h0M724 1429.5h0M726 1411h0M728 1418h0M730 1431h0M732 1404h0M734 1416h0M736 1429.5h0M738 1413.5h0M740.5 1432h0M742.5 1406.5h0M746.5 1422.5h0M748.5 1413h0M750.5 1427h0M752.5 1435.5h0M754.5 1430.5h0M756.5 1414.5h0M758.5 1402h0M763 1429.5h0M769 1419.5h0M771 1420.5h0M775 1425.5h0M777 1429h0M781 1422.5h0M783.5 1421h0M789.5 1426.5h0M791.5 1436h0M797.5 1417h0M803.5 1429h0M810 1423.5h0M814 1420h0M822 1407.5h0M824 1423h0M826.5 1439.5h0M873.5 1398h0M887.5 1401.5h0M951 1400.5h0M1027 1401h0M1039.5 1402.5h0M1049.5 1351h0M1100.5 1363.5h0M1119 1362h0M1182.5 1420h0"/><path stroke="#e6b515" d="M523 1413.5h0M525 1436h0M529.5 1430.5h0M531.5 1421.5h0M535.5 1414h0M537.5 1417h0M539.5 1426.5h0M541.5 1429h0M543.5 1398.5h0M547.5 1425h0M554 1427h0M556 1416h0M560 1424.5h0M562 1433h0M564 1433.5h0M566 1417.5h0M570.5 1425h0M572.5 1403h0M574.5 1420.5h0M576.5 1424h0M578.5 1419h0M580.5 1436h0M584.5 1435h0M588.5 1410h0M595 1427h0M597 1433.5h0M603 1424h0M605 1424.5h0M609 1431.5h0M611 1411.5h0M613.5 1399h0M617.5 1398h0M619.5 1397h0M621.5 1396.5h0M623.5 1429h0M625.5 1425.5h0M627.5 1428.5h0M631.5 1421.5h0M633.5 1397.5h0M636 1408.5h0M638 1419.5h0M640 1429h0M644 1426h0M648 1401.5h0M650 1409h0M652 1423.5h0M654 1418.5h0M656.5 1430.5h0M662.5 1427h0M666.5 1433h0M668.5 1413.5h0M670.5 1419.5h0M672.5 1427h0M674.5 1424.5h0M677 1422h0M679 1429.5h0M681 1411h0M683 1425.5h0M685 1423.5h0M689 1396h0M693 1425.5h0M695 1433h0M697 1422.5h0M699.5 1413.5h0M701.5 1418h0M703.5 1426.5h0M705.5 1433.5h0M713.5 1422.5h0M715.5 1417h0M717.5 1426.5h0M720 1426.5h0M722 1406.5h0M724 1409h0M726 1419.5h0M728 1429.5h0M730 1420h0M734 1399.5h0M738 1419h0M740.5 1423.5h0M742.5 1396h0M744.5 1437h0M746.5 1418.5h0M748.5 1418.5h0M752.5 1433h0M754.5 1422.5h0M763 1425.5h0M767 1424.5h0M773 1420h0M777 1425h0M781 1424.5h0M783.5 1403h0M785.5 1411.5h0M787.5 1412.5h0M789.5 1423h0M791.5 1418h0M793.5 1423h0M795.5 1416h0M797.5 1425h0M799.5 1407h0M801.5 1421.5h0M803.5 1424.5h0M806 1427h0M808 1429h0M810 1433h0M812 1430h0M814 1415h0M816 1393h0M818 1422h0M820 1418h0M822 1406h0M824 1417.5h0M826.5 1424h0M828.5 1417h0M830.5 1414.5h0M832.5 1423.5h0M1055.5 1360h0"/><path stroke="#e6af13" d="M1082.5 1232.5h0"/><path stroke="#e69f0c" d="M560 1358.5h0M562 1336.5h0"/><path stroke="#e69b0b" d="M875.5 1278h0M881.5 1279.5h0M883.5 1271h0M890 1285.5h0M898 1272h0M939 1263.5h0M953.5 1254.5h0M955.5 1256h0M961.5 1258h0M963.5 1256h0M965.5 1252.5h0M967.5 1240h0M973.5 1255.5h0M976 1257h0M984 1254h0M986 1251h0M998.5 1253h0M1006.5 1244.5h0M1008.5 1249h0M1010.5 1232.5h0M1014.5 1237.5h0M1021 1230.5h0M1023 1236.5h0M1025 1228.5h0M1027 1233h0M1033 1217.5h0M1037 1218.5h0M1053.5 1222h0M1055.5 1208.5h0M1068 1210h0M1072 1206.5h0M1076 1204h0M1082.5 1199h0M1094.5 1194h0M1103 1194h0M1109 1178.5h0M1111 1174.5h0M1146 1138h0M1150 1139h0M1158 1129.5h0"/><path stroke="#e68b05" d="M267 1367.5h0M269 1363h0M271 1356h0M273.5 1351.5h0M275.5 1354h0M277.5 1362.5h0M281.5 1369.5h0M285.5 1359h0M287.5 1365h0M289.5 1348h0M291.5 1357h0M293.5 1353h0M296 1370.5h0M298 1356h0M300 1346.5h0M302 1343.5h0M304 1351.5h0M306 1361.5h0M308 1363.5h0M310 1359.5h0M312 1365.5h0M314 1353.5h0M316.5 1376.5h0M318.5 1362.5h0M320.5 1342h0M322.5 1372.5h0M324.5 1364.5h0M326.5 1355.5h0M328.5 1359.5h0M330.5 1362.5h0M332.5 1347.5h0M334.5 1369.5h0M337 1368h0M339 1361.5h0M341 1372.5h0M347 1343h0M349 1355.5h0M351 1369.5h0M353 1368h0M355 1351h0M357 1366h0M359.5 1355h0M361.5 1367.5h0M363.5 1363.5h0M365.5 1365h0M367.5 1356.5h0M369.5 1366h0M371.5 1362.5h0M373.5 1365.5h0M375.5 1362h0M377.5 1353.5h0M380 1373.5h0M382 1382h0M384 1365.5h0M386 1376h0M388 1340h0M390 1349.5h0M392 1353h0M394 1363.5h0M396 1354h0M398 1364.5h0M400.5 1351.5h0M402.5 1356.5h0M404.5 1365h0M406.5 1370h0M408.5 1368h0M410.5 1369.5h0M414.5 1361h0M416.5 1370h0M420.5 1365.5h0M423 1354h0M425 1356h0M427 1365.5h0M429 1350h0M433 1363.5h0M435 1361h0M437 1355.5h0M439 1366h0M441 1351.5h0M443.5 1369h0M445.5 1360h0M447.5 1363.5h0M449.5 1361.5h0M451.5 1365h0M453.5 1335h0M455.5 1351h0M457.5 1364.5h0M459.5 1363h0M461.5 1367.5h0M463.5 1337.5h0M466 1340h0M468 1364.5h0M470 1356h0M472 1353.5h0M474 1354h0M476 1364.5h0M480 1350.5h0M482 1357.5h0M484 1355.5h0M486.5 1342h0M488.5 1356.5h0M490.5 1348h0M492.5 1346h0M494.5 1359.5h0M496.5 1371h0M500.5 1377h0M502.5 1359.5h0M504.5 1362h0M509 1348.5h0M517 1356h0M521 1351h0M533.5 1354h0M564 1352.5h0M597 1345.5h0M636 1350h0M1057.5 1333.5h0M1064 1337h0M1072 1327h0M1076 1299h0M1078 1308h0M1080.5 1326.5h0M1117 1280h0M1119 1286.5h0M1137.5 1251.5h0"/><path stroke="#e68502" d="M1152 1408.5h0"/><path stroke="#e68100" d="M1017 1364h0"/><path stroke="#e77b03" d="M1074 1211.5h0M1143.5 1135h0M1162 1126.5h0M1168.5 1114h0"/><path stroke="#e97705" d="M822 1390h0M875.5 1394.5h0M896 1394h0M943 1394h0M949 1396h0M992 1406h0M1092.5 1401.5h0M1094.5 1409.5h0M1100.5 1403h0M1137.5 1406.5h0M1166.5 1412h0M1182.5 1415h0M1191 1417.5h0M1197 1416h0"/><path stroke="#eb7109" d="M1162 1410.5h0"/><path stroke="#ee6b0c" d="M822 1431.5h0M824 1433.5h0M826.5 1431h0M828.5 1440.5h0M830.5 1429.5h0M832.5 1434h0M834.5 1425.5h0M836.5 1418.5h0M838.5 1429h0M840.5 1428.5h0M842.5 1426.5h0M844.5 1430.5h0M847 1417h0M849 1419.5h0M853 1432h0M855 1417h0M857 1437.5h0M859 1414.5h0M861 1425.5h0M865 1429.5h0M867 1422h0M869.5 1429h0M871.5 1427h0M873.5 1433.5h0M875.5 1401.5h0M877.5 1413h0M879.5 1428h0M883.5 1423.5h0M885.5 1422h0M890 1422.5h0M892 1431.5h0M894 1429.5h0M896 1442h0M898 1422.5h0M902 1427h0M906 1422.5h0M908 1427h0M910.5 1423h0M912.5 1427.5h0M914.5 1424h0M916.5 1439.5h0M920.5 1446h0M922.5 1430h0M924.5 1413.5h0M926.5 1429.5h0M928.5 1431h0M930.5 1426.5h0M933 1414.5h0M935 1428.5h0M937 1429.5h0M939 1414h0M941 1448h0M943 1401.5h0M945 1407h0M1006.5 1350h0M1008.5 1354.5h0M1017 1352.5h0M1025 1346.5h0M1027 1358h0M1033 1347.5h0M1045.5 1346.5h0M1047.5 1345.5h0M1049.5 1337.5h0M1051.5 1336.5h0M1053.5 1344h0M1055.5 1350.5h0M1062 1340.5h0M1066 1347h0M1068 1334.5h0M1070 1329.5h0M1078 1340h0M1080.5 1330.5h0M1084.5 1324.5h0M1086.5 1321h0M1094.5 1317.5h0M1096.5 1311h0M1098.5 1313h0M1103 1298h0M1105 1310.5h0M1107 1314h0M1111 1300.5h0M1113 1308.5h0M1115 1286.5h0M1119 1297h0M1121 1295h0M1123.5 1286.5h0M1125.5 1281.5h0M1127.5 1289h0M1131.5 1277h0M1133.5 1284.5h0M1139.5 1270.5h0M1141.5 1270.5h0M1143.5 1269h0M1152 1239h0M1156 1230.5h0M1158 1237.5h0M1162 1225h0M1164 1213.5h0M1166.5 1211.5h0M1170.5 1202h0M1172.5 1200h0M1174.5 1185.5h0M1182.5 1155.5h0M1187 1150h0M1191 1142.5h0M1193 1131h0M1195 1117.5h0"/><path stroke="#ef670f" d="M1019 1392h0M1113 1404.5h0M1117 1404.5h0M1143.5 1406h0M1178.5 1417.5h0"/><path stroke="#f26112" d="M615.5 1316.5h0M617.5 1323h0M621.5 1323.5h0M625.5 1331.5h0M631.5 1306.5h0M633.5 1320h0M699.5 1312.5h0M781 1298h0M785.5 1315.5h0M787.5 1304h0M877.5 1295.5h0M949 1267.5h0M990 1251h0M1000.5 1258.5h0M1019 1242.5h0"/><path stroke="#f65718" d="M1164 1126.5h0M1191 1087.5h0"/><path stroke="#f7531b" d="M1092.5 1286.5h0M1141.5 1223h0M1197 1103.5h0"/><path stroke="#fa4d1e" d="M1035 1359.5h0M1141.5 1405.5h0"/><path stroke="#fe4324" d="M1113 1367.5h0"/><path stroke="#fa3f2a" d="M513 1344.5h0M515 1349h0M517 1344.5h0M519 1334h0M523 1340h0M525 1333h0M527 1340.5h0M529.5 1346h0M533.5 1339h0M541.5 1334h0M547.5 1338.5h0M550 1348.5h0M552 1333h0M558 1339h0M570.5 1335.5h0M572.5 1336h0M574.5 1354h0M576.5 1332.5h0M584.5 1327.5h0M617.5 1326h0M640 1325h0M654 1328.5h0M779 1332.5h0M1189 1138h0M1193 1122.5h0M1197 1127.5h0"/><path stroke="#f43e30" d="M595 1354h0M650 1360.5h0M1197 1411.5h0"/><path stroke="#ea3d38" d="M636 1379h0"/><path stroke="#e13c41" d="M123.5 1416.5h0M126 1437h0M128 1425h0M130 1398h0M132 1425.5h0M134 1423h0M136 1428.5h0M138 1442h0M140 1419h0M142 1437.5h0M144 1419h0M146.5 1419h0M148.5 1435.5h0M150.5 1431h0M152.5 1421h0M154.5 1416.5h0M156.5 1405.5h0M158.5 1417.5h0M160.5 1416h0M162.5 1422.5h0M164.5 1428.5h0M167 1421h0M169 1429h0M171 1426h0M173 1412h0M175 1426h0M177 1407.5h0M179 1408.5h0M181 1425h0M183 1433h0M185 1418h0M187 1418h0M189.5 1419.5h0M191.5 1425h0M193.5 1406h0M195.5 1425.5h0M197.5 1424h0M199.5 1410.5h0M201.5 1417h0M203.5 1431.5h0M205.5 1419.5h0M207.5 1427.5h0M210 1424h0M212 1422.5h0M214 1413.5h0M216 1428h0M218 1434.5h0M220 1414h0M222 1417.5h0M224 1416.5h0M226 1436.5h0M228 1431h0M230 1419.5h0M232.5 1412.5h0M234.5 1429h0M236.5 1433h0M238.5 1435h0M240.5 1411h0M242.5 1428h0M244.5 1421h0M246.5 1408.5h0M248.5 1443h0M250.5 1421h0M253 1417h0M255 1422h0M257 1429.5h0M259 1421h0M261 1424h0M263 1426h0M265 1371.5h0M267 1402h0M269 1427.5h0M271 1432.5h0M273.5 1424h0M275.5 1423.5h0M277.5 1390.5h0M279.5 1415h0M281.5 1409h0M283.5 1409.5h0M285.5 1426h0M287.5 1427h0M289.5 1414h0M291.5 1413.5h0M293.5 1411.5h0M296 1419h0M298 1414.5h0M300 1423h0M302 1418h0M304 1421h0M306 1427.5h0M308 1408h0M310 1409h0M312 1420.5h0M314 1381.5h0M316.5 1416.5h0M318.5 1415h0M320.5 1434h0M322.5 1426h0M324.5 1391h0M326.5 1437h0M328.5 1427.5h0M330.5 1404h0M332.5 1404h0M334.5 1426.5h0M337 1426.5h0M339 1415h0M341 1423h0M343 1419.5h0M345 1422.5h0M347 1413.5h0M349 1420.5h0M351 1425.5h0M353 1427h0M355 1413.5h0M357 1421.5h0M359.5 1422h0M361.5 1413.5h0M363.5 1417.5h0M365.5 1420h0M367.5 1410.5h0M371.5 1433.5h0M373.5 1413.5h0M375.5 1414.5h0M380 1386.5h0M382 1427h0M384 1423.5h0M386 1420.5h0M388 1416h0M390 1381.5h0M392 1426.5h0M394 1443.5h0M396 1425h0M398 1426.5h0M400.5 1437h0M404.5 1404h0M410.5 1417.5h0M412.5 1431h0M414.5 1419.5h0M416.5 1400h0M418.5 1421h0M420.5 1380h0M423 1393h0M425 1434.5h0M427 1409h0M429 1439h0M431 1416.5h0M433 1421h0M435 1389h0M437 1421h0M439 1412.5h0M441 1420.5h0M443.5 1422.5h0M445.5 1435.5h0M447.5 1379h0M449.5 1374h0M451.5 1433h0M453.5 1410.5h0M455.5 1385h0M457.5 1406h0M459.5 1423.5h0M461.5 1416h0M463.5 1434.5h0M466 1389h0M470 1425.5h0M472 1414.5h0M476 1408.5h0M478 1415h0M480 1417.5h0M482 1407h0M484 1413.5h0M486.5 1428h0M488.5 1417.5h0M490.5 1421.5h0M492.5 1404.5h0M494.5 1417.5h0M496.5 1403.5h0M498.5 1387.5h0M502.5 1425h0M507 1403.5h0M509 1417.5h0M511 1420h0M513 1413h0M515 1411.5h0M517 1396.5h0M519 1400.5h0M521 1423h0M523 1398.5h0M525 1416.5h0M527 1418.5h0M529.5 1409.5h0M531.5 1417.5h0M533.5 1396.5h0M535.5 1435h0M537.5 1429.5h0M539.5 1411.5h0M541.5 1418.5h0M543.5 1387.5h0M545.5 1429.5h0M547.5 1402h0M550 1408h0M552 1406.5h0M554 1394.5h0M556 1433h0M558 1404.5h0M560 1391.5h0M562 1402h0M564 1409h0M566 1416.5h0M570.5 1403h0M572.5 1431h0M574.5 1428.5h0M576.5 1439.5h0M578.5 1446.5h0M586.5 1422.5h0M588.5 1394h0M590.5 1404.5h0M595 1405.5h0M597 1418h0M621.5 1384h0M623.5 1385h0M633.5 1394h0M638 1400h0M642 1385h0M703.5 1383.5h0M705.5 1399h0M717.5 1398h0M734 1405h0M740.5 1394h0M795.5 1410h0M806 1407h0M812 1397h0M818 1400.5h0M836.5 1402.5h0M857 1406.5h0M861 1396.5h0M896 1400h0M916.5 1402.5h0M918.5 1398.5h0M965.5 1401.5h0M976 1396.5h0M988 1404h0M992 1400.5h0M996.5 1398h0M1014.5 1403h0M1037 1401.5h0M1051.5 1400h0M1053.5 1400.5h0M1057.5 1403.5h0M1072 1405.5h0M1088.5 1407.5h0M1103 1402.5h0M1129.5 1406.5h0M1135.5 1409.5h0M1148 1408.5h0M1156 1406h0M1164 1410.5h0M1174.5 1416h0M1193 1420.5h0"/><path stroke="#da3b46" d="M513 1386.5h0M517 1377.5h0M519 1380.5h0M521 1377h0M523 1378h0M525 1397h0M531.5 1377h0M535.5 1379h0M550 1387h0M554 1390.5h0M568 1378.5h0M580.5 1386h0M584.5 1376.5h0M593 1392.5h0M605 1379.5h0M607 1374h0M609 1384.5h0M633.5 1378h0M636 1388h0M644 1380h0M689 1375.5h0M701.5 1381.5h0M820 1387.5h0M887.5 1391.5h0M928.5 1397.5h0M1184.5 1414.5h0M1189 1414.5h0"/><path stroke="#d13a4f" d="M523 1381h0M525 1380.5h0M527 1394h0M529.5 1394.5h0M531.5 1375.5h0M533.5 1386h0M535.5 1385h0M539.5 1387.5h0M541.5 1385.5h0M543.5 1384h0M545.5 1395h0M547.5 1382h0M550 1375h0M552 1385.5h0M554 1398h0M556 1400h0M558 1380.5h0M560 1386h0M562 1399h0M564 1382.5h0M566 1387.5h0M568 1382h0M570.5 1396h0M572.5 1386.5h0M574.5 1382h0M576.5 1380h0M578.5 1380h0M582.5 1395h0M584.5 1385.5h0M586.5 1401h0M588.5 1381h0M590.5 1374.5h0M593 1389.5h0M595 1382.5h0M597 1382.5h0M599 1383.5h0M601 1379h0M603 1392.5h0M605 1388h0M607 1377.5h0M609 1386.5h0M611 1384h0M615.5 1388h0M621.5 1383.5h0M627.5 1376.5h0M629.5 1385h0M633.5 1385h0M636 1389h0M638 1397h0M642 1388h0M644 1379h0M646 1394.5h0M654 1397.5h0M666.5 1400.5h0M672.5 1387h0M679 1398h0M734 1397h0M746.5 1397h0M754.5 1397h0M791.5 1396h0M793.5 1395h0M812 1392h0M814 1387h0M826.5 1390h0M830.5 1402.5h0M883.5 1395h0M924.5 1400h0M957.5 1394.5h0M963.5 1398.5h0M971.5 1389.5h0M982 1393.5h0M984 1393h0M986 1390.5h0M1017 1388.5h0M1035 1398.5h0M1037 1396.5h0M1072 1396.5h0M1111 1412h0M1131.5 1411.5h0M1135.5 1406h0M1148 1407h0"/><path stroke="#ca3954" d="M763 1390.5h0M1125.5 1367h0"/><path stroke="#c1385d" d="M552 1345h0M556 1346h0M564 1351.5h0M568 1345h0M570.5 1347h0M572.5 1349h0M582.5 1352.5h0M595 1344.5h0M601 1343.5h0M611 1339h0M625.5 1346h0M631.5 1352.5h0M650 1357h0M656.5 1333h0M658.5 1351h0M660.5 1334h0M672.5 1357.5h0M1014.5 1282h0M1197 1060.5h0"/><path stroke="#ba3762" d="M1033 1360.5h0M1088.5 1368.5h0"/><path stroke="#b1366b" d="M584.5 1308h0M586.5 1313h0M588.5 1325.5h0M590.5 1305h0M593 1324h0M595 1308h0M599 1309.5h0M603 1318h0M607 1309.5h0M609 1321h0M611 1314.5h0M613.5 1307.5h0M615.5 1311h0M617.5 1308h0M619.5 1316h0M621.5 1315.5h0M623.5 1320.5h0M625.5 1316h0M629.5 1314.5h0M633.5 1314h0M648 1307.5h0M654 1310h0M660.5 1301.5h0M664.5 1312h0M679 1301h0M691 1314.5h0M693 1312h0M697 1315.5h0M699.5 1303h0M701.5 1319h0M715.5 1297h0M724 1304.5h0M732 1306.5h0M734 1311h0M744.5 1315.5h0M758.5 1318h0M779 1308h0M781 1318h0M783.5 1300h0M785.5 1307.5h0M787.5 1318h0M793.5 1291h0M803.5 1300h0M812 1292.5h0M818 1294.5h0M847 1290.5h0M855 1290.5h0M1002.5 1259.5h0M1037 1247h0M1041.5 1244h0M1043.5 1245.5h0M1060 1219.5h0M1062 1225h0M1084.5 1201h0M1092.5 1207.5h0M1113 1176h0M1125.5 1153h0M1137.5 1161h0M1156 1137h0M1164 1117h0M1166.5 1122.5h0M1168.5 1117.5h0M1170.5 1106.5h0M1172.5 1107.5h0M1193 1070.5h0M1195 1072.5h0M1197 1076h0"/><path stroke="#a73573" d="M758.5 1383h0M1023 1389.5h0M1123.5 1364.5h0"/><path stroke="#a13479" d="M814 1379.5h0M1178.5 1377.5h0"/><path stroke="#973381" d="M513 1380h0M515 1349.5h0M517 1362.5h0M519 1358h0M523 1371.5h0M529.5 1368.5h0M533.5 1365.5h0M535.5 1359.5h0M537.5 1366h0M541.5 1381h0M543.5 1376h0M545.5 1369h0M547.5 1356h0M550 1365.5h0M552 1374h0M558 1366.5h0M560 1361.5h0M562 1371.5h0M564 1363.5h0M568 1365.5h0M570.5 1370.5h0M572.5 1366.5h0M584.5 1358.5h0M588.5 1357.5h0M603 1370.5h0M605 1366.5h0M611 1371.5h0M613.5 1374h0M615.5 1366h0M627.5 1372h0M1014.5 1359.5h0M1043.5 1362h0M1158 1406h0M1189 1413.5h0M1197 1414h0"/><path stroke="#933285" d="M830.5 1298.5h0M859 1299.5h0M877.5 1297.5h0M914.5 1305h0M998.5 1262h0M1002.5 1261h0M1039.5 1250.5h0M1062 1227h0M1111 1202.5h0"/><path stroke="#8b318b" d="M627.5 1323.5h0M629.5 1335.5h0M631.5 1330h0M638 1339.5h0M648 1343.5h0M654 1337h0M660.5 1335h0M670.5 1338h0M701.5 1327.5h0M707.5 1332.5h0M709.5 1333.5h0M754.5 1330h0M756.5 1325h0M760.5 1331h0M914.5 1310h0M1014.5 1267h0M1062 1264.5h0M1070 1246h0M1080.5 1241h0"/><path stroke="#843091" d="M1039.5 1362.5h0M1197 1388.5h0"/><path stroke="#802f95" d="M986 1319h0M1037 1271h0M1060 1273h0"/><path stroke="#782e9b" d="M773 1381.5h0M986 1388h0M1010.5 1389h0M1012.5 1388h0M1023 1366h0M1031 1364h0M1043.5 1363h0M1051.5 1362h0M1055.5 1365h0M1060 1363.5h0M1074 1360.5h0M1092.5 1359.5h0M1107 1367h0M1119 1364h0M1135.5 1365h0M1141.5 1369h0M1148 1369.5h0M1170.5 1367.5h0M1174.5 1382h0M1178.5 1383h0"/><path stroke="#732d9f" d="M677 1350h0M681 1351h0M683 1347.5h0M703.5 1345h0M707.5 1344h0M945 1308h0M980 1318.5h0M986 1304h0M1041.5 1274h0M1055.5 1274.5h0M1080.5 1254h0M1096.5 1237h0M1100.5 1235h0"/><path stroke="#6c2ca5" d="M685 1386h0M689 1372.5h0M705.5 1381.5h0M808 1383h0M990 1387.5h0M1006.5 1356h0M1019 1369h0M1031 1357h0M1047.5 1370h0M1051.5 1363.5h0M1053.5 1369h0M1062 1364h0M1098.5 1360.5h0M1117 1371h0M1121 1373.5h0M1125.5 1371.5h0M1129.5 1369.5h0M1135.5 1371.5h0M1139.5 1373h0M1158 1373h0M1162 1380.5h0M1170.5 1376.5h0M1189 1381.5h0M1197 1394h0"/><path stroke="#652aab" d="M957.5 1309h0M1017 1312.5h0M1064 1270.5h0M1084.5 1284h0M1197 1111h0"/><path stroke="#602aaf" d="M363.5 1426.5h0M365.5 1429h0M367.5 1430h0M369.5 1427.5h0M371.5 1428.5h0M373.5 1424h0M375.5 1424h0M377.5 1421h0M380 1419.5h0M382 1390.5h0M384 1433h0M386 1413h0M388 1421.5h0M390 1436.5h0M392 1411.5h0M394 1427.5h0M396 1428h0M398 1410h0M400.5 1421.5h0M402.5 1422.5h0M404.5 1427.5h0M406.5 1426.5h0M408.5 1419.5h0M410.5 1429h0M412.5 1416.5h0M414.5 1424h0M416.5 1427.5h0M418.5 1424.5h0M420.5 1434.5h0M423 1385h0M425 1429h0M427 1433h0M429 1403h0M431 1418.5h0M433 1418.5h0M435 1420.5h0M437 1426.5h0M439 1427h0M441 1433.5h0M443.5 1404h0M445.5 1420.5h0M447.5 1386h0M449.5 1422.5h0M451.5 1423.5h0M453.5 1424.5h0M455.5 1384.5h0M457.5 1430.5h0M459.5 1425h0M461.5 1420.5h0M463.5 1418.5h0M466 1421.5h0M468 1429h0M470 1416h0M472 1421h0M474 1419h0M476 1433h0M478 1421h0M480 1395.5h0M482 1435.5h0M484 1431.5h0M486.5 1423h0M488.5 1431h0M490.5 1427h0M492.5 1435.5h0M494.5 1427h0M496.5 1433.5h0M498.5 1445h0M500.5 1421h0M502.5 1419.5h0M504.5 1424.5h0M507 1382h0M509 1432.5h0M511 1424h0M513 1383h0M515 1394.5h0M517 1422h0M519 1426.5h0M521 1428.5h0M523 1424h0M525 1421h0M527 1428h0M529.5 1397h0M531.5 1428h0M533.5 1423.5h0M535.5 1419h0M537.5 1419h0M539.5 1401h0M541.5 1415.5h0M543.5 1426h0M545.5 1425.5h0M547.5 1431h0M550 1425.5h0M552 1420h0M554 1423.5h0M556 1422.5h0M558 1428h0M560 1414h0M562 1428.5h0M564 1393h0M566 1432h0M568 1422.5h0M570.5 1398.5h0M572.5 1413h0M574.5 1429.5h0M576.5 1426.5h0M578.5 1420.5h0M580.5 1415h0M582.5 1426h0M584.5 1420.5h0M586.5 1381.5h0M588.5 1418.5h0M590.5 1421.5h0M593 1401h0M595 1425.5h0M597 1413.5h0M599 1431.5h0M601 1408h0M603 1417.5h0M605 1430h0M607 1430h0M609 1396.5h0M611 1406h0M613.5 1419h0M615.5 1432h0M617.5 1425h0M619.5 1419.5h0M621.5 1432.5h0M623.5 1416h0M625.5 1422.5h0M627.5 1389.5h0M629.5 1418.5h0M631.5 1428.5h0M633.5 1419h0M636 1420.5h0M638 1407.5h0M640 1423.5h0M642 1415h0M644 1408h0M646 1433h0M648 1426.5h0M650 1427.5h0M652 1429.5h0M654 1421.5h0M656.5 1434h0M658.5 1417.5h0M660.5 1424.5h0M662.5 1419.5h0M664.5 1397h0M666.5 1427h0M668.5 1418.5h0M670.5 1407h0M672.5 1432.5h0M674.5 1427.5h0M677 1413h0M679 1421.5h0M681 1423h0M683 1418h0M685 1426h0M689 1415h0M691 1422h0M693 1370h0M695 1429.5h0M697 1429.5h0M701.5 1419.5h0M703.5 1421.5h0M705.5 1423h0M707.5 1425h0M709.5 1417h0M711.5 1412h0M713.5 1415h0M715.5 1390.5h0M717.5 1436h0M724 1406h0M726 1410.5h0M728 1411h0M730 1394h0M732 1421.5h0M734 1426.5h0M738 1390h0M740.5 1431h0M742.5 1434.5h0M746.5 1419h0M748.5 1412h0M750.5 1403.5h0M754.5 1421h0M756.5 1428.5h0M760.5 1420.5h0M765 1424h0M769 1429.5h0M771 1432.5h0M773 1432.5h0M775 1407h0M777 1436h0M779 1415.5h0M781 1435h0M783.5 1417h0M785.5 1403.5h0M787.5 1409h0M789.5 1419.5h0M791.5 1407h0M793.5 1413h0M795.5 1418.5h0M799.5 1430.5h0M801.5 1421h0M803.5 1415.5h0M808 1416.5h0M810 1409.5h0M812 1416.5h0M814 1418.5h0M816 1416.5h0M818 1409.5h0M820 1416.5h0M824 1421h0M828.5 1400.5h0M830.5 1409h0M832.5 1421.5h0M834.5 1431.5h0M838.5 1409h0M840.5 1393h0M842.5 1426h0M847 1432h0M849 1395.5h0M851 1436h0M853 1434.5h0M857 1401h0M859 1406.5h0M861 1426.5h0M863 1412.5h0M869.5 1391h0M871.5 1422h0M873.5 1416.5h0M879.5 1407.5h0M881.5 1428h0M883.5 1436h0M885.5 1389h0M887.5 1401h0M890 1410h0M892 1408.5h0M894 1420h0M896 1438h0M898 1419.5h0M902 1392.5h0M906 1425h0M908 1422h0M914.5 1430h0M918.5 1419h0M920.5 1397h0M922.5 1419.5h0M924.5 1421.5h0M926.5 1423.5h0M1006.5 1395.5h0M1010.5 1387.5h0M1012.5 1366h0M1021 1392.5h0M1027 1370h0M1053.5 1369.5h0M1074 1367h0M1082.5 1364h0M1115 1374h0M1168.5 1404h0M1172.5 1381h0M1178.5 1374h0M1184.5 1382h0M1187 1385h0M1197 1397h0"/><path stroke="#5928b5" d="M1000.5 1354.5h0M1012.5 1348h0M1014.5 1353.5h0M1033 1351h0M1057.5 1340h0M1082.5 1301.5h0M1084.5 1309.5h0M1086.5 1299h0M1088.5 1317h0M1090.5 1305.5h0M1092.5 1321.5h0M1105 1291h0M1109 1287h0M1115 1283.5h0M1117 1278.5h0M1119 1276.5h0M1125.5 1258.5h0M1129.5 1263h0M1135.5 1255.5h0M1141.5 1245h0M1148 1230.5h0M1150 1238h0M1156 1228.5h0M1168.5 1197h0M1184.5 1140h0M1187 1146.5h0M1189 1134.5h0M1193 1123.5h0"/><path stroke="#5428b9" d="M584.5 1391h0M586.5 1400h0M588.5 1386.5h0M590.5 1398h0M593 1388h0M595 1390h0M597 1397.5h0M599 1384.5h0M601 1388h0M603 1389.5h0M605 1391.5h0M607 1403h0M609 1390.5h0M611 1394h0M613.5 1398.5h0M615.5 1392h0M617.5 1383h0M619.5 1393h0M621.5 1396h0M623.5 1397h0M625.5 1388.5h0M627.5 1404h0M629.5 1394.5h0M631.5 1391.5h0M633.5 1393h0M636 1393.5h0M638 1398.5h0M640 1402h0M642 1389.5h0M644 1390h0M646 1397.5h0M648 1396h0M650 1403.5h0M652 1392h0M654 1389.5h0M656.5 1396.5h0M660.5 1391.5h0M662.5 1402h0M664.5 1384.5h0M666.5 1397h0M668.5 1391h0M670.5 1395.5h0M672.5 1395h0M674.5 1404h0M681 1380h0M683 1395h0M685 1381h0M687 1390h0M689 1385h0M691 1399h0M693 1395h0M695 1398.5h0M699.5 1394.5h0M701.5 1399h0M703.5 1405.5h0M707.5 1388.5h0M709.5 1397.5h0M711.5 1395h0M713.5 1393.5h0M715.5 1384h0M717.5 1396.5h0M720 1395.5h0M724 1391h0M726 1398h0M728 1388.5h0M732 1388h0M734 1395.5h0M738 1396h0M740.5 1392h0M742.5 1391h0M744.5 1392h0M746.5 1391h0M748.5 1392h0M750.5 1395h0M752.5 1391.5h0M754.5 1387.5h0M756.5 1391.5h0M758.5 1396h0M760.5 1398.5h0M763 1392.5h0M765 1395.5h0M767 1397.5h0M769 1393h0M771 1400h0M773 1404.5h0M777 1391h0M779 1401.5h0M783.5 1395.5h0M785.5 1399.5h0M787.5 1403h0M791.5 1390h0M795.5 1392h0M799.5 1398h0M801.5 1402h0M803.5 1396h0M806 1395h0M808 1394.5h0M810 1388.5h0M812 1387.5h0M814 1386h0M816 1406h0M820 1399h0M822 1396.5h0M826.5 1388.5h0M828.5 1390h0M830.5 1397.5h0M834.5 1407.5h0M836.5 1398h0M840.5 1399h0M842.5 1389.5h0M844.5 1393h0M849 1394.5h0M851 1399h0M853 1406h0M857 1393.5h0M859 1397h0M861 1393.5h0M863 1390.5h0M865 1394h0M869.5 1394.5h0M871.5 1395.5h0M873.5 1405.5h0M875.5 1406h0M877.5 1392.5h0M879.5 1393h0M881.5 1391.5h0M885.5 1397h0M892 1390.5h0M894 1388.5h0M896 1393h0M898 1393.5h0M900 1397h0M902 1397h0M904 1386h0M908 1398h0M912.5 1392.5h0M914.5 1390.5h0M916.5 1399h0M920.5 1392.5h0M922.5 1392h0M928.5 1404.5h0M930.5 1391.5h0M933 1401.5h0M935 1398h0M939 1399.5h0M949 1390.5h0M951 1396h0M953.5 1384.5h0M955.5 1403h0M961.5 1397.5h0M976 1405h0M980 1399h0M982 1399.5h0M984 1402h0M986 1406h0M988 1395h0M990 1402.5h0M992 1391h0M998.5 1394h0M1000.5 1386h0M1002.5 1397.5h0M1006.5 1389h0M1008.5 1398.5h0M1014.5 1402h0M1017 1403.5h0M1019 1399h0M1023 1396.5h0M1025 1387.5h0M1027 1398.5h0M1029 1397h0M1043.5 1404h0M1049.5 1399h0M1055.5 1402h0M1057.5 1398.5h0M1064 1403h0M1068 1399h0M1074 1403.5h0M1076 1395.5h0M1078 1405h0M1082.5 1400h0M1088.5 1400h0M1105 1411h0M1109 1406h0M1111 1404h0M1115 1402.5h0M1121 1402h0M1127.5 1405.5h0M1139.5 1404.5h0M1197 1392.5h0"/><path stroke="#4d26bf" d="M834.5 1332h0M957.5 1324.5h0M959.5 1326h0M973.5 1330h0M976 1322h0M978 1316h0M1017 1315.5h0M1031 1310h0M1035 1310h0M1039.5 1313h0M1062 1278.5h0M1127.5 1224.5h0M1129.5 1226h0M1146 1200h0M1166.5 1178h0"/><path stroke="#4a26bc" d="M806 1378h0M822 1378.5h0M824 1385h0M885.5 1386.5h0M949 1383h0M1004.5 1364h0M1006.5 1384h0M1019 1369.5h0M1021 1389.5h0M1057.5 1370h0M1064 1358h0M1080.5 1366.5h0M1086.5 1365.5h0M1090.5 1370.5h0M1096.5 1365h0M1100.5 1373h0M1125.5 1373h0M1129.5 1373h0M1158 1374h0M1162 1406.5h0M1164 1376.5h0M1182.5 1382h0M1189 1386.5h0M1197 1401.5h0"/><path stroke="#4726b6" d="M674.5 1391h0M677 1380h0M679 1392h0M681 1395h0M683 1389.5h0M685 1394h0M687 1382.5h0M691 1383h0M693 1386.5h0M695 1394h0M697 1388h0M699.5 1389.5h0M701.5 1380h0M703.5 1394h0M705.5 1395.5h0M707.5 1385.5h0M709.5 1393h0M711.5 1384h0M715.5 1382.5h0M720 1392.5h0M722 1385h0M726 1384.5h0M730 1386h0M734 1380.5h0M738 1387h0M740.5 1390h0M746.5 1388h0M748.5 1400h0M750.5 1402h0M754.5 1386h0M758.5 1381.5h0M760.5 1380h0M763 1380h0M765 1386.5h0M767 1389.5h0M769 1392.5h0M771 1385.5h0M773 1390.5h0M775 1396h0M777 1380h0M781 1391h0M785.5 1387.5h0M787.5 1390.5h0M789.5 1389.5h0M791.5 1387h0M793.5 1381h0M795.5 1391.5h0M799.5 1390h0M803.5 1385h0M808 1390.5h0M810 1392.5h0M812 1390h0M814 1405h0M816 1399.5h0M818 1395.5h0M820 1383.5h0M822 1384.5h0M826.5 1387h0M828.5 1385.5h0M830.5 1389h0M832.5 1388.5h0M834.5 1390.5h0M836.5 1387.5h0M838.5 1384.5h0M840.5 1382h0M842.5 1385h0M844.5 1390h0M847 1391h0M849 1390h0M857 1391h0M859 1391h0M863 1380.5h0M865 1385.5h0M867 1383.5h0M869.5 1384h0M875.5 1388.5h0M877.5 1379.5h0M879.5 1383h0M881.5 1380h0M883.5 1389h0M890 1384.5h0M896 1386.5h0M902 1395.5h0M904 1395h0M908 1391h0M918.5 1390.5h0M933 1389.5h0M935 1394.5h0M941 1390.5h0M943 1398.5h0M945 1386.5h0M949 1394h0M955.5 1387.5h0M961.5 1395h0M963.5 1389h0M969.5 1394h0M973.5 1385h0M978 1390h0M984 1403.5h0M986 1385h0M992 1388.5h0M994 1395.5h0M996.5 1394.5h0M998.5 1395.5h0M1004.5 1394h0M1010.5 1397.5h0M1012.5 1396.5h0M1014.5 1387h0M1019 1389.5h0M1041.5 1395h0M1064 1399h0M1066 1395h0M1070 1393.5h0M1078 1395h0M1080.5 1400.5h0M1082.5 1404.5h0M1090.5 1407.5h0M1092.5 1396h0M1098.5 1401h0M1103 1398.5h0M1109 1400.5h0M1111 1396h0M1113 1396h0M1115 1400.5h0M1123.5 1400.5h0M1152 1404.5h0M1170.5 1381h0M1197 1393h0"/><path stroke="#4326b0" d="M720 1346h0M726 1355h0M988 1361.5h0M998.5 1336h0M1017 1341h0M1037 1328.5h0M1051.5 1316h0M1057.5 1325h0M1078 1309h0M1080.5 1300.5h0M1100.5 1289h0M1103 1286.5h0M1107 1282h0M1109 1278h0M1111 1277h0M1117 1274.5h0M1119 1272h0M1135.5 1245.5h0M1143.5 1234h0M1156 1204h0M1158 1194.5h0M1160 1216h0M1164 1183.5h0M1172.5 1182h0M1182.5 1140h0M1191 1129.5h0M1197 1099.5h0"/><path stroke="#4126ac" d="M828.5 1378h0M928.5 1355h0M988 1350.5h0M990 1357h0M992 1346h0M994 1352.5h0M998.5 1356h0M1002.5 1356.5h0M1004.5 1357h0M1006.5 1346.5h0M1008.5 1358h0M1014.5 1361h0M1017 1348h0M1019 1349h0M1023 1352h0M1025 1352h0M1029 1343.5h0M1031 1344.5h0M1033 1342h0M1035 1349h0M1037 1349.5h0M1039.5 1343.5h0M1041.5 1342.5h0M1043.5 1340h0M1047.5 1336h0M1051.5 1332.5h0M1053.5 1332h0M1055.5 1333.5h0M1062 1329.5h0M1064 1332h0M1066 1324.5h0M1068 1330.5h0M1070 1321h0M1072 1335h0M1074 1325h0M1082.5 1317h0M1084.5 1321.5h0M1086.5 1318h0M1088.5 1311h0M1090.5 1300.5h0M1096.5 1305h0M1098.5 1293h0M1100.5 1302.5h0M1103 1285h0M1105 1305.5h0M1107 1305.5h0M1109 1309.5h0M1111 1285h0M1113 1293.5h0M1115 1297.5h0M1117 1294.5h0M1119 1295h0M1123.5 1275.5h0M1125.5 1269.5h0M1127.5 1278h0M1129.5 1276h0M1133.5 1265.5h0M1139.5 1260h0M1141.5 1262h0M1143.5 1240h0M1146 1253h0M1148 1248.5h0M1150 1241.5h0M1152 1214.5h0M1154 1231.5h0M1158 1221h0M1162 1209h0M1164 1204h0M1166.5 1191h0M1168.5 1193h0M1170.5 1187h0M1172.5 1192.5h0M1176.5 1174h0M1182.5 1163h0M1187 1152h0M1189 1136h0M1193 1125h0M1195 1116.5h0M1197 1095.5h0"/><path stroke="#3d26a6" d="M615.5 1315h0M617.5 1313.5h0M619.5 1308.5h0M623.5 1308h0M625.5 1322.5h0M627.5 1315.5h0M631.5 1292.5h0M633.5 1304.5h0M636 1318.5h0M638 1316h0M640 1314h0M642 1292h0M648 1319.5h0M650 1318.5h0M652 1320.5h0M654 1315h0M656.5 1295.5h0M658.5 1316h0M660.5 1307h0M664.5 1305h0M666.5 1303h0M670.5 1308.5h0M672.5 1307h0M674.5 1318h0M677 1310.5h0M679 1307h0M681 1317h0M683 1319h0M685 1306.5h0M687 1313h0M689 1309.5h0M691 1304.5h0M693 1299h0M695 1311h0M699.5 1302h0M701.5 1302h0M703.5 1310h0M705.5 1304.5h0M707.5 1307h0M709.5 1308h0M711.5 1311.5h0M713.5 1301.5h0M715.5 1305.5h0M717.5 1299h0M720 1296.5h0M724 1291h0M726 1294h0M728 1311.5h0M736 1307.5h0M738 1300.5h0M740.5 1307.5h0M742.5 1303h0M744.5 1301h0M746.5 1311h0M748.5 1298.5h0M750.5 1289.5h0M752.5 1306.5h0M760.5 1299h0M763 1300.5h0M765 1314h0M767 1300.5h0M769 1307h0M771 1296.5h0M773 1303h0M777 1298.5h0M779 1291.5h0M781 1300h0M783.5 1308.5h0M785.5 1298.5h0M787.5 1291h0M789.5 1298h0M791.5 1307h0M799.5 1293.5h0M801.5 1282.5h0M803.5 1296.5h0M806 1293.5h0M808 1297h0M810 1294.5h0M812 1286h0M814 1298h0M816 1300h0M824 1300.5h0M826.5 1279.5h0M828.5 1290h0M832.5 1284.5h0M836.5 1286h0M840.5 1290h0M851 1285h0M853 1281.5h0M855 1297h0M857 1280.5h0M861 1285h0M863 1285.5h0M871.5 1295h0M873.5 1276.5h0M881.5 1283.5h0M883.5 1281h0M887.5 1275.5h0M890 1282.5h0M892 1283.5h0M896 1279h0M898 1276h0M900 1282h0M904 1287h0M908 1278.5h0M914.5 1272.5h0M916.5 1276.5h0M920.5 1268h0M922.5 1269h0M924.5 1276h0M926.5 1265.5h0M928.5 1262h0M930.5 1264.5h0M933 1266.5h0M935 1269.5h0M939 1267h0M945 1266h0M949 1260.5h0M951 1270.5h0M953.5 1268.5h0M955.5 1264.5h0M957.5 1262.5h0M959.5 1262h0M961.5 1264h0M967.5 1268h0M971.5 1257.5h0M976 1258h0M978 1265.5h0M980 1256.5h0M982 1259h0M984 1258h0M986 1247h0M992 1257.5h0M994 1245h0M1000.5 1234.5h0M1002.5 1253.5h0M1004.5 1241.5h0M1006.5 1240h0M1008.5 1227.5h0M1010.5 1237h0M1012.5 1244.5h0M1014.5 1246h0M1017 1234.5h0M1023 1240.5h0M1027 1236h0M1029 1237h0M1031 1240h0M1033 1228h0M1035 1232h0M1041.5 1224h0M1047.5 1211.5h0M1053.5 1227.5h0M1055.5 1212.5h0M1060 1210h0M1062 1218.5h0M1064 1209.5h0M1066 1218h0M1070 1207.5h0M1072 1215.5h0M1074 1205h0M1076 1207h0M1078 1209.5h0M1080.5 1216.5h0M1082.5 1196.5h0M1086.5 1211h0M1088.5 1191.5h0M1090.5 1195.5h0M1092.5 1197h0M1094.5 1189.5h0M1096.5 1188.5h0M1103 1191h0M1105 1183.5h0M1107 1194h0M1111 1180.5h0M1115 1179.5h0M1117 1178h0M1119 1167h0M1121 1170h0M1123.5 1169h0M1125.5 1164.5h0M1127.5 1162.5h0M1129.5 1166h0M1131.5 1158.5h0M1133.5 1170h0M1135.5 1152.5h0M1137.5 1146h0M1139.5 1161.5h0M1141.5 1154.5h0M1143.5 1148h0M1146 1150.5h0M1148 1140h0M1150 1142.5h0M1154 1130h0M1158 1138h0M1166.5 1125.5h0M1168.5 1114.5h0M1170.5 1120h0M1172.5 1112.5h0M1174.5 1106h0M1191 1089h0M1197 1075h0"/><path stroke="#3b26a2" d="M783.5 1335h0M799.5 1330h0M814 1340.5h0M824 1339.5h0M836.5 1333.5h0M847 1329.5h0M914.5 1322h0M945 1312h0M947 1310h0M953.5 1311.5h0M955.5 1318.5h0M959.5 1321h0M961.5 1320.5h0M965.5 1323.5h0M973.5 1318h0M978 1311.5h0M984 1320.5h0M986 1303h0M998.5 1307h0M1000.5 1305h0M1014.5 1303.5h0M1017 1293h0M1019 1303h0M1021 1305h0M1033 1288h0M1053.5 1289h0M1060 1284h0M1062 1263.5h0M1066 1264.5h0M1074 1267.5h0M1080.5 1266h0M1082.5 1253h0M1096.5 1254h0M1100.5 1239.5h0M1103 1243h0M1105 1245.5h0M1109 1238h0M1111 1238h0M1113 1218h0M1117 1219.5h0M1123.5 1224h0M1127.5 1216h0M1129.5 1207.5h0M1133.5 1211h0M1148 1190h0M1152 1179.5h0M1158 1168.5h0M1195 1084h0M1197 1084h0"/><path stroke="#37269c" d="M664.5 1319.5h0M666.5 1316h0M668.5 1316.5h0M670.5 1321h0M674.5 1319h0M677 1323.5h0M679 1310h0M687 1319h0M697 1326h0M701.5 1326.5h0M703.5 1305.5h0M705.5 1316.5h0M707.5 1317.5h0M709.5 1328h0M711.5 1319h0M715.5 1315.5h0M717.5 1310h0M720 1320.5h0M724 1311.5h0M726 1318h0M728 1324h0M730 1312.5h0M734 1317h0M738 1315h0M740.5 1322.5h0M742.5 1322h0M748.5 1324.5h0M752.5 1311.5h0M758.5 1309h0M760.5 1305.5h0M765 1313h0M767 1311h0M769 1320h0M775 1309.5h0M779 1313.5h0M781 1318.5h0M785.5 1324.5h0M787.5 1309h0M816 1318h0M818 1299.5h0M826.5 1313h0M828.5 1311.5h0M863 1306.5h0M869.5 1306.5h0M871.5 1299.5h0M873.5 1300.5h0M877.5 1300h0M898 1289.5h0M910.5 1298h0M920.5 1287.5h0M935 1287.5h0M949 1277.5h0M951 1286h0M957.5 1279.5h0M978 1274.5h0M980 1269h0M982 1277h0M992 1269.5h0M994 1292.5h0M996.5 1262.5h0M1004.5 1259.5h0M1017 1269.5h0M1029 1256.5h0M1035 1242h0M1043.5 1242h0M1045.5 1244.5h0M1047.5 1247.5h0M1049.5 1237.5h0M1055.5 1231h0M1082.5 1215h0M1084.5 1215h0M1088.5 1216.5h0M1090.5 1214.5h0M1092.5 1203.5h0M1096.5 1208.5h0M1107 1196.5h0M1109 1190h0M1111 1187h0M1125.5 1172h0M1127.5 1174.5h0M1137.5 1164.5h0M1139.5 1166h0M1141.5 1165h0M1143.5 1145h0M1150 1145.5h0M1152 1141.5h0M1154 1144h0M1156 1147.5h0M1160 1138.5h0M1162 1138h0M1176.5 1117h0"/><path stroke="#342696" d="M810 1321h0M812 1326h0M820 1327.5h0M828.5 1320.5h0M832.5 1324h0M838.5 1319h0M887.5 1312.5h0M898 1308h0M900 1323h0M906 1308h0M920.5 1302.5h0M926.5 1299.5h0M928.5 1307h0M937 1293h0M939 1304.5h0M945 1297h0M955.5 1314h0M957.5 1289.5h0M961.5 1309.5h0M963.5 1296h0M965.5 1300.5h0M969.5 1288.5h0M971.5 1296h0M973.5 1302h0M976 1311.5h0M978 1296.5h0M990 1293.5h0M998.5 1284.5h0M1000.5 1282.5h0M1006.5 1275.5h0M1014.5 1276h0M1019 1270h0M1021 1269.5h0M1039.5 1257.5h0M1045.5 1249.5h0M1060 1253h0M1062 1252.5h0M1068 1252.5h0M1072 1244h0M1074 1250.5h0M1076 1244h0M1080.5 1245.5h0M1082.5 1245h0M1086.5 1237h0M1088.5 1239h0M1113 1211.5h0M1117 1200.5h0M1119 1195.5h0M1121 1195.5h0M1131.5 1185h0M1143.5 1190h0M1146 1161h0M1162 1130.5h0M1164 1137.5h0M1166.5 1132.5h0M1176.5 1111h0M1180.5 1108h0M1197 1081.5h0"/><path stroke="#312692" d="M785.5 1380h0M865 1354.5h0M887.5 1357.5h0M890 1353h0M894 1346.5h0M902 1346.5h0M920.5 1346h0M922.5 1349.5h0M943 1361h0M949 1355h0M951 1361h0M955.5 1357h0M963.5 1356.5h0M967.5 1344.5h0M973.5 1357.5h0M976 1353h0M978 1360h0M982 1346h0M984 1360h0M988 1345.5h0M990 1353.5h0M992 1344.5h0M994 1345h0M996.5 1349.5h0M998.5 1359.5h0M1002.5 1346.5h0M1004.5 1342h0M1012.5 1343.5h0M1014.5 1334.5h0M1017 1343.5h0M1019 1345h0M1021 1341h0M1023 1345h0M1029 1340h0M1031 1338h0M1035 1333h0M1037 1340.5h0M1043.5 1335.5h0M1049.5 1324.5h0M1051.5 1327.5h0M1053.5 1315h0M1057.5 1324.5h0M1060 1319.5h0M1062 1317h0M1066 1329h0M1068 1329.5h0M1070 1309.5h0M1072 1314h0M1074 1317.5h0M1076 1312h0M1078 1320.5h0M1080.5 1299.5h0M1082.5 1312h0M1084.5 1319h0M1086.5 1312h0M1088.5 1305.5h0M1090.5 1304.5h0M1092.5 1299.5h0M1094.5 1291h0M1096.5 1293.5h0M1098.5 1295.5h0M1100.5 1306h0M1103 1308h0M1105 1289h0M1107 1295h0M1109 1295.5h0M1111 1281.5h0M1113 1275.5h0M1115 1267h0M1117 1291.5h0M1119 1259h0M1121 1272h0M1123.5 1265.5h0M1125.5 1278h0M1127.5 1259h0M1129.5 1260h0M1131.5 1260.5h0M1133.5 1253.5h0M1135.5 1252h0M1137.5 1244h0M1139.5 1250h0M1141.5 1248h0M1143.5 1240.5h0M1146 1225.5h0M1148 1222h0M1150 1239h0M1152 1222h0M1154 1228.5h0M1156 1212h0M1160 1213h0M1162 1211.5h0M1164 1198h0M1166.5 1198h0M1168.5 1206.5h0M1170.5 1180.5h0M1172.5 1177.5h0M1184.5 1147.5h0M1187 1136h0M1189 1131h0M1197 1107h0"/><path stroke="#2e268c" d="M830.5 1322.5h0M836.5 1320h0M840.5 1297.5h0M844.5 1317h0M847 1297h0M855 1314.5h0M861 1309.5h0M865 1311.5h0M867 1314h0M871.5 1309.5h0M877.5 1301.5h0M879.5 1315.5h0M881.5 1310.5h0M883.5 1307.5h0M885.5 1305h0M887.5 1280.5h0M892 1310h0M896 1297.5h0M898 1303.5h0M900 1306.5h0M902 1295h0M904 1312.5h0M906 1302h0M908 1299.5h0M910.5 1314h0M914.5 1299h0M924.5 1298.5h0M926.5 1296h0M928.5 1295h0M930.5 1284.5h0M933 1290.5h0M935 1306.5h0M937 1296h0M941 1286h0M945 1281.5h0M947 1293h0M949 1289h0M953.5 1283.5h0M955.5 1285.5h0M957.5 1296.5h0M959.5 1288.5h0M961.5 1284h0M963.5 1286.5h0M965.5 1281h0M967.5 1293h0M969.5 1292.5h0M973.5 1292h0M976 1290h0M984 1284.5h0M992 1287.5h0M996.5 1280.5h0M998.5 1266.5h0M1000.5 1270h0M1002.5 1287h0M1004.5 1279h0M1008.5 1272.5h0M1010.5 1281h0M1014.5 1272h0M1017 1260h0M1019 1274h0M1021 1284.5h0M1023 1268h0M1025 1260h0M1027 1259.5h0M1033 1265.5h0M1037 1259h0M1039.5 1260h0M1041.5 1266.5h0M1043.5 1260.5h0M1045.5 1263.5h0M1047.5 1251.5h0M1049.5 1264.5h0M1051.5 1254.5h0M1053.5 1251h0M1055.5 1257h0M1057.5 1245.5h0M1062 1252h0M1064 1248h0M1068 1235.5h0M1074 1233.5h0M1080.5 1230.5h0M1082.5 1231h0M1086.5 1234h0M1088.5 1223h0M1090.5 1233.5h0M1092.5 1239.5h0M1096.5 1224h0M1109 1216.5h0M1115 1209h0M1117 1204.5h0M1119 1216.5h0M1121 1211.5h0M1123.5 1203h0M1127.5 1196h0M1139.5 1191h0M1154 1165.5h0"/><path stroke="#2b2688" d="M494.5 1371.5h0M496.5 1391h0M498.5 1357h0M500.5 1370h0M502.5 1370h0M504.5 1372h0M507 1366.5h0M509 1366h0M511 1373.5h0M513 1383.5h0M515 1371.5h0M517 1364h0M519 1351.5h0M521 1369h0M523 1365.5h0M525 1376.5h0M527 1364.5h0M529.5 1353h0M531.5 1371h0M533.5 1360.5h0M535.5 1376.5h0M537.5 1373.5h0M539.5 1367h0M541.5 1364h0M543.5 1361.5h0M545.5 1360.5h0M547.5 1374.5h0M550 1364.5h0M552 1362h0M554 1369.5h0M556 1383.5h0M558 1375.5h0M562 1361h0M566 1373.5h0M568 1372h0M570.5 1368.5h0M574.5 1368.5h0M576.5 1367h0M578.5 1371h0M584.5 1370h0M586.5 1373.5h0M588.5 1351.5h0M590.5 1371.5h0M597 1373.5h0M599 1371h0M603 1363h0M605 1365.5h0M607 1360.5h0M609 1367h0M611 1376h0M613.5 1378.5h0M617.5 1371.5h0M629.5 1372.5h0M631.5 1379.5h0M633.5 1359.5h0M650 1361h0M656.5 1384.5h0M674.5 1376.5h0M677 1386h0M685 1372.5h0M715.5 1380h0M717.5 1365.5h0M722 1371h0M748.5 1382.5h0M752.5 1381.5h0M765 1356.5h0M797.5 1384h0M832.5 1357h0M834.5 1364h0M836.5 1353.5h0M838.5 1362h0M840.5 1359.5h0M857 1361h0M885.5 1353.5h0M896 1361.5h0M898 1352.5h0M900 1354.5h0M902 1356h0M904 1351h0M906 1356h0M908 1355.5h0M910.5 1363h0M914.5 1360h0M916.5 1359.5h0M920.5 1349h0M924.5 1358.5h0M926.5 1352h0M928.5 1348.5h0M930.5 1361.5h0M933 1348h0M935 1356h0M937 1359h0M939 1348.5h0M941 1354h0M949 1351h0M957.5 1355.5h0M961.5 1353h0M963.5 1346h0M965.5 1348h0M967.5 1348.5h0M969.5 1347.5h0M971.5 1355h0M976 1348h0M980 1352h0M986 1342h0M988 1341h0M992 1339.5h0M994 1339h0M996.5 1339h0M998.5 1338h0M1000.5 1342.5h0M1002.5 1339h0M1004.5 1340.5h0M1006.5 1337h0M1008.5 1344.5h0M1010.5 1331h0M1012.5 1337h0M1014.5 1331h0M1017 1332.5h0M1019 1333h0M1021 1329.5h0M1023 1323.5h0M1025 1331.5h0M1027 1324.5h0M1029 1336h0M1031 1330.5h0M1035 1341h0M1037 1320.5h0M1039.5 1332h0M1041.5 1326.5h0M1043.5 1333.5h0M1047.5 1331.5h0M1049.5 1318h0M1051.5 1326h0M1055.5 1319h0M1057.5 1307h0M1060 1313.5h0M1064 1303.5h0M1068 1295h0M1070 1319h0M1074 1295.5h0M1080.5 1291.5h0M1082.5 1286h0M1084.5 1297h0M1086.5 1291h0M1088.5 1291.5h0M1090.5 1294.5h0M1092.5 1289h0M1096.5 1296.5h0M1098.5 1283h0M1100.5 1280h0M1103 1275h0M1105 1272.5h0M1111 1266h0M1113 1261h0M1115 1256h0M1119 1265.5h0M1125.5 1254h0M1127.5 1244.5h0M1131.5 1249h0M1137.5 1240h0M1139.5 1226h0M1141.5 1228.5h0M1148 1220.5h0M1150 1219h0M1162 1182h0M1166.5 1163.5h0M1180.5 1139.5h0M1191 1091.5h0M1197 1083h0"/><path stroke="#282682" d="M543.5 1370h0M545.5 1359h0M547.5 1360h0M550 1364h0M552 1367h0M554 1354h0M556 1370.5h0M560 1372.5h0M562 1376h0M564 1362h0M566 1368h0M570.5 1382h0M572.5 1361h0M574.5 1377.5h0M576.5 1377h0M578.5 1374h0M580.5 1360.5h0M582.5 1364h0M584.5 1366h0M586.5 1366.5h0M588.5 1366h0M590.5 1361h0M593 1368.5h0M595 1374.5h0M599 1357h0M601 1350.5h0M607 1364.5h0M611 1381.5h0M613.5 1364h0M615.5 1376.5h0M617.5 1367h0M619.5 1358.5h0M621.5 1364h0M625.5 1364h0M629.5 1380.5h0M631.5 1365.5h0M633.5 1371h0M636 1364h0M646 1363h0M648 1363.5h0M652 1365h0M654 1391.5h0M666.5 1372h0M668.5 1359.5h0M670.5 1381h0M672.5 1377.5h0M685 1379.5h0M687 1369.5h0M691 1354h0M697 1384.5h0M720 1374.5h0M722 1362.5h0M724 1362h0M726 1363.5h0M728 1368.5h0M732 1361h0M742.5 1379h0M746.5 1361.5h0M752.5 1377h0M754.5 1382.5h0M763 1371.5h0M765 1372.5h0M785.5 1377.5h0M810 1375h0M822 1376h0M832.5 1366h0M838.5 1388.5h0M853 1368h0M857 1382.5h0M863 1377.5h0M867 1362.5h0M869.5 1377h0M871.5 1382.5h0M904 1364.5h0M910.5 1356h0M914.5 1367h0M918.5 1364.5h0M935 1359h0M937 1364h0M951 1381h0M994 1390.5h0M1021 1395h0M1035 1367h0M1037 1370.5h0M1039.5 1389h0M1045.5 1386.5h0M1060 1366.5h0M1064 1368.5h0M1070 1364h0M1084.5 1375h0M1088.5 1390h0M1117 1364.5h0M1133.5 1410.5h0M1146 1402h0M1191 1414h0M1197 1400.5h0"/><path stroke="#25257c" d="M789.5 1319h0M791.5 1307.5h0M793.5 1287.5h0M795.5 1300.5h0M797.5 1298.5h0M799.5 1301h0M801.5 1317h0M803.5 1308.5h0M806 1320h0M808 1302h0M810 1306h0M812 1299.5h0M820 1303.5h0M822 1298.5h0M824 1296.5h0M826.5 1309h0M828.5 1283.5h0M830.5 1293.5h0M832.5 1308.5h0M834.5 1280h0M836.5 1293.5h0M838.5 1284h0M840.5 1292h0M842.5 1308h0M844.5 1293.5h0M847 1293.5h0M849 1282.5h0M851 1292h0M853 1296.5h0M855 1284.5h0M857 1301h0M861 1287.5h0M863 1293.5h0M865 1296h0M867 1295.5h0M869.5 1289.5h0M871.5 1291.5h0M873.5 1287h0M875.5 1266h0M877.5 1288h0M879.5 1297h0M881.5 1297.5h0M883.5 1290.5h0M885.5 1290.5h0M887.5 1273h0M890 1294.5h0M892 1286.5h0M894 1292h0M896 1272h0M898 1279.5h0M900 1281h0M902 1276.5h0M904 1295.5h0M906 1271.5h0M908 1281.5h0M910.5 1281.5h0M912.5 1273.5h0M914.5 1285.5h0M916.5 1282h0M918.5 1283.5h0M920.5 1275h0M922.5 1286h0M924.5 1270h0M926.5 1287.5h0M928.5 1288h0M930.5 1276h0M933 1273.5h0M935 1277.5h0M937 1278h0M939 1282.5h0M941 1276.5h0M943 1273h0M945 1277.5h0M947 1276.5h0M949 1276.5h0M951 1273.5h0M953.5 1272.5h0M955.5 1269.5h0M957.5 1276h0M959.5 1272h0M961.5 1252.5h0M963.5 1274.5h0M965.5 1266h0M967.5 1262.5h0M969.5 1264h0M971.5 1273h0M973.5 1264.5h0M976 1266.5h0M978 1267h0M980 1250.5h0M982 1256.5h0M984 1263.5h0M986 1269.5h0M988 1261.5h0M990 1265h0M992 1252.5h0M994 1258h0M996.5 1246h0M998.5 1270.5h0M1000.5 1248h0M1002.5 1268.5h0M1004.5 1260h0M1006.5 1257.5h0M1008.5 1252.5h0M1010.5 1263.5h0M1012.5 1255h0M1014.5 1249.5h0M1017 1253h0M1019 1252.5h0M1021 1246.5h0M1023 1244.5h0M1025 1249.5h0M1027 1238.5h0M1029 1245h0M1033 1252.5h0M1035 1230h0M1037 1236h0M1039.5 1229h0M1041.5 1250.5h0M1045.5 1234.5h0M1047.5 1223h0M1049.5 1230.5h0M1051.5 1243.5h0M1053.5 1235h0M1055.5 1224h0M1057.5 1213.5h0M1060 1229.5h0M1064 1233h0M1066 1223.5h0M1068 1223h0M1070 1220h0M1074 1220.5h0M1076 1224h0M1078 1205.5h0M1080.5 1217.5h0M1082.5 1221h0M1084.5 1206.5h0M1086.5 1198.5h0M1088.5 1203h0M1090.5 1216.5h0M1092.5 1213.5h0M1094.5 1212h0M1096.5 1203h0M1098.5 1198h0M1100.5 1202h0M1103 1197h0M1105 1199h0M1107 1187.5h0M1109 1197h0M1111 1196.5h0M1113 1204h0M1115 1183.5h0M1121 1196.5h0M1125.5 1189h0M1127.5 1175h0M1131.5 1165.5h0M1135.5 1168h0M1137.5 1183.5h0M1143.5 1167h0M1146 1157.5h0M1148 1163h0M1150 1167h0M1152 1162h0M1164 1143.5h0M1193 1115.5h0M1195 1106h0M1197 1100h0"/><path stroke="#222270" d="M629.5 1380h0M633.5 1376h0M636 1375h0M638 1370h0M640 1377h0M644 1367h0M646 1373h0M648 1384.5h0M650 1368h0M652 1376h0M654 1381h0M656.5 1380.5h0M658.5 1373h0M660.5 1374.5h0M662.5 1365h0M666.5 1380h0M668.5 1366h0M672.5 1376h0M674.5 1371h0M677 1373h0M681 1376.5h0M685 1369.5h0M687 1381h0M691 1366.5h0M693 1365h0M695 1376.5h0M697 1371h0M699.5 1374.5h0M701.5 1371h0M709.5 1367h0M713.5 1367.5h0M717.5 1380h0M720 1377h0M722 1376h0M724 1376h0M726 1379h0M728 1373.5h0M730 1368.5h0M732 1362h0M734 1371h0M736 1379h0M742.5 1382h0M748.5 1371h0M752.5 1379.5h0M756.5 1372.5h0M760.5 1364.5h0M765 1382.5h0M767 1369.5h0M769 1375.5h0M773 1375h0M783.5 1368.5h0M785.5 1366.5h0M791.5 1388.5h0M793.5 1379.5h0M797.5 1381.5h0M799.5 1385h0M803.5 1378.5h0M806 1376.5h0M814 1376.5h0M816 1379h0M820 1376.5h0M822 1375.5h0M824 1374h0M826.5 1362.5h0M830.5 1378.5h0M838.5 1373h0M842.5 1380.5h0M844.5 1384.5h0M847 1382.5h0M849 1381.5h0M851 1386.5h0M853 1370.5h0M855 1384h0M857 1369h0M859 1360h0M861 1370h0M875.5 1375h0M894 1387.5h0M902 1363h0M906 1366h0M916.5 1359h0M945 1384h0M1010.5 1363h0M1012.5 1371h0M1017 1364.5h0M1029 1369.5h0M1031 1392h0M1037 1387h0M1041.5 1370h0M1045.5 1372h0M1053.5 1393.5h0M1060 1369h0M1066 1392.5h0M1068 1365.5h0M1070 1372.5h0M1090.5 1373.5h0M1092.5 1399h0M1103 1372h0M1111 1375h0M1115 1398h0M1119 1375.5h0M1121 1374h0M1127.5 1376h0M1129.5 1375.5h0M1131.5 1362h0M1133.5 1380h0M1148 1380.5h0M1152 1374.5h0M1158 1377h0M1168.5 1372.5h0M1170.5 1388.5h0M1180.5 1389h0M1189 1376h0M1193 1383.5h0M1197 1405h0"/><path stroke="#1e1e64" d="M742.5 1354.5h0M758.5 1364h0M763 1348.5h0M767 1348h0M769 1358h0M773 1350h0M779 1348h0M781 1344.5h0M793.5 1337.5h0M806 1338h0M812 1356h0M816 1343h0M824 1359.5h0M832.5 1353h0M834.5 1350h0M838.5 1350h0M840.5 1343.5h0M847 1355h0M849 1356.5h0M851 1347.5h0M853 1353.5h0M865 1350h0M867 1356h0M871.5 1348h0M892 1351.5h0M894 1355.5h0M898 1343.5h0M902 1353.5h0M904 1343h0M910.5 1347.5h0M912.5 1346.5h0M914.5 1348h0M920.5 1340h0M922.5 1353h0M926.5 1340h0M928.5 1342.5h0M943 1344h0M949 1347h0M967.5 1336h0M971.5 1333h0M973.5 1340h0M976 1337.5h0M978 1343.5h0M992 1331.5h0M994 1340.5h0M996.5 1320.5h0M1002.5 1324h0M1012.5 1325h0M1014.5 1328.5h0M1017 1308.5h0M1019 1308h0M1023 1340h0M1025 1319h0M1027 1313.5h0M1029 1324h0M1031 1319h0M1033 1327h0M1035 1305h0M1039.5 1319h0M1041.5 1310h0M1047.5 1303.5h0M1049.5 1308.5h0M1057.5 1301h0M1062 1308.5h0M1064 1315.5h0M1066 1300.5h0M1068 1292h0M1070 1301h0M1072 1275h0M1074 1288.5h0M1078 1298h0M1082.5 1282.5h0M1088.5 1288.5h0M1098.5 1262h0M1100.5 1273.5h0M1103 1265.5h0M1113 1265h0M1119 1241.5h0M1125.5 1253h0M1127.5 1241h0M1129.5 1239.5h0M1131.5 1238h0M1135.5 1219h0M1137.5 1230h0M1139.5 1218h0M1148 1217h0M1152 1212.5h0M1154 1205h0M1156 1194.5h0M1158 1189.5h0M1160 1202h0M1164 1187.5h0M1166.5 1185.5h0M1168.5 1172h0M1170.5 1180h0M1174.5 1157h0M1176.5 1169h0M1178.5 1166h0M1180.5 1161.5h0M1182.5 1154.5h0M1184.5 1134.5h0M1187 1129.5h0M1189 1125h0M1191 1122h0M1193 1128.5h0M1195 1114h0M1197 1109h0"/><path stroke="#1c1c5c" d="M881.5 1355.5h0M883.5 1362h0M885.5 1370.5h0M908 1365.5h0M916.5 1356h0M918.5 1387.5h0M926.5 1356h0M928.5 1368h0M935 1366h0M941 1386h0M949 1367h0M953.5 1370h0M955.5 1371.5h0M957.5 1367h0M967.5 1363.5h0M971.5 1364.5h0M976 1375.5h0M978 1370.5h0M980 1386h0M982 1371.5h0M990 1366.5h0M996.5 1368.5h0M1019 1387h0M1023 1396h0M1025 1373h0M1031 1372h0M1055.5 1390h0M1070 1374h0M1076 1374.5h0M1078 1372h0M1082.5 1370h0M1084.5 1378h0M1088.5 1362.5h0M1103 1373.5h0M1105 1402.5h0M1109 1391h0M1119 1394h0M1135.5 1380.5h0M1137.5 1384.5h0M1141.5 1399h0M1150 1388.5h0M1166.5 1381.5h0M1168.5 1388h0M1172.5 1391h0M1174.5 1393h0M1176.5 1392h0M1180.5 1408h0M1189 1391h0M1195 1394.5h0M1197 1406h0"/><path stroke="#181850" d="M619.5 1370h0M621.5 1377.5h0M623.5 1372h0M625.5 1352.5h0M627.5 1359.5h0M629.5 1366h0M631.5 1379h0M633.5 1367.5h0M636 1367h0M638 1365.5h0M640 1374.5h0M642 1370.5h0M644 1373h0M646 1371.5h0M648 1381h0M650 1369.5h0M652 1371h0M654 1370.5h0M656.5 1364h0M658.5 1357.5h0M660.5 1378.5h0M662.5 1368.5h0M664.5 1374h0M666.5 1369h0M668.5 1367.5h0M670.5 1363.5h0M672.5 1361h0M674.5 1367.5h0M677 1374h0M679 1370.5h0M683 1367.5h0M685 1361.5h0M687 1363h0M689 1362.5h0M691 1382.5h0M693 1359.5h0M695 1365.5h0M697 1378h0M699.5 1363h0M701.5 1369h0M703.5 1372.5h0M705.5 1377h0M709.5 1379h0M711.5 1390.5h0M713.5 1361.5h0M715.5 1374.5h0M717.5 1377.5h0M722 1367.5h0M724 1369.5h0M726 1372.5h0M728 1377.5h0M730 1370.5h0M732 1367.5h0M734 1359h0M736 1371.5h0M738 1364.5h0M740.5 1361h0M742.5 1373h0M744.5 1377.5h0M746.5 1365.5h0M748.5 1367.5h0M750.5 1366.5h0M752.5 1368h0M754.5 1375.5h0M756.5 1373.5h0M758.5 1378h0M760.5 1377.5h0M763 1361h0M767 1381.5h0M769 1375h0M771 1371h0M773 1364h0M775 1367h0M777 1377h0M779 1384h0M781 1376h0M783.5 1364.5h0M785.5 1361.5h0M787.5 1372h0M789.5 1379h0M791.5 1375h0M793.5 1372h0M795.5 1378.5h0M797.5 1372.5h0M799.5 1375h0M803.5 1368h0M806 1369.5h0M808 1366.5h0M810 1360h0M812 1372h0M816 1361.5h0M818 1375.5h0M820 1372h0M822 1355.5h0M824 1365.5h0M826.5 1374h0M828.5 1369.5h0M832.5 1380h0M834.5 1376h0M836.5 1365h0M842.5 1368.5h0M844.5 1373h0M847 1371.5h0M849 1374.5h0M853 1380.5h0M855 1376h0M857 1378.5h0M859 1387h0M861 1375.5h0M863 1375h0M869.5 1375.5h0M871.5 1368h0M873.5 1361.5h0M877.5 1361.5h0M879.5 1358h0M881.5 1378.5h0M883.5 1365h0M885.5 1384.5h0M904 1385h0M908 1371.5h0M912.5 1369.5h0M914.5 1379.5h0M916.5 1377.5h0M918.5 1366.5h0M926.5 1364h0M930.5 1371h0M935 1382h0M939 1374.5h0M941 1389.5h0M943 1367.5h0M945 1375.5h0M947 1359.5h0M951 1374h0M955.5 1349h0M957.5 1386h0M965.5 1359h0M967.5 1376h0M969.5 1391h0M980 1364.5h0M982 1371h0M984 1383.5h0M986 1374h0M988 1370.5h0M992 1368.5h0M996.5 1374.5h0M1000.5 1360h0M1002.5 1386h0M1012.5 1384h0M1017 1379h0M1019 1372h0M1023 1385h0M1033 1374.5h0M1037 1377.5h0M1039.5 1383h0M1041.5 1372h0M1043.5 1376.5h0M1047.5 1371h0M1051.5 1389h0M1055.5 1387h0M1057.5 1371.5h0M1060 1372.5h0M1062 1388h0M1064 1373.5h0M1074 1386.5h0M1082.5 1406.5h0M1086.5 1383h0M1088.5 1398.5h0M1092.5 1385h0M1096.5 1396h0M1098.5 1391h0M1100.5 1392h0M1107 1384h0M1109 1385h0M1113 1391.5h0M1121 1385.5h0M1125.5 1379.5h0M1129.5 1380h0M1133.5 1385.5h0M1135.5 1401h0M1139.5 1381h0M1141.5 1377h0M1150 1389.5h0M1152 1383h0M1154 1390h0M1164 1394h0M1168.5 1391h0M1170.5 1398h0M1176.5 1385.5h0M1178.5 1395h0M1180.5 1415h0M1182.5 1392h0M1189 1401.5h0M1191 1410.5h0M1195 1393h0M1197 1408.5h0"/><path stroke="#161648" d="M605 1357h0M607 1356h0M609 1348h0M613.5 1346.5h0M617.5 1345.5h0M619.5 1337.5h0M621.5 1341h0M623.5 1341.5h0M627.5 1367h0M629.5 1354.5h0M633.5 1348.5h0M638 1343h0M648 1341h0M650 1353.5h0M654 1350h0M664.5 1343h0M666.5 1346h0M672.5 1334h0M674.5 1345h0M677 1362.5h0M679 1345.5h0M681 1342.5h0M685 1343.5h0M695 1338.5h0M697 1345h0M699.5 1340h0M701.5 1350.5h0M703.5 1353h0M705.5 1353.5h0M707.5 1352.5h0M709.5 1347h0M713.5 1350h0M726 1341.5h0M736 1356.5h0M738 1337.5h0M746.5 1352.5h0M758.5 1355h0M765 1366h0M779 1335.5h0M781 1338h0M785.5 1336h0M787.5 1335.5h0M806 1344.5h0M814 1354h0M816 1345.5h0M818 1350.5h0M830.5 1354h0M838.5 1342h0M840.5 1333h0M842.5 1350.5h0M847 1336.5h0M851 1355h0M853 1359h0M855 1358h0M861 1346h0M863 1328.5h0M867 1354h0M869.5 1345.5h0M871.5 1343.5h0M873.5 1343h0M875.5 1353.5h0M877.5 1343h0M879.5 1350.5h0M881.5 1345h0M883.5 1347.5h0M885.5 1350.5h0M890 1331.5h0M906 1344h0M910.5 1339h0M914.5 1332h0M916.5 1340.5h0M918.5 1345.5h0M922.5 1337h0M924.5 1351h0M926.5 1337h0M928.5 1339.5h0M930.5 1332h0M933 1337h0M935 1345.5h0M941 1340h0M943 1337.5h0M949 1324.5h0M951 1333h0M953.5 1342h0M955.5 1335.5h0M959.5 1328.5h0M961.5 1343.5h0M963.5 1331.5h0M965.5 1341h0M967.5 1326.5h0M969.5 1337h0M971.5 1326.5h0M973.5 1321.5h0M976 1342.5h0M978 1335.5h0M984 1330h0M986 1321.5h0M988 1324h0M990 1329h0M992 1330.5h0M994 1317.5h0M996.5 1329.5h0M998.5 1316.5h0M1000.5 1314.5h0M1002.5 1334h0M1004.5 1327h0M1010.5 1321.5h0M1012.5 1321.5h0M1014.5 1325h0M1017 1329h0M1021 1322.5h0M1023 1321.5h0M1027 1309.5h0M1029 1314h0M1031 1318h0M1033 1312h0M1035 1317h0M1037 1314.5h0M1039.5 1303h0M1043.5 1308.5h0M1045.5 1316.5h0M1047.5 1318.5h0M1051.5 1299.5h0M1053.5 1298h0M1055.5 1306h0M1057.5 1304.5h0M1060 1293h0M1062 1292h0M1064 1300.5h0M1066 1288.5h0M1070 1286.5h0M1072 1307.5h0M1074 1286h0M1076 1293.5h0M1078 1277.5h0M1080.5 1294h0M1082.5 1281.5h0M1084.5 1276.5h0M1088.5 1279.5h0M1090.5 1263.5h0M1092.5 1279h0M1096.5 1279h0M1098.5 1271.5h0M1103 1255h0M1105 1262h0M1107 1271.5h0M1109 1264h0M1111 1256h0M1113 1259h0M1115 1251h0M1119 1248h0M1123.5 1246h0M1125.5 1228.5h0M1127.5 1235.5h0M1131.5 1227h0M1133.5 1236h0M1135.5 1236.5h0M1139.5 1211h0M1141.5 1210h0M1143.5 1209h0M1146 1196.5h0M1148 1206h0M1150 1188.5h0M1152 1198.5h0M1156 1185.5h0M1158 1189h0M1160 1176.5h0M1162 1183h0M1164 1170.5h0M1166.5 1166.5h0M1168.5 1161h0M1170.5 1165.5h0M1176.5 1146h0M1182.5 1136.5h0M1189 1106h0M1197 1435.5h0"/><path stroke="#12123c" d="M195.5 1350.5h0M197.5 1337.5h0M199.5 1336.5h0M201.5 1348h0M203.5 1342.5h0M205.5 1345h0M207.5 1346.5h0M210 1354h0M212 1344.5h0M214 1356.5h0M216 1336h0M218 1349.5h0M220 1341.5h0M222 1339h0M224 1352.5h0M226 1348h0M228 1354.5h0M230 1342h0M232.5 1338.5h0M234.5 1347h0M236.5 1367h0M238.5 1336h0M240.5 1363.5h0M242.5 1351h0M244.5 1345h0M246.5 1366h0M248.5 1348.5h0M250.5 1348.5h0M253 1347.5h0M255 1355.5h0M257 1335h0M259 1342h0M261 1350.5h0M263 1355.5h0M265 1322.5h0M267 1364.5h0M269 1356.5h0M271 1373.5h0M273.5 1365.5h0M275.5 1341.5h0M277.5 1340h0M279.5 1347h0M281.5 1353.5h0M283.5 1358.5h0M285.5 1342.5h0M287.5 1352h0M289.5 1339.5h0M291.5 1335h0M293.5 1341h0M296 1361h0M298 1340.5h0M300 1355h0M302 1343h0M304 1344h0M306 1337.5h0M308 1342h0M310 1352h0M312 1356.5h0M314 1344.5h0M316.5 1339.5h0M318.5 1333h0M320.5 1348.5h0M322.5 1340.5h0M324.5 1328.5h0M326.5 1358.5h0M328.5 1358h0M330.5 1349.5h0M332.5 1353.5h0M334.5 1360.5h0M337 1354.5h0M339 1360h0M341 1343.5h0M343 1352.5h0M345 1349h0M347 1356h0M349 1349.5h0M351 1348h0M353 1347h0M355 1344.5h0M357 1356h0M359.5 1346h0M361.5 1364h0M363.5 1339h0M365.5 1346.5h0M367.5 1344.5h0M369.5 1357.5h0M371.5 1350h0M373.5 1354h0M375.5 1352h0M377.5 1341.5h0M380 1344.5h0M382 1361.5h0M384 1364.5h0M386 1343h0M388 1337h0M390 1361.5h0M392 1342.5h0M394 1369.5h0M396 1359.5h0M398 1348h0M400.5 1350.5h0M402.5 1361h0M404.5 1352.5h0M406.5 1353h0M408.5 1350.5h0M410.5 1354h0M412.5 1339h0M414.5 1355.5h0M416.5 1351h0M418.5 1350h0M420.5 1351h0M423 1360h0M425 1334.5h0M427 1344.5h0M429 1353h0M431 1346.5h0M433 1344h0M435 1341.5h0M437 1351h0M439 1351.5h0M441 1344.5h0M443.5 1332h0M445.5 1356.5h0M447.5 1355h0M449.5 1346.5h0M451.5 1349.5h0M453.5 1351.5h0M455.5 1349.5h0M457.5 1337h0M459.5 1351h0M461.5 1354.5h0M463.5 1346.5h0M466 1352h0M468 1343h0M470 1372.5h0M472 1363h0M474 1358.5h0M476 1355h0M478 1348h0M480 1342.5h0M482 1341.5h0M484 1343.5h0M486.5 1354h0M488.5 1355.5h0M490.5 1354.5h0M492.5 1356.5h0M494.5 1352h0M496.5 1339h0M498.5 1356h0M500.5 1333.5h0M502.5 1348h0M504.5 1355h0M507 1349.5h0M509 1339.5h0M511 1353.5h0M513 1354.5h0M515 1342.5h0M517 1344h0M519 1335h0M521 1339h0M523 1358h0M525 1355.5h0M527 1352.5h0M529.5 1359.5h0M533.5 1345h0M535.5 1331.5h0M539.5 1343.5h0M541.5 1358h0M543.5 1348h0M545.5 1345.5h0M547.5 1317.5h0M550 1362h0M552 1356.5h0M554 1356h0M556 1349.5h0M558 1350.5h0M560 1337.5h0M562 1349.5h0M564 1347h0M566 1358h0M568 1352h0M570.5 1359h0M572.5 1340.5h0M574.5 1338h0M576.5 1355.5h0M578.5 1365h0M582.5 1347.5h0M584.5 1345.5h0M588.5 1343h0M590.5 1349.5h0M593 1341.5h0M595 1356.5h0M597 1362.5h0M599 1355h0M601 1342.5h0M603 1340.5h0M605 1350h0M607 1354.5h0M609 1341h0M611 1360.5h0M613.5 1360h0M617.5 1335h0M621.5 1365.5h0M625.5 1353.5h0M627.5 1344h0M629.5 1343.5h0M631.5 1351.5h0M636 1347.5h0M638 1362h0M640 1347h0M642 1353.5h0M644 1355h0M646 1356h0M648 1348.5h0M650 1345h0M652 1337.5h0M654 1348.5h0M656.5 1343.5h0M658.5 1348h0M660.5 1360h0M662.5 1352.5h0M664.5 1355h0M666.5 1341.5h0M668.5 1349h0M670.5 1351.5h0M672.5 1342h0M674.5 1359h0M677 1360h0M679 1357.5h0M681 1354.5h0M685 1357h0M687 1353h0M689 1341.5h0M691 1347h0M695 1353h0M697 1353.5h0M699.5 1334.5h0M701.5 1362h0M703.5 1355h0M707.5 1341.5h0M709.5 1357.5h0M711.5 1361h0M713.5 1353h0M715.5 1330.5h0M717.5 1346h0M720 1357h0M722 1338h0M724 1354h0M726 1347h0M730 1342.5h0M732 1331.5h0M738 1369h0M750.5 1332.5h0M754.5 1367.5h0M769 1344.5h0M775 1334h0M777 1353h0M779 1356h0M781 1357.5h0M787.5 1357.5h0M793.5 1356.5h0M795.5 1346h0M797.5 1354h0M799.5 1361h0M801.5 1338.5h0M803.5 1354.5h0M806 1347h0M808 1347h0M810 1352h0M812 1350.5h0M814 1359h0M816 1348.5h0M818 1344.5h0M820 1351.5h0M822 1342h0M824 1345.5h0M830.5 1340h0M836.5 1341h0M838.5 1335h0M840.5 1341h0M842.5 1362h0M844.5 1346.5h0M847 1347h0M849 1334.5h0M851 1341.5h0M853 1333h0M855 1336.5h0M857 1345h0M859 1351h0M861 1353.5h0M865 1345h0M867 1345h0M869.5 1338h0M871.5 1356h0M873.5 1351h0M875.5 1342h0M877.5 1336.5h0M879.5 1338.5h0M881.5 1339h0M883.5 1342h0M885.5 1337.5h0M887.5 1328.5h0M890 1350.5h0M892 1331h0M898 1333h0M900 1342h0M902 1338h0M906 1331h0M910.5 1343.5h0M912.5 1338.5h0M916.5 1344.5h0M918.5 1354.5h0M920.5 1312.5h0M924.5 1320h0M926.5 1334.5h0M928.5 1328.5h0M930.5 1345.5h0M933 1340.5h0M935 1341.5h0M937 1334.5h0M939 1330.5h0M941 1335.5h0M943 1336h0M945 1329.5h0M947 1330h0M949 1340h0M951 1337.5h0M953.5 1353h0M955.5 1337.5h0M957.5 1333.5h0M959.5 1330.5h0M961.5 1332h0M963.5 1353h0M965.5 1329.5h0M967.5 1321.5h0M969.5 1327h0M971.5 1324h0M973.5 1323.5h0M976 1310h0M978 1333.5h0M980 1328.5h0M982 1324h0M984 1337h0M986 1337h0M988 1320h0M992 1326h0M994 1308h0M996.5 1312h0M998.5 1321.5h0M1000.5 1336h0M1002.5 1315.5h0M1004.5 1321.5h0M1006.5 1320.5h0M1008.5 1315h0M1010.5 1309h0M1012.5 1319.5h0M1014.5 1318.5h0M1017 1309.5h0M1019 1315h0M1023 1311.5h0M1025 1294h0M1027 1304h0M1029 1321h0M1031 1300h0M1033 1293.5h0M1037 1302h0M1041.5 1298.5h0M1043.5 1320.5h0M1045.5 1296.5h0M1047.5 1306h0M1049.5 1296h0M1051.5 1307.5h0M1053.5 1286h0M1055.5 1282.5h0M1057.5 1280.5h0M1060 1291h0M1062 1287h0M1064 1290.5h0M1066 1284.5h0M1068 1281h0M1070 1276.5h0M1072 1279.5h0M1074 1276h0M1076 1285h0M1078 1274.5h0M1082.5 1278.5h0M1086.5 1270h0M1088.5 1264.5h0M1090.5 1275.5h0M1092.5 1269h0M1094.5 1280.5h0M1096.5 1253h0M1098.5 1266h0M1100.5 1268.5h0M1103 1251h0M1105 1252.5h0M1107 1261.5h0M1109 1246h0M1111 1243h0M1113 1253.5h0M1115 1240.5h0M1117 1246.5h0M1119 1233h0M1121 1253.5h0M1123.5 1238h0M1125.5 1226h0M1127.5 1233.5h0M1129.5 1229h0M1131.5 1229h0M1133.5 1221h0M1135.5 1220h0M1137.5 1224.5h0M1139.5 1202.5h0M1141.5 1217.5h0M1143.5 1208.5h0M1146 1215.5h0M1148 1181h0M1150 1176.5h0M1152 1188h0M1154 1195.5h0M1156 1198h0M1158 1181.5h0M1160 1186h0M1164 1174h0M1166.5 1141h0M1168.5 1155.5h0M1170.5 1146.5h0M1172.5 1149h0M1174.5 1160.5h0M1176.5 1130h0M1178.5 1146h0M1184.5 1119h0M1187 1106.5h0M1193 1107h0M1195 1096h0M1197 1101h0"/><path stroke="#0e0e30" d="M406.5 1283.5h0M408.5 1292.5h0M410.5 1285h0M412.5 1297h0M414.5 1294h0M416.5 1316h0M418.5 1307h0M420.5 1310h0M423 1299h0M425 1311h0M427 1299h0M429 1299h0M431 1317.5h0M433 1321.5h0M435 1298h0M437 1297.5h0M439 1298h0M441 1307.5h0M443.5 1320.5h0M445.5 1307.5h0M447.5 1291h0M449.5 1305h0M451.5 1287h0M453.5 1323h0M455.5 1307.5h0M457.5 1283h0M459.5 1307h0M461.5 1297h0M463.5 1289h0M466 1309.5h0M468 1302.5h0M470 1296h0M472 1303h0M474 1283h0M476 1308h0M478 1308.5h0M480 1307h0M482 1304.5h0M484 1295.5h0M486.5 1301.5h0M488.5 1295h0M490.5 1281.5h0M492.5 1306.5h0M494.5 1313h0M496.5 1315h0M498.5 1303h0M500.5 1307.5h0M502.5 1290h0M504.5 1306.5h0M507 1313h0M509 1293h0M511 1304h0M513 1285h0M515 1309.5h0M517 1278.5h0M519 1290.5h0M521 1297h0M523 1292h0M525 1285h0M527 1314h0M529.5 1277h0M531.5 1283h0M533.5 1315h0M535.5 1307h0M537.5 1310.5h0M539.5 1308h0M541.5 1284h0M543.5 1308.5h0M545.5 1297.5h0M547.5 1271.5h0M550 1284.5h0M552 1311.5h0M554 1294.5h0M556 1284h0M558 1280h0M560 1298.5h0M562 1306h0M564 1292.5h0M566 1303h0M568 1318h0M570.5 1300h0M572.5 1297.5h0M574.5 1291.5h0M576.5 1301h0M578.5 1294h0M580.5 1296.5h0M582.5 1291.5h0M584.5 1308.5h0M586.5 1288h0M588.5 1298h0M590.5 1293.5h0M593 1309.5h0M595 1299h0M597 1313h0M599 1283.5h0M601 1292.5h0M603 1298h0M605 1276h0M607 1301h0M609 1291h0M611 1304.5h0M613.5 1292h0M615.5 1305.5h0M617.5 1305h0M619.5 1294.5h0M621.5 1298.5h0M623.5 1303.5h0M625.5 1290h0M627.5 1299.5h0M629.5 1299h0M631.5 1306h0M633.5 1296h0M636 1288h0M638 1320h0M640 1297h0M642 1278.5h0M644 1312.5h0M646 1285.5h0M648 1303.5h0M650 1299.5h0M652 1302h0M654 1312.5h0M656.5 1281.5h0M658.5 1284h0M660.5 1293h0M662.5 1303h0M664.5 1298.5h0M666.5 1312h0M668.5 1312h0M670.5 1266.5h0M672.5 1284h0M674.5 1288.5h0M677 1324h0M679 1269h0M681 1297h0M683 1266.5h0M685 1280.5h0M687 1299.5h0M689 1307h0M691 1278h0M693 1291h0M695 1294h0M697 1302h0M699.5 1287.5h0M701.5 1295h0M703.5 1287h0M705.5 1305h0M707.5 1286h0M709.5 1285h0M711.5 1289h0M713.5 1283.5h0M715.5 1288.5h0M717.5 1282.5h0M720 1275h0M722 1287.5h0M724 1300h0M726 1296h0M728 1286.5h0M730 1296.5h0M732 1302.5h0M734 1278.5h0M736 1296.5h0M738 1280h0M740.5 1289.5h0M742.5 1272.5h0M744.5 1302.5h0M746.5 1293.5h0M748.5 1281.5h0M750.5 1291h0M752.5 1302h0M754.5 1306h0M756.5 1272.5h0M758.5 1280h0M760.5 1280.5h0M763 1290h0M765 1290h0M767 1304.5h0M769 1301.5h0M771 1279h0M773 1277h0M775 1261.5h0M777 1282h0M779 1280h0M781 1281h0M783.5 1286.5h0M785.5 1270.5h0M787.5 1281.5h0M789.5 1277.5h0M791.5 1277h0M793.5 1272.5h0M795.5 1268.5h0M797.5 1273.5h0M799.5 1287.5h0M801.5 1257h0M803.5 1283h0M806 1272h0M808 1270h0M810 1277.5h0M812 1281h0M814 1301.5h0M816 1272.5h0M818 1249h0M820 1272h0M822 1280h0M824 1298h0M826.5 1293h0M828.5 1274.5h0M830.5 1304.5h0M832.5 1274h0M834.5 1249.5h0M836.5 1272h0M838.5 1274.5h0M840.5 1264h0M842.5 1257h0M844.5 1272h0M847 1259.5h0M849 1261.5h0M851 1263.5h0M853 1251h0M855 1272h0M857 1272h0M859 1277h0M861 1274.5h0M863 1278h0M865 1283.5h0M867 1280.5h0M869.5 1267.5h0M871.5 1284.5h0M873.5 1253h0M875.5 1283.5h0M877.5 1258.5h0M879.5 1260.5h0M881.5 1261.5h0M883.5 1250h0M885.5 1266h0M887.5 1268h0M890 1251h0M892 1263.5h0M894 1247.5h0M896 1250h0M898 1265.5h0M900 1254.5h0M902 1273.5h0M904 1252.5h0M906 1258.5h0M908 1244h0M910.5 1241h0M912.5 1260h0M914.5 1256h0M916.5 1266.5h0M918.5 1263.5h0M920.5 1262.5h0M922.5 1239.5h0M924.5 1256.5h0M926.5 1258.5h0M928.5 1268h0M930.5 1239.5h0M933 1260h0M935 1254.5h0M937 1240h0M939 1236h0M941 1268h0M943 1269h0M945 1253.5h0M947 1242.5h0M949 1249.5h0M951 1224h0M953.5 1243.5h0M955.5 1227h0M957.5 1226.5h0M961.5 1245h0M963.5 1223.5h0M965.5 1250h0M967.5 1234h0M969.5 1240h0M971.5 1237.5h0M973.5 1243h0M976 1220.5h0M978 1239h0M980 1218.5h0M982 1215.5h0M984 1222h0M986 1231.5h0M988 1221h0M990 1232h0M992 1241h0M994 1239h0M996.5 1225h0M998.5 1220h0M1000.5 1241h0M1002.5 1231h0M1004.5 1214h0M1006.5 1233.5h0M1008.5 1203h0M1010.5 1211h0M1012.5 1220h0M1014.5 1225.5h0M1017 1222.5h0M1019 1222.5h0M1021 1205h0M1023 1212h0M1025 1208h0M1027 1224.5h0M1029 1209h0M1031 1205.5h0M1033 1203.5h0M1035 1210.5h0M1037 1200.5h0M1039.5 1190.5h0M1041.5 1226h0M1043.5 1230h0M1045.5 1192.5h0M1047.5 1197h0M1049.5 1211.5h0M1051.5 1197h0M1053.5 1214.5h0M1055.5 1204h0M1057.5 1183h0M1060 1197h0M1062 1187h0M1064 1212.5h0M1066 1188h0M1068 1194.5h0M1070 1192.5h0M1072 1198.5h0M1074 1185.5h0M1076 1161h0M1078 1170h0M1080.5 1190.5h0M1082.5 1185.5h0M1084.5 1187.5h0M1086.5 1168.5h0M1088.5 1183.5h0M1090.5 1180.5h0M1092.5 1156.5h0M1094.5 1183.5h0M1096.5 1156h0M1098.5 1178h0M1100.5 1185.5h0M1103 1150h0M1105 1166.5h0M1107 1165.5h0M1109 1172.5h0M1111 1143h0M1113 1168.5h0M1115 1170.5h0M1117 1154h0M1119 1178h0M1121 1151.5h0M1123.5 1161.5h0M1125.5 1155.5h0M1127.5 1144h0M1129.5 1154h0M1131.5 1148.5h0M1133.5 1144h0M1135.5 1138.5h0M1137.5 1144h0M1139.5 1121.5h0M1141.5 1134.5h0M1143.5 1142.5h0M1146 1129h0M1148 1129.5h0M1150 1111.5h0M1152 1121.5h0M1154 1117h0M1156 1132.5h0M1158 1114h0M1160 1113h0M1162 1128.5h0M1164 1098.5h0M1166.5 1126h0M1168.5 1103h0M1170.5 1114h0M1172.5 1083h0M1174.5 1104h0M1176.5 1096.5h0M1178.5 1081.5h0M1180.5 1102h0M1182.5 1089h0M1184.5 1105.5h0M1187 1082.5h0M1189 1076.5h0M1191 1074.5h0M1193 1077h0M1195 1076.5h0M1197 1072.5h0"/><path stroke="#0c0c28" d="M728 1347h0M730 1339h0M732 1343.5h0M736 1340h0M738 1333h0M740.5 1350h0M742.5 1339h0M744.5 1340h0M746.5 1348.5h0M750.5 1339.5h0M752.5 1333h0M754.5 1348h0M756.5 1340.5h0M758.5 1346.5h0M760.5 1338h0M763 1338.5h0M767 1337h0M769 1331h0M771 1335.5h0M773 1336h0M775 1341.5h0M777 1339h0M779 1343.5h0M781 1338.5h0M785.5 1328h0M789.5 1342h0M791.5 1335.5h0M793.5 1350.5h0M795.5 1336h0M797.5 1345h0M799.5 1336h0M801.5 1346h0M803.5 1338h0M806 1351.5h0M808 1331h0M810 1349.5h0M812 1334.5h0M814 1335h0M816 1333h0M818 1337h0M820 1339.5h0M822 1330h0M824 1348.5h0M826.5 1344h0M828.5 1344.5h0M830.5 1336h0M832.5 1347.5h0M834.5 1341h0M836.5 1334.5h0M838.5 1331h0M840.5 1330h0M842.5 1340.5h0M847 1339.5h0M849 1329.5h0M851 1340.5h0M853 1322h0M855 1339h0M857 1342h0M859 1333.5h0M861 1343h0M863 1333.5h0M865 1335h0M867 1333.5h0M869.5 1332.5h0M871.5 1324.5h0M873.5 1341h0M875.5 1329.5h0M879.5 1325.5h0M881.5 1319.5h0M883.5 1320h0M885.5 1320h0M887.5 1338.5h0M890 1327h0M892 1344.5h0M894 1337.5h0M896 1322h0M898 1328.5h0M900 1328h0M902 1315h0M904 1326h0M906 1327.5h0M908 1335.5h0M912.5 1334.5h0M914.5 1335h0M916.5 1328h0M918.5 1322h0M920.5 1328h0M922.5 1335h0M924.5 1330.5h0M926.5 1323.5h0M928.5 1320.5h0M930.5 1323h0M933 1324h0M935 1326h0M939 1321.5h0M941 1323.5h0M943 1315h0M945 1321h0M947 1308h0M949 1311.5h0M951 1317h0M953.5 1328h0M955.5 1316.5h0M957.5 1316h0M959.5 1335.5h0M961.5 1316.5h0M963.5 1312h0M965.5 1319h0M967.5 1308.5h0M969.5 1303h0M971.5 1322h0M976 1309.5h0M978 1307h0M980 1309h0M982 1324.5h0M984 1311.5h0M986 1299h0M988 1309.5h0M990 1306h0M992 1314.5h0M996.5 1298.5h0M998.5 1298.5h0M1000.5 1307h0M1002.5 1292.5h0M1004.5 1293.5h0M1006.5 1310.5h0M1008.5 1305h0M1010.5 1293h0M1012.5 1297.5h0M1014.5 1296.5h0M1017 1284.5h0M1019 1309.5h0M1021 1306h0M1023 1298.5h0M1025 1290.5h0M1027 1296h0M1029 1283.5h0M1031 1295h0M1033 1285.5h0M1035 1287h0M1037 1291h0M1039.5 1295h0M1041.5 1291h0M1043.5 1285h0M1045.5 1278.5h0M1047.5 1284.5h0M1049.5 1289.5h0M1051.5 1289.5h0M1053.5 1278h0M1055.5 1278h0M1060 1285.5h0M1062 1262h0M1064 1272.5h0M1066 1275.5h0M1068 1268.5h0M1074 1258h0M1076 1268.5h0M1078 1259h0M1080.5 1261h0M1082.5 1269h0M1084.5 1260.5h0M1086.5 1267h0M1090.5 1253.5h0M1092.5 1259.5h0M1094.5 1248h0M1096.5 1248.5h0M1098.5 1251h0M1100.5 1233h0M1103 1234h0M1105 1230.5h0M1107 1244h0M1109 1240.5h0M1111 1231h0M1113 1226h0M1115 1239h0M1117 1229.5h0M1119 1222h0M1121 1221.5h0M1123.5 1209h0M1125.5 1218h0M1127.5 1212h0M1129.5 1203h0M1131.5 1213h0M1133.5 1200h0M1137.5 1189.5h0M1139.5 1193.5h0M1141.5 1203h0M1143.5 1198.5h0M1146 1186h0M1148 1185.5h0M1150 1174.5h0M1154 1173h0M1158 1174.5h0M1162 1158.5h0M1164 1168.5h0M1170.5 1138.5h0M1172.5 1153.5h0M1174.5 1153h0M1176.5 1128.5h0M1180.5 1130h0M1182.5 1108.5h0M1184.5 1127h0M1189 1108h0M1191 1095h0M1193 1100.5h0M1195 1094.5h0"/><path stroke="#08081c" d="M584.5 1333.5h0M586.5 1331.5h0M588.5 1327h0M590.5 1322h0M593 1319.5h0M595 1320h0M597 1325h0M599 1326.5h0M601 1326h0M603 1328.5h0M605 1325h0M607 1340h0M609 1331.5h0M611 1325.5h0M613.5 1323.5h0M615.5 1328.5h0M617.5 1331.5h0M619.5 1331.5h0M621.5 1311.5h0M623.5 1334h0M625.5 1313h0M627.5 1326h0M629.5 1317.5h0M631.5 1333h0M633.5 1337h0M636 1324.5h0M638 1330.5h0M640 1317h0M642 1336h0M644 1323h0M646 1313h0M648 1324h0M650 1307h0M652 1333h0M654 1322h0M656.5 1325.5h0M658.5 1320.5h0M660.5 1328.5h0M662.5 1323h0M666.5 1331.5h0M668.5 1326.5h0M670.5 1315.5h0M672.5 1330h0M674.5 1326.5h0M677 1319.5h0M679 1332h0M681 1330h0M683 1323.5h0M685 1317.5h0M687 1336.5h0M691 1322h0M693 1334h0M695 1318h0M699.5 1321.5h0M701.5 1323h0M703.5 1323h0M705.5 1320h0M707.5 1323.5h0M709.5 1326h0M711.5 1320.5h0M713.5 1319.5h0M715.5 1322.5h0M717.5 1330.5h0M720 1321.5h0M722 1307h0M724 1315h0M730 1331h0M732 1322h0M734 1317.5h0M736 1327.5h0M738 1323.5h0M740.5 1333h0M742.5 1327h0M744.5 1316h0M746.5 1322.5h0M748.5 1309.5h0M750.5 1318.5h0M752.5 1320.5h0M754.5 1316.5h0M756.5 1310.5h0M758.5 1299.5h0M760.5 1320h0M763 1327.5h0M765 1324.5h0M767 1315.5h0M769 1324h0M771 1318h0M773 1314.5h0M775 1315h0M777 1313.5h0M779 1320.5h0M781 1321h0M783.5 1322.5h0M785.5 1320h0M787.5 1330.5h0M789.5 1312.5h0M791.5 1310.5h0M793.5 1319h0M795.5 1317h0M797.5 1312.5h0M799.5 1307h0M801.5 1326h0M803.5 1320h0M806 1311h0M808 1300h0M810 1308h0M812 1312h0M814 1309.5h0M816 1306.5h0M818 1314h0M820 1317h0M822 1291.5h0M824 1308.5h0M826.5 1323.5h0M828.5 1306.5h0M830.5 1313.5h0M832.5 1301h0M834.5 1320.5h0M836.5 1302h0M838.5 1311h0M840.5 1314h0M842.5 1312h0M844.5 1304.5h0M847 1312.5h0M849 1299.5h0M851 1307h0M853 1300.5h0M855 1287h0M857 1306.5h0M859 1311.5h0M861 1303h0M863 1292.5h0M865 1301.5h0M867 1302h0M869.5 1298h0M871.5 1303h0M873.5 1313.5h0M875.5 1308.5h0M877.5 1303.5h0M881.5 1307h0M883.5 1305.5h0M885.5 1300h0M887.5 1296.5h0M890 1299.5h0M892 1304h0M894 1302.5h0M896 1303.5h0M898 1294h0M900 1306h0M902 1289h0M904 1314.5h0M906 1288h0M908 1291h0M910.5 1287h0M912.5 1302.5h0M914.5 1292h0M916.5 1306h0M918.5 1294.5h0M920.5 1298.5h0M922.5 1281.5h0M924.5 1314h0M926.5 1294.5h0M928.5 1283.5h0M930.5 1286h0M933 1290h0M935 1273h0M937 1297h0M939 1290h0M941 1282.5h0M943 1301.5h0M945 1291.5h0M947 1280h0M949 1297.5h0M951 1292.5h0M953.5 1294.5h0M955.5 1302h0M957.5 1269h0M959.5 1268.5h0M961.5 1275h0M963.5 1284.5h0M965.5 1288h0M967.5 1281h0M969.5 1276.5h0M971.5 1268h0M973.5 1281h0M976 1283.5h0M978 1279h0M980 1255.5h0M982 1270h0M984 1280h0M986 1276h0M988 1268.5h0M990 1271.5h0M992 1274.5h0M994 1278.5h0M996.5 1272.5h0M1000.5 1265h0M1002.5 1278.5h0M1004.5 1266.5h0M1006.5 1254.5h0M1008.5 1266h0M1010.5 1257.5h0M1012.5 1262.5h0M1014.5 1260.5h0M1017 1272h0M1019 1257.5h0M1021 1252.5h0M1023 1263.5h0M1025 1267.5h0M1027 1260.5h0M1029 1257h0M1031 1249h0M1033 1260h0M1035 1251h0M1037 1238h0M1039.5 1237h0M1041.5 1249.5h0M1043.5 1252.5h0M1045.5 1229.5h0M1047.5 1258.5h0M1049.5 1243.5h0M1051.5 1251h0M1053.5 1242.5h0M1055.5 1242.5h0M1057.5 1237h0M1060 1228h0M1062 1248h0M1064 1240.5h0M1066 1239h0M1068 1229.5h0M1070 1239h0M1072 1224h0M1074 1232h0M1076 1238h0M1078 1227.5h0M1080.5 1229.5h0M1082.5 1219h0M1084.5 1231.5h0M1086.5 1227.5h0M1088.5 1218h0M1090.5 1219h0M1092.5 1226.5h0M1094.5 1214.5h0M1096.5 1216h0M1098.5 1210.5h0M1100.5 1211h0M1103 1214.5h0M1105 1205h0M1107 1216h0M1109 1215.5h0M1111 1198h0M1113 1189.5h0M1115 1188h0M1117 1189h0M1119 1183h0M1121 1179h0M1123.5 1173h0M1125.5 1184.5h0M1127.5 1178.5h0M1129.5 1191h0M1131.5 1186.5h0M1133.5 1174h0M1135.5 1180.5h0M1137.5 1167.5h0M1139.5 1174.5h0M1141.5 1171.5h0M1143.5 1176h0M1146 1163h0M1148 1167h0M1150 1152.5h0M1152 1151h0M1154 1159.5h0M1156 1155.5h0M1158 1142.5h0M1160 1155.5h0M1162 1146.5h0M1164 1146h0M1166.5 1147.5h0M1168.5 1132.5h0M1170.5 1131h0M1172.5 1128.5h0M1174.5 1131h0M1176.5 1139h0M1178.5 1116h0M1180.5 1147h0M1182.5 1093h0M1184.5 1110.5h0M1187 1118h0M1191 1116.5h0M1193 1113.5h0M1195 1092.5h0M1197 1089h0"/><path stroke="#060614" d="M523 1330h0M525 1332h0M527 1327.5h0M529.5 1332h0M531.5 1336.5h0M533.5 1325h0M535.5 1334h0M537.5 1338.5h0M539.5 1351.5h0M541.5 1343h0M543.5 1335h0M545.5 1356.5h0M547.5 1348h0M550 1340.5h0M552 1334.5h0M554 1331h0M556 1344h0M558 1332h0M560 1329h0M562 1345h0M564 1340.5h0M566 1331h0M568 1329h0M570.5 1324.5h0M572.5 1343h0M574.5 1335.5h0M576.5 1353h0M578.5 1344.5h0M580.5 1338.5h0M582.5 1337.5h0M584.5 1341h0M586.5 1336.5h0M588.5 1333.5h0M590.5 1333.5h0M593 1333h0M595 1338h0M597 1332.5h0M599 1336.5h0M601 1332h0M603 1343h0M605 1338h0M607 1353.5h0M609 1349.5h0M611 1334.5h0M613.5 1337.5h0M615.5 1353.5h0M617.5 1354h0M619.5 1347.5h0M621.5 1336h0M623.5 1339.5h0M625.5 1343.5h0M627.5 1341.5h0M629.5 1341.5h0M631.5 1342.5h0M633.5 1338.5h0M636 1343.5h0M638 1330h0M640 1356.5h0M642 1341.5h0M644 1337h0M646 1329h0M648 1334.5h0M650 1323.5h0M652 1337h0M654 1341.5h0M656.5 1340.5h0M658.5 1358.5h0M660.5 1338.5h0M662.5 1332.5h0M664.5 1339h0M666.5 1329.5h0M668.5 1313.5h0M670.5 1327.5h0M672.5 1317.5h0M674.5 1334.5h0M677 1338h0M679 1333.5h0M681 1339h0M683 1334.5h0M685 1335.5h0M687 1325.5h0M689 1328h0M691 1343h0M693 1336.5h0M697 1319h0M699.5 1335h0M701.5 1336.5h0M703.5 1337.5h0M705.5 1339.5h0M707.5 1337h0M709.5 1335h0M711.5 1362.5h0M713.5 1338h0M715.5 1326h0M717.5 1338h0M720 1326h0M722 1337.5h0M724 1323.5h0M726 1325h0M728 1337h0M730 1316h0M732 1327.5h0M734 1344h0M736 1324.5h0M738 1343h0M740.5 1325.5h0M742.5 1330h0M744.5 1341.5h0M746.5 1332.5h0M748.5 1341.5h0M750.5 1343.5h0M752.5 1317h0M754.5 1336.5h0M756.5 1322h0M758.5 1332.5h0M760.5 1334.5h0M763 1329.5h0M765 1327.5h0M767 1342.5h0M769 1325h0M771 1330.5h0M773 1347h0M775 1323h0M777 1328h0M779 1324h0M781 1340h0M783.5 1326.5h0M785.5 1329h0M787.5 1339h0M789.5 1315h0M791.5 1331.5h0M793.5 1325h0M795.5 1311.5h0M797.5 1323h0M799.5 1319.5h0M801.5 1331h0M803.5 1328h0M806 1328.5h0M808 1319h0M810 1330h0M812 1328.5h0M814 1320.5h0M816 1332h0M818 1323h0M820 1309.5h0M822 1322h0M824 1334.5h0M826.5 1325.5h0M828.5 1329.5h0M830.5 1333.5h0M832.5 1314h0M834.5 1342h0M836.5 1311.5h0M838.5 1328h0M840.5 1327.5h0M842.5 1327h0M844.5 1325.5h0M847 1319.5h0M849 1337h0M851 1325h0M853 1316.5h0M855 1329.5h0M857 1323h0M859 1306.5h0M861 1319h0M863 1336.5h0M865 1322.5h0M867 1324.5h0M869.5 1317h0M871.5 1334h0M873.5 1321h0M875.5 1326.5h0M877.5 1312.5h0M879.5 1302.5h0M881.5 1331h0M883.5 1334h0M885.5 1324h0M887.5 1316.5h0M890 1325h0M892 1313.5h0M894 1320h0M896 1302.5h0M898 1315.5h0M900 1333.5h0M902 1337h0M904 1302.5h0M906 1321h0M908 1326.5h0M910.5 1316h0M912.5 1324h0M914.5 1311h0M916.5 1310.5h0M918.5 1317h0M920.5 1294h0M922.5 1300h0M924.5 1308h0M926.5 1308h0M928.5 1312.5h0M930.5 1311h0M933 1300.5h0M935 1316.5h0M937 1311.5h0M939 1303.5h0M941 1328.5h0M943 1314.5h0M945 1302.5h0M947 1317h0M949 1306.5h0M951 1307h0M953.5 1304.5h0M955.5 1303h0M957.5 1303h0M959.5 1298h0M961.5 1304.5h0M963.5 1305h0M965.5 1285.5h0M967.5 1314h0M969.5 1306.5h0M971.5 1304.5h0M973.5 1291h0M976 1301.5h0M978 1289h0M980 1302h0M982 1293h0M984 1299h0M986 1288h0M988 1283.5h0M990 1299.5h0M992 1301.5h0M994 1309.5h0M996.5 1299h0M998.5 1279h0M1000.5 1289h0M1002.5 1304h0M1004.5 1301.5h0M1006.5 1295h0M1008.5 1287h0M1010.5 1298h0M1012.5 1287h0M1014.5 1259.5h0M1017 1270.5h0M1019 1285h0M1021 1277h0M1023 1270.5h0M1025 1278h0M1027 1270.5h0M1029 1280h0M1031 1273h0M1033 1298h0M1035 1279h0M1037 1275.5h0M1039.5 1286.5h0M1041.5 1280h0M1043.5 1271h0M1045.5 1277h0M1047.5 1275.5h0M1049.5 1270.5h0M1051.5 1260h0M1053.5 1264h0M1055.5 1266.5h0M1057.5 1261.5h0M1060 1250h0M1062 1251h0M1064 1241h0M1066 1256h0M1068 1267.5h0M1070 1262h0M1072 1242.5h0M1074 1260h0M1076 1238.5h0M1078 1240h0M1080.5 1245h0M1082.5 1244.5h0M1084.5 1243.5h0M1086.5 1252.5h0M1088.5 1247h0M1090.5 1238.5h0M1092.5 1228.5h0M1094.5 1241.5h0M1096.5 1231h0M1098.5 1222.5h0M1100.5 1224.5h0M1103 1222h0M1105 1225.5h0M1107 1212h0M1109 1226h0M1111 1223h0M1113 1206.5h0M1115 1226.5h0M1117 1206.5h0M1119 1217h0M1121 1188h0M1123.5 1217.5h0M1125.5 1199.5h0M1127.5 1198.5h0M1129.5 1198h0M1131.5 1194.5h0M1133.5 1197.5h0M1135.5 1207.5h0M1137.5 1177.5h0M1139.5 1195.5h0M1141.5 1182h0M1143.5 1177.5h0M1146 1170h0M1148 1165h0M1150 1154.5h0M1152 1175h0M1154 1155.5h0M1156 1150h0M1158 1163.5h0M1160 1155h0M1162 1148.5h0M1164 1153h0M1166.5 1148h0M1168.5 1154h0M1170.5 1127.5h0M1172.5 1123h0M1174.5 1130h0M1176.5 1121.5h0M1178.5 1117h0M1180.5 1122h0M1182.5 1117h0M1184.5 1115h0M1187 1097.5h0M1189 1108.5h0M1191 1114h0M1193 1088.5h0M1195 1074.5h0M1197 1092.5h0"/><path stroke="#020208" d="M687 1366.5h0M689 1346h0M691 1359.5h0M693 1350h0M695 1329h0M697 1350.5h0M699.5 1356.5h0M701.5 1358.5h0M703.5 1362h0M705.5 1357h0M707.5 1363.5h0M709.5 1372h0M711.5 1343.5h0M713.5 1369h0M715.5 1349.5h0M717.5 1350.5h0M720 1341h0M722 1361h0M724 1333h0M726 1349.5h0M728 1352h0M730 1355.5h0M732 1349.5h0M734 1358h0M736 1350h0M738 1352.5h0M740.5 1355h0M742.5 1350.5h0M744.5 1364.5h0M746.5 1342h0M748.5 1362h0M750.5 1359h0M752.5 1354.5h0M754.5 1360.5h0M756.5 1356h0M758.5 1351h0M760.5 1345.5h0M763 1360.5h0M765 1374h0M767 1363h0M769 1372.5h0M771 1355h0M773 1357h0M775 1358h0M777 1370.5h0M779 1363.5h0M781 1352h0M783.5 1345h0M785.5 1351h0M787.5 1356.5h0M789.5 1348h0M791.5 1362.5h0M793.5 1367.5h0M795.5 1369h0M797.5 1368.5h0M799.5 1373h0M801.5 1359h0M803.5 1361.5h0M806 1363h0M808 1373h0M810 1371.5h0M812 1367.5h0M814 1368.5h0M816 1347h0M818 1368h0M820 1367.5h0M822 1359h0M824 1358.5h0M826.5 1356h0M828.5 1371h0M830.5 1353.5h0M832.5 1350.5h0M834.5 1365h0M836.5 1371.5h0M838.5 1367.5h0M840.5 1357h0M842.5 1372h0M844.5 1359h0M847 1364.5h0M849 1375.5h0M851 1361h0M853 1371h0M855 1355.5h0M857 1354h0M859 1365.5h0M861 1376h0M863 1371h0M865 1370.5h0M867 1365.5h0M869.5 1365.5h0M871.5 1382h0M873.5 1367h0M875.5 1374h0M877.5 1369h0M879.5 1365h0M881.5 1373.5h0M883.5 1366h0M885.5 1373h0M887.5 1374.5h0M890 1362.5h0M892 1366h0M894 1371.5h0M896 1364h0M898 1371.5h0M900 1367h0M902 1372h0M904 1351.5h0M906 1375.5h0M910.5 1367h0M912.5 1386h0M914.5 1370h0M918.5 1378.5h0M920.5 1369h0M922.5 1373h0M924.5 1363.5h0M926.5 1390.5h0M928.5 1382.5h0M930.5 1381h0M935 1381h0M937 1382h0M939 1380h0M941 1348h0M945 1380.5h0M947 1380.5h0M949 1376.5h0M951 1378.5h0M953.5 1365.5h0M955.5 1374.5h0M957.5 1392.5h0M959.5 1365.5h0M961.5 1380.5h0M963.5 1370h0M965.5 1375.5h0M967.5 1360.5h0M969.5 1385.5h0M971.5 1380.5h0M973.5 1371.5h0M976 1363h0M978 1367.5h0M980 1353h0M982 1365.5h0M984 1365.5h0M986 1356.5h0M988 1379h0M990 1370.5h0M992 1376.5h0M994 1396.5h0M996.5 1385.5h0M998.5 1364.5h0M1002.5 1385h0M1004.5 1368h0M1006.5 1382.5h0M1008.5 1355.5h0M1010.5 1385h0M1012.5 1378.5h0M1014.5 1364h0M1017 1365h0M1019 1370.5h0M1021 1372.5h0M1023 1377.5h0M1025 1383.5h0M1027 1363h0M1029 1377h0M1031 1365h0M1033 1380.5h0M1035 1397h0M1037 1390h0M1039.5 1371h0M1041.5 1382.5h0M1043.5 1374h0M1045.5 1396.5h0M1047.5 1378.5h0M1049.5 1374.5h0M1051.5 1373h0M1053.5 1385.5h0M1055.5 1375h0M1060 1392h0M1064 1383.5h0M1066 1384h0M1068 1389.5h0M1070 1365.5h0M1074 1363h0M1076 1376.5h0M1078 1383h0M1080.5 1369h0M1082.5 1381h0M1084.5 1378.5h0M1086.5 1368h0M1088.5 1388.5h0M1090.5 1376.5h0M1092.5 1375.5h0M1094.5 1377.5h0M1096.5 1373h0M1098.5 1379h0M1100.5 1381h0M1103 1366.5h0M1105 1368h0M1107 1376h0M1109 1375h0M1111 1381.5h0M1113 1382.5h0M1115 1393h0M1117 1388.5h0M1119 1390.5h0M1121 1365.5h0M1123.5 1383h0M1125.5 1391h0M1127.5 1401h0M1129.5 1386.5h0M1131.5 1391.5h0M1133.5 1389h0M1135.5 1392.5h0M1137.5 1373h0M1141.5 1373.5h0M1143.5 1385h0M1146 1397.5h0M1148 1375.5h0M1150 1371.5h0M1152 1387.5h0M1154 1383h0M1156 1379h0M1158 1386.5h0M1160 1385.5h0M1162 1385h0M1164 1387h0M1166.5 1377h0M1168.5 1410.5h0M1170.5 1379.5h0M1172.5 1409h0M1174.5 1411.5h0M1178.5 1397h0M1180.5 1396h0M1184.5 1403.5h0M1187 1399.5h0M1189 1404.5h0M1193 1391.5h0M1195 1386h0M1197 1389h0"/><path stroke="#000000" d="M887.5 1380.5h0M890 1376h0M892 1367h0M894 1383.5h0M896 1379h0M898 1380h0M900 1386h0M902 1378h0M904 1384h0M906 1383.5h0M908 1377h0M910.5 1377.5h0M912.5 1387.5h0M914.5 1372.5h0M916.5 1372.5h0M918.5 1386.5h0M920.5 1381.5h0M922.5 1386.5h0M924.5 1391h0M926.5 1379h0M928.5 1379h0M930.5 1373h0M933 1368h0M935 1375h0M937 1369h0M939 1383h0M941 1383.5h0M943 1391.5h0M945 1369.5h0M947 1380h0M949 1377h0M951 1377h0M953.5 1376.5h0M955.5 1381h0M957.5 1363.5h0M959.5 1385.5h0M961.5 1374.5h0M963.5 1374h0M965.5 1389.5h0M967.5 1384h0M969.5 1367h0M971.5 1383.5h0M973.5 1380.5h0M976 1382h0M978 1380.5h0M980 1389.5h0M982 1386.5h0M984 1377.5h0M986 1376h0M988 1384.5h0M990 1385h0M992 1388h0M994 1378.5h0M996.5 1361.5h0M998.5 1382.5h0M1000.5 1375h0M1002.5 1379.5h0M1004.5 1369h0M1006.5 1381.5h0M1008.5 1374.5h0M1010.5 1398h0M1012.5 1373h0M1014.5 1371h0M1017 1381.5h0M1019 1382h0M1021 1380.5h0M1023 1378h0M1025 1374.5h0M1027 1386.5h0M1029 1377.5h0M1031 1380.5h0M1033 1385h0M1035 1387h0M1037 1395.5h0M1039.5 1364.5h0M1041.5 1383.5h0M1043.5 1383.5h0M1045.5 1391h0M1047.5 1381.5h0M1049.5 1384.5h0M1051.5 1375h0M1053.5 1376h0M1055.5 1382h0M1057.5 1389h0M1060 1404h0M1062 1378h0M1064 1379.5h0M1066 1372h0M1068 1382.5h0M1070 1384h0M1072 1381.5h0M1074 1394h0M1076 1385.5h0M1078 1392h0M1080.5 1389.5h0M1082.5 1391h0M1084.5 1392.5h0M1086.5 1378.5h0M1088.5 1380.5h0M1090.5 1383h0M1092.5 1389.5h0M1094.5 1373.5h0M1096.5 1389.5h0M1098.5 1385h0M1100.5 1383h0M1103 1396.5h0M1105 1390h0M1107 1378.5h0M1109 1389h0M1111 1370h0M1113 1383.5h0M1115 1387.5h0M1117 1379.5h0M1119 1401.5h0M1121 1394h0M1123.5 1387.5h0M1125.5 1405.5h0M1127.5 1395.5h0M1129.5 1396.5h0M1131.5 1397.5h0M1133.5 1386h0M1135.5 1387.5h0M1137.5 1395.5h0M1139.5 1393h0M1141.5 1392h0M1143.5 1396.5h0M1146 1396h0M1148 1399h0M1150 1389h0M1152 1397.5h0M1154 1401h0M1156 1402.5h0M1158 1393h0M1160 1404.5h0M1162 1396.5h0M1164 1398h0M1166.5 1398h0M1168.5 1414h0M1170.5 1403h0M1172.5 1399h0M1174.5 1402h0M1176.5 1402.5h0M1178.5 1399.5h0M1180.5 1396.5h0M1182.5 1407h0M1184.5 1394.5h0M1187 1412.5h0M1189 1397.5h0M1191 1397.5h0M1193 1409.5h0M1195 1407.5h0M1197 1399h0"/></g>
<rect x="70.4" y="1046" width="1180.5" height="414.3" fill="none" stroke="#1a1a1a" stroke-width="2"/>
<path d="M1197.0 1460.3v8.5M992.2 1460.3v8.5M787.4 1460.3v8.5M582.5 1460.3v8.5M377.7 1460.3v8.5M172.9 1460.3v8.5M70.4 1434.4h-8.5M70.4 1344.2h-8.5M70.4 1253.9h-8.5M70.4 1163.7h-8.5M70.4 1073.4h-8.5" stroke="#1a1a1a" stroke-width="2" fill="none"/>
<g font-family="DejaVu Sans, Liberation Sans, sans-serif" font-size="16.5" fill="#262626">
<text x="1197.0" y="1488.1" text-anchor="middle">0</text>
<text x="992.2" y="1488.1" text-anchor="middle">100</text>
<text x="787.4" y="1488.1" text-anchor="middle">200</text>
<text x="582.5" y="1488.1" text-anchor="middle">300</text>
<text x="377.7" y="1488.1" text-anchor="middle">400</text>
<text x="172.9" y="1488.1" text-anchor="middle">500</text>
<text x="55.0" y="1441.9" text-anchor="end">550</text>
<text x="55.0" y="1351.7" text-anchor="end">555</text>
<text x="55.0" y="1261.4" text-anchor="end">560</text>
<text x="55.0" y="1171.2" text-anchor="end">565</text>
<text x="55.0" y="1080.9" text-anchor="end">570</text>
</g>
<g font-family="DejaVu Sans, Liberation Sans, sans-serif" font-size="18.3" fill="#262626">
<text x="660.7" y="1511.3" text-anchor="middle">RUL</text>
<text transform="translate(14.4 1256.5) rotate(-90)" text-anchor="middle">P30</text>
</g>
<path d="M1185.2 519.3L1183.2 518.2L1181.3 522.8L1179.3 526.2L1177.3 525.8L1175.4 541.2L1173.4 542.1L1171.4 548.0L1169.4 545.1L1167.5 542.7L1165.5 549.4L1163.5 549.4L1161.6 562.1L1159.6 555.5L1157.6 562.2L1155.7 552.6L1153.7 558.5L1151.7 560.4L1149.7 566.8L1147.8 566.0L1145.8 567.9L1143.8 574.4L1141.9 577.1L1139.9 577.6L1137.9 581.9L1136.0 584.0L1134.0 584.8L1132.0 589.0L1130.0 584.5L1128.1 597.2L1126.1 588.6L1124.1 597.2L1122.2 599.0L1120.2 604.8L1118.2 601.6L1116.2 604.2L1114.3 604.4L1112.3 609.8L1110.3 609.2L1108.4 603.6L1106.4 611.7L1104.4 617.8L1102.5 612.6L1100.5 619.2L1098.5 617.7L1096.5 619.3L1094.6 625.6L1092.6 634.3L1090.6 628.8L1088.7 626.4L1086.7 632.4L1084.7 630.3L1082.8 629.6L1080.8 638.3L1078.8 631.8L1076.9 631.7L1074.9 635.5L1072.9 636.3L1070.9 637.9L1069.0 633.8L1067.0 644.6L1065.0 646.7L1063.1 645.2L1061.1 653.4L1059.1 657.7L1057.2 655.8L1055.2 651.2L1053.2 652.0L1051.2 662.7L1049.3 665.5L1047.3 659.4L1045.3 660.1L1043.4 660.5L1041.4 658.0L1039.4 656.3L1037.5 662.0L1035.5 661.1L1033.5 670.1L1031.5 671.4L1029.6 665.6L1027.6 664.5L1025.6 665.2L1023.7 666.7L1021.7 666.7L1019.7 667.5L1017.8 680.8L1015.8 676.8L1013.8 672.0L1011.8 672.3L1009.9 683.4L1007.9 671.3L1005.9 680.1L1004.0 680.0L1002.0 678.5L1000.0 677.1L998.1 688.6L996.1 677.8L994.1 683.1L992.1 688.2L990.2 686.7L988.2 697.0L986.2 690.4L984.3 687.3L982.3 692.6L980.3 691.6L978.4 691.5L976.4 691.3L974.4 687.2L972.4 693.1L970.5 695.1L968.5 691.8L966.5 685.0L964.6 697.7L962.6 694.2L960.6 705.4L958.7 691.5L956.7 695.7L954.7 693.1L952.7 700.8L950.8 706.5L948.8 697.6L946.8 699.0L944.9 707.9L942.9 711.7L940.9 702.7L939.0 706.6L937.0 693.3L935.0 710.4L933.0 710.7L931.1 709.3L929.1 718.0L927.1 714.8L925.2 702.6L923.2 712.4L921.2 715.6L919.2 719.7L917.3 711.0L915.3 711.5L913.3 714.4L911.4 718.7L909.4 716.0L907.4 716.5L905.5 722.8L903.5 717.0L901.5 732.1L899.6 728.7L897.6 724.5L895.6 724.3L893.6 730.2L891.7 722.3L889.7 718.3L887.7 721.3L885.8 722.4L883.8 719.1L881.8 721.1L879.9 729.0L877.9 724.0L875.9 716.0L873.9 728.5L872.0 722.1L870.0 708.8L868.0 727.4L866.1 728.5L864.1 723.1L862.1 722.4L860.2 722.9L858.2 732.5L856.2 726.9L854.2 724.0L852.3 721.3L850.3 723.2L848.3 722.8L846.4 721.8L844.4 723.7L842.4 732.7L840.5 728.6L838.5 733.1L836.5 742.3L834.5 739.0L832.6 719.7L830.6 736.9L828.6 743.0L826.7 734.4L824.7 723.5L822.7 731.9L820.8 729.6L818.8 733.3L816.8 732.5L814.8 725.5L812.9 728.2L810.9 733.0L808.9 728.0L807.0 727.2L805.0 734.1L803.0 731.7L801.1 731.9L799.1 736.9L797.1 727.5L795.1 734.6L793.2 737.1L791.2 742.9L789.2 740.8L787.3 726.3L785.3 740.5L783.3 732.3L781.4 736.7L779.4 732.2L777.4 731.9L775.4 739.3L773.5 736.9L771.5 735.0L769.5 735.1L767.6 736.0L765.6 737.8L763.6 733.1L761.7 729.7L759.7 734.1L757.7 741.2L755.7 735.5L753.8 737.6L751.8 735.7L749.8 728.7L747.9 739.9L745.9 739.1L743.9 744.1L742.0 741.2L740.0 743.0L738.0 731.8L736.0 739.0L734.1 743.9L732.1 730.9L730.1 748.5L728.2 737.2L726.2 736.6L724.2 739.3L722.2 744.0L720.3 743.6L718.3 745.1L716.3 739.4L714.4 756.3L712.4 746.9L710.4 743.6L708.5 747.8L706.5 754.7L704.5 746.6L702.6 749.6L700.6 741.3L698.6 738.2L696.6 745.4L694.7 756.2L692.7 747.0L690.7 751.0L688.8 742.5L686.8 737.2L684.8 744.7L682.9 735.6L680.9 738.5L678.9 742.9L676.9 751.4L675.0 745.7L673.0 754.1L671.0 740.9L669.1 745.9L667.1 739.2L665.1 745.1L663.2 757.1L661.2 743.3L659.2 741.8L657.2 738.0L655.3 752.2L653.3 752.1L651.3 746.9L649.4 753.0L647.4 754.8L645.4 753.4L643.5 733.7L641.5 751.2L639.5 753.4L637.5 750.4L635.6 748.2L633.6 741.3L631.6 743.3L629.7 744.2L627.7 748.4L625.7 747.8L623.8 752.2L621.8 757.0L619.8 738.0L617.8 751.6L615.9 743.7L613.9 751.0L611.9 749.9L610.0 750.3L608.0 757.0L606.0 750.1L604.1 747.7L602.1 745.4L600.1 747.3L598.1 744.6L596.2 748.6L594.2 750.3L592.2 761.1L590.3 753.4L588.3 742.1L586.3 750.0L584.4 746.4L582.4 752.1L580.4 754.7L578.4 739.8L576.5 749.2L574.5 743.1L572.5 748.6L570.6 753.3L568.6 764.3L566.6 751.5L564.7 760.9L562.7 764.8L560.7 745.6L558.7 748.6L556.8 749.2L554.8 752.7L552.8 753.4L550.9 751.0L548.9 752.6L546.9 753.3L545.0 749.6L543.0 768.1L541.0 749.1L539.0 758.0L537.1 749.6L535.1 747.9L533.1 759.8L531.2 750.5L529.2 750.7L527.2 759.6L525.2 758.8L523.3 755.3L521.3 769.2L519.3 759.0L517.4 755.4L515.4 759.3L513.4 766.3L511.5 759.4L509.5 748.3L507.5 749.5L505.6 758.3L503.6 762.5L501.6 758.0L499.6 758.0L497.7 762.3L495.7 760.4L493.7 754.8L491.8 753.1L489.8 773.6L487.8 753.2L485.9 758.4L483.9 752.4L481.9 759.7L479.9 757.1L478.0 749.7L476.0 777.8L474.0 749.9L472.1 758.4L470.1 770.8L468.1 775.9L466.2 757.6L464.2 765.8L462.2 753.2L460.2 758.0L458.3 760.2L456.3 753.1L454.3 758.1L452.4 754.6L450.4 754.0L448.4 757.1L446.5 754.2L444.5 754.1L442.5 767.7L440.5 760.7L438.6 759.7L436.6 761.3L434.6 769.0L432.7 762.5L430.7 756.7L428.7 757.6L426.8 749.0L424.8 762.6L422.8 761.5L420.8 762.3L418.9 760.6L416.9 762.5L414.9 770.6L413.0 756.3L411.0 752.0L409.0 751.1L407.1 765.5L405.1 759.6L403.1 746.2L401.1 759.0L399.2 755.9L397.2 759.2L395.2 751.5L393.3 751.7L391.3 742.7L389.3 754.8L387.4 768.9L385.4 807.6L383.4 802.2L381.4 804.2L379.5 801.6L377.5 808.1L375.5 791.3L373.6 806.4L371.6 797.5L369.6 807.7L367.7 796.9L365.7 788.1L363.7 804.7L361.7 796.7L359.8 799.5L357.8 797.1L355.8 796.2L353.9 803.3L351.9 800.2L349.9 802.9L348.0 804.5L346.0 807.2L344.0 792.2L342.0 803.8L340.1 794.2L338.1 794.9L336.1 805.5L334.2 791.5L332.2 804.5L330.2 794.2L328.2 788.5L326.3 803.4L324.3 804.8L322.3 804.9L320.4 782.5L318.4 800.9L316.4 807.0L314.5 792.6L312.5 799.5L310.5 798.4L308.6 805.1L306.6 813.6L304.6 803.2L302.6 805.4L300.7 809.4L298.7 805.6L296.7 804.6L294.8 792.3L292.8 793.0L290.8 794.3L288.9 801.6L286.9 806.7L284.9 795.7L282.9 794.5L281.0 790.6L279.0 797.9L277.0 798.6L275.1 795.4L273.1 804.2L271.1 803.3L269.2 792.9L267.2 806.4L265.2 798.0L263.2 791.8L261.3 795.7L259.3 794.2L257.3 805.2L255.4 798.1L253.4 799.1L251.4 792.8L249.5 794.1L247.5 796.8L245.5 783.2L243.5 793.0L241.6 798.9L239.6 801.3L237.6 797.0L235.7 800.9L233.7 784.8L231.7 792.5L229.8 798.8L227.8 801.3L225.8 804.3L223.8 798.5L221.9 786.8L219.9 790.2L217.9 866.3L217.9 866.3L219.9 888.6L221.9 883.6L223.8 876.6L225.8 878.1L227.8 868.2L229.8 876.8L231.7 869.8L233.7 878.7L235.7 879.8L237.6 874.2L239.6 880.9L241.6 893.9L243.5 869.7L245.5 874.7L247.5 875.5L249.5 876.4L251.4 877.6L253.4 879.3L255.4 873.6L257.3 870.8L259.3 871.2L261.3 856.4L263.2 884.1L265.2 882.4L267.2 883.4L269.2 877.5L271.1 884.5L273.1 876.8L275.1 880.7L277.0 881.5L279.0 883.8L281.0 879.6L282.9 879.5L284.9 881.7L286.9 876.5L288.9 879.7L290.8 881.5L292.8 869.4L294.8 867.8L296.7 878.3L298.7 886.2L300.7 882.0L302.6 873.2L304.6 879.7L306.6 878.9L308.6 883.4L310.5 881.4L312.5 875.4L314.5 871.6L316.4 880.3L318.4 870.8L320.4 880.9L322.3 871.9L324.3 876.3L326.3 875.6L328.2 883.8L330.2 881.4L332.2 876.3L334.2 873.2L336.1 878.4L338.1 873.8L340.1 871.1L342.0 868.4L344.0 879.0L346.0 882.2L348.0 874.4L349.9 873.1L351.9 879.5L353.9 881.9L355.8 875.8L357.8 891.6L359.8 874.6L361.7 879.5L363.7 881.8L365.7 884.2L367.7 881.3L369.6 867.0L371.6 885.2L373.6 879.4L375.5 880.6L377.5 877.9L379.5 878.9L381.4 888.2L383.4 881.9L385.4 879.8L387.4 875.3L389.3 872.9L391.3 875.6L393.3 875.0L395.2 881.3L397.2 869.5L399.2 882.0L401.1 884.2L403.1 876.5L405.1 867.1L407.1 885.0L409.0 879.5L411.0 884.5L413.0 881.1L414.9 878.5L416.9 884.0L418.9 870.3L420.8 876.2L422.8 872.3L424.8 880.8L426.8 880.0L428.7 886.7L430.7 865.5L432.7 871.7L434.6 880.1L436.6 882.2L438.6 881.2L440.5 873.2L442.5 879.5L444.5 883.5L446.5 887.3L448.4 879.2L450.4 887.9L452.4 870.3L454.3 874.4L456.3 876.8L458.3 886.3L460.2 884.8L462.2 874.7L464.2 873.5L466.2 871.9L468.1 879.7L470.1 877.5L472.1 878.9L474.0 868.7L476.0 877.5L478.0 875.2L479.9 880.8L481.9 876.9L483.9 872.5L485.9 876.2L487.8 873.9L489.8 877.0L491.8 873.1L493.7 879.5L495.7 882.5L497.7 882.7L499.6 871.5L501.6 875.9L503.6 869.2L505.6 880.2L507.5 867.9L509.5 876.9L511.5 876.9L513.4 883.1L515.4 881.1L517.4 878.2L519.3 875.2L521.3 880.4L523.3 876.5L525.2 851.7L527.2 878.0L529.2 881.2L531.2 891.4L533.1 879.4L535.1 875.6L537.1 890.2L539.0 870.4L541.0 875.5L543.0 872.9L545.0 891.3L546.9 876.7L548.9 880.6L550.9 871.2L552.8 871.2L554.8 882.0L556.8 879.9L558.7 886.6L560.7 872.1L562.7 880.1L564.7 885.1L566.6 873.3L568.6 878.6L570.6 870.2L572.5 873.2L574.5 882.2L576.5 875.2L578.4 877.2L580.4 881.3L582.4 879.0L584.4 884.8L586.3 876.8L588.3 874.4L590.3 877.2L592.2 879.4L594.2 876.7L596.2 887.4L598.1 874.6L600.1 880.2L602.1 874.7L604.1 867.8L606.0 872.0L608.0 873.4L610.0 876.5L611.9 875.5L613.9 872.4L615.9 875.0L617.8 881.5L619.8 886.5L621.8 876.7L623.8 877.6L625.7 876.3L627.7 883.7L629.7 878.2L631.6 874.6L633.6 881.7L635.6 878.2L637.5 877.0L639.5 877.6L641.5 884.8L643.5 880.1L645.4 871.8L647.4 879.6L649.4 883.7L651.3 876.2L653.3 877.7L655.3 875.8L657.2 888.6L659.2 866.0L661.2 885.7L663.2 876.9L665.1 869.2L667.1 869.2L669.1 883.3L671.0 891.9L673.0 875.7L675.0 872.3L676.9 877.4L678.9 876.0L680.9 880.1L682.9 887.9L684.8 878.9L686.8 889.8L688.8 871.3L690.7 877.6L692.7 876.9L694.7 878.8L696.6 879.0L698.6 873.5L700.6 877.6L702.6 875.5L704.5 874.2L706.5 882.1L708.5 875.1L710.4 875.3L712.4 882.5L714.4 876.8L716.3 885.4L718.3 876.7L720.3 878.0L722.2 877.1L724.2 874.1L726.2 875.1L728.2 882.6L730.1 872.9L732.1 868.5L734.1 878.5L736.0 883.5L738.0 872.5L740.0 882.6L742.0 889.4L743.9 867.1L745.9 871.7L747.9 869.4L749.8 875.6L751.8 878.8L753.8 872.6L755.7 885.0L757.7 872.4L759.7 876.6L761.7 874.9L763.6 875.8L765.6 878.9L767.6 874.0L769.5 883.0L771.5 877.1L773.5 890.2L775.4 868.3L777.4 881.8L779.4 879.0L781.4 880.7L783.3 878.6L785.3 878.4L787.3 884.6L789.2 881.8L791.2 877.4L793.2 873.7L795.1 885.0L797.1 890.1L799.1 891.6L801.1 883.9L803.0 870.9L805.0 880.5L807.0 884.2L808.9 876.7L810.9 868.6L812.9 876.7L814.8 880.4L816.8 874.2L818.8 875.8L820.8 872.1L822.7 890.6L824.7 885.7L826.7 877.7L828.6 870.4L830.6 875.3L832.6 873.5L834.5 865.6L836.5 874.5L838.5 874.3L840.5 878.0L842.4 885.5L844.4 878.7L846.4 879.6L848.3 877.5L850.3 877.4L852.3 878.5L854.2 886.4L856.2 874.1L858.2 891.3L860.2 874.8L862.1 878.6L864.1 887.9L866.1 889.9L868.0 892.9L870.0 882.3L872.0 866.8L873.9 879.4L875.9 875.7L877.9 864.7L879.9 880.5L881.8 884.6L883.8 877.7L885.8 877.6L887.7 883.2L889.7 879.7L891.7 878.4L893.6 882.9L895.6 879.6L897.6 874.4L899.6 874.2L901.5 879.8L903.5 875.8L905.5 881.5L907.4 869.5L909.4 878.0L911.4 887.2L913.3 877.4L915.3 880.9L917.3 875.0L919.2 884.1L921.2 881.0L923.2 879.3L925.2 875.1L927.1 866.4L929.1 891.5L931.1 881.8L933.0 881.7L935.0 883.6L937.0 880.0L939.0 857.6L940.9 848.9L942.9 850.7L944.9 844.3L946.8 850.5L948.8 851.5L950.8 849.4L952.7 845.2L954.7 850.3L956.7 884.6L958.7 849.0L960.6 844.0L962.6 846.4L964.6 845.9L966.5 845.2L968.5 844.0L970.5 847.3L972.4 845.1L974.4 847.8L976.4 841.1L978.4 847.3L980.3 847.1L982.3 845.6L984.3 848.1L986.2 843.4L988.2 841.4L990.2 844.0L992.1 844.8L994.1 845.1L996.1 847.0L998.1 841.3L1000.0 843.2L1002.0 844.3L1004.0 841.4L1005.9 843.4L1007.9 840.2L1009.9 844.1L1011.8 845.6L1013.8 843.7L1015.8 845.5L1017.8 844.6L1019.7 842.2L1021.7 841.8L1023.7 847.2L1025.6 847.9L1027.6 843.6L1029.6 844.6L1031.5 846.0L1033.5 844.6L1035.5 844.9L1037.5 843.9L1039.4 846.7L1041.4 846.1L1043.4 842.3L1045.3 846.5L1047.3 848.1L1049.3 848.2L1051.2 848.4L1053.2 851.8L1055.2 846.3L1057.2 845.6L1059.1 846.8L1061.1 849.6L1063.1 849.9L1065.0 848.1L1067.0 850.5L1069.0 850.4L1070.9 850.8L1072.9 847.7L1074.9 850.3L1076.9 849.8L1078.8 850.5L1080.8 850.3L1082.8 852.7L1084.7 851.8L1086.7 853.3L1088.7 851.2L1090.6 853.1L1092.6 855.6L1094.6 854.3L1096.5 854.4L1098.5 855.2L1100.5 854.7L1102.5 857.6L1104.4 857.6L1106.4 859.6L1108.4 856.4L1110.3 860.1L1112.3 858.9L1114.3 857.5L1116.2 857.7L1118.2 860.5L1120.2 861.8L1122.2 861.6L1124.1 861.1L1126.1 860.2L1128.1 861.9L1130.0 865.3L1132.0 861.3L1134.0 865.4L1136.0 862.0L1137.9 864.3L1139.9 862.9L1141.9 862.5L1143.8 865.1L1145.8 863.9L1147.8 866.6L1149.7 863.7L1151.7 869.5L1153.7 867.4L1155.7 867.8L1157.6 866.1L1159.6 866.3L1161.6 868.0L1163.5 868.4L1165.5 867.4L1167.5 867.3L1169.4 869.3L1171.4 868.6L1173.4 866.9L1175.4 870.9L1177.3 871.1L1179.3 874.8L1181.3 877.7L1183.2 888.3L1185.2 885.0Z" fill="#f0f0f0" stroke="none"/>
<path d="M1185.2 519.3L1183.2 518.2L1181.3 522.8L1179.3 526.2L1177.3 525.8L1175.4 541.2L1173.4 542.1L1171.4 548.0L1169.4 545.1L1167.5 542.7L1165.5 549.4L1163.5 549.4L1161.6 562.1L1159.6 555.5L1157.6 562.2L1155.7 552.6L1153.7 558.5L1151.7 560.4L1149.7 566.8L1147.8 566.0L1145.8 567.9L1143.8 574.4L1141.9 577.1L1139.9 577.6L1137.9 581.9L1136.0 584.0L1134.0 584.8L1132.0 589.0L1130.0 584.5L1128.1 597.2L1126.1 588.6L1124.1 597.2L1122.2 599.0L1120.2 604.8L1118.2 601.6L1116.2 604.2L1114.3 604.4L1112.3 609.8L1110.3 609.2L1108.4 603.6L1106.4 611.7L1104.4 617.8L1102.5 612.6L1100.5 619.2L1098.5 617.7L1096.5 619.3L1094.6 625.6L1092.6 634.3L1090.6 628.8L1088.7 626.4L1086.7 632.4L1084.7 630.3L1082.8 629.6L1080.8 638.3L1078.8 631.8L1076.9 631.7L1074.9 635.5L1072.9 636.3L1070.9 637.9L1069.0 633.8L1067.0 644.6L1065.0 646.7L1063.1 645.2L1061.1 653.4L1059.1 657.7L1057.2 655.8L1055.2 651.2L1053.2 652.0L1051.2 662.7L1049.3 665.5L1047.3 659.4L1045.3 660.1L1043.4 660.5L1041.4 658.0L1039.4 656.3L1037.5 662.0L1035.5 661.1L1033.5 670.1L1031.5 671.4L1029.6 665.6L1027.6 664.5L1025.6 665.2L1023.7 666.7L1021.7 666.7L1019.7 667.5L1017.8 680.8L1015.8 676.8L1013.8 672.0L1011.8 672.3L1009.9 683.4L1007.9 671.3L1005.9 680.1L1004.0 680.0L1002.0 678.5L1000.0 677.1L998.1 688.6L996.1 677.8L994.1 683.1L992.1 688.2L990.2 686.7L988.2 697.0L986.2 690.4L984.3 687.3L982.3 692.6L980.3 691.6L978.4 691.5L976.4 691.3L974.4 687.2L972.4 693.1L970.5 695.1L968.5 691.8L966.5 685.0L964.6 697.7L962.6 694.2L960.6 705.4L958.7 691.5L956.7 695.7L954.7 693.1L952.7 700.8L950.8 706.5L948.8 697.6L946.8 699.0L944.9 707.9L942.9 711.7L940.9 702.7L939.0 706.6L937.0 693.3L935.0 710.4L933.0 710.7L931.1 709.3L929.1 718.0L927.1 714.8L925.2 702.6L923.2 712.4L921.2 715.6L919.2 719.7L917.3 711.0L915.3 711.5L913.3 714.4L911.4 718.7L909.4 716.0L907.4 716.5L905.5 722.8L903.5 717.0L901.5 732.1L899.6 728.7L897.6 724.5L895.6 724.3L893.6 730.2L891.7 722.3L889.7 718.3L887.7 721.3L885.8 722.4L883.8 719.1L881.8 721.1L879.9 729.0L877.9 724.0L875.9 716.0L873.9 728.5L872.0 722.1L870.0 708.8L868.0 727.4L866.1 728.5L864.1 723.1L862.1 722.4L860.2 722.9L858.2 732.5L856.2 726.9L854.2 724.0L852.3 721.3L850.3 723.2L848.3 722.8L846.4 721.8L844.4 723.7L842.4 732.7L840.5 728.6L838.5 733.1L836.5 742.3L834.5 739.0L832.6 719.7L830.6 736.9L828.6 743.0L826.7 734.4L824.7 723.5L822.7 731.9L820.8 729.6L818.8 733.3L816.8 732.5L814.8 725.5L812.9 728.2L810.9 733.0L808.9 728.0L807.0 727.2L805.0 734.1L803.0 731.7L801.1 731.9L799.1 736.9L797.1 727.5L795.1 734.6L793.2 737.1L791.2 742.9L789.2 740.8L787.3 726.3L785.3 740.5L783.3 732.3L781.4 736.7L779.4 732.2L777.4 731.9L775.4 739.3L773.5 736.9L771.5 735.0L769.5 735.1L767.6 736.0L765.6 737.8L763.6 733.1L761.7 729.7L759.7 734.1L757.7 741.2L755.7 735.5L753.8 737.6L751.8 735.7L749.8 728.7L747.9 739.9L745.9 739.1L743.9 744.1L742.0 741.2L740.0 743.0L738.0 731.8L736.0 739.0L734.1 743.9L732.1 730.9L730.1 748.5L728.2 737.2L726.2 736.6L724.2 739.3L722.2 744.0L720.3 743.6L718.3 745.1L716.3 739.4L714.4 756.3L712.4 746.9L710.4 743.6L708.5 747.8L706.5 754.7L704.5 746.6L702.6 749.6L700.6 741.3L698.6 738.2L696.6 745.4L694.7 756.2L692.7 747.0L690.7 751.0L688.8 742.5L686.8 737.2L684.8 744.7L682.9 735.6L680.9 738.5L678.9 742.9L676.9 751.4L675.0 745.7L673.0 754.1L671.0 740.9L669.1 745.9L667.1 739.2L665.1 745.1L663.2 757.1L661.2 743.3L659.2 741.8L657.2 738.0L655.3 752.2L653.3 752.1L651.3 746.9L649.4 753.0L647.4 754.8L645.4 753.4L643.5 733.7L641.5 751.2L639.5 753.4L637.5 750.4L635.6 748.2L633.6 741.3L631.6 743.3L629.7 744.2L627.7 748.4L625.7 747.8L623.8 752.2L621.8 757.0L619.8 738.0L617.8 751.6L615.9 743.7L613.9 751.0L611.9 749.9L610.0 750.3L608.0 757.0L606.0 750.1L604.1 747.7L602.1 745.4L600.1 747.3L598.1 744.6L596.2 748.6L594.2 750.3L592.2 761.1L590.3 753.4L588.3 742.1L586.3 750.0L584.4 746.4L582.4 752.1L580.4 754.7L578.4 739.8L576.5 749.2L574.5 743.1L572.5 748.6L570.6 753.3L568.6 764.3L566.6 751.5L564.7 760.9L562.7 764.8L560.7 745.6L558.7 748.6L556.8 749.2L554.8 752.7L552.8 753.4L550.9 751.0L548.9 752.6L546.9 753.3L545.0 749.6L543.0 768.1L541.0 749.1L539.0 758.0L537.1 749.6L535.1 747.9L533.1 759.8L531.2 750.5L529.2 750.7L527.2 759.6L525.2 758.8L523.3 755.3L521.3 769.2L519.3 759.0L517.4 755.4L515.4 759.3L513.4 766.3L511.5 759.4L509.5 748.3L507.5 749.5L505.6 758.3L503.6 762.5L501.6 758.0L499.6 758.0L497.7 762.3L495.7 760.4L493.7 754.8L491.8 753.1L489.8 773.6L487.8 753.2L485.9 758.4L483.9 752.4L481.9 759.7L479.9 757.1L478.0 749.7L476.0 777.8L474.0 749.9L472.1 758.4L470.1 770.8L468.1 775.9L466.2 757.6L464.2 765.8L462.2 753.2L460.2 758.0L458.3 760.2L456.3 753.1L454.3 758.1L452.4 754.6L450.4 754.0L448.4 757.1L446.5 754.2L444.5 754.1L442.5 767.7L440.5 760.7L438.6 759.7L436.6 761.3L434.6 769.0L432.7 762.5L430.7 756.7L428.7 757.6L426.8 749.0L424.8 762.6L422.8 761.5L420.8 762.3L418.9 760.6L416.9 762.5L414.9 770.6L413.0 756.3L411.0 752.0L409.0 751.1L407.1 765.5L405.1 759.6L403.1 746.2L401.1 759.0L399.2 755.9L397.2 759.2L395.2 751.5L393.3 751.7L391.3 742.7L389.3 754.8L387.4 768.9L385.4 807.6L383.4 802.2L381.4 804.2L379.5 801.6L377.5 808.1L375.5 791.3L373.6 806.4L371.6 797.5L369.6 807.7L367.7 796.9L365.7 788.1L363.7 804.7L361.7 796.7L359.8 799.5L357.8 797.1L355.8 796.2L353.9 803.3L351.9 800.2L349.9 802.9L348.0 804.5L346.0 807.2L344.0 792.2L342.0 803.8L340.1 794.2L338.1 794.9L336.1 805.5L334.2 791.5L332.2 804.5L330.2 794.2L328.2 788.5L326.3 803.4L324.3 804.8L322.3 804.9L320.4 782.5L318.4 800.9L316.4 807.0L314.5 792.6L312.5 799.5L310.5 798.4L308.6 805.1L306.6 813.6L304.6 803.2L302.6 805.4L300.7 809.4L298.7 805.6L296.7 804.6L294.8 792.3L292.8 793.0L290.8 794.3L288.9 801.6L286.9 806.7L284.9 795.7L282.9 794.5L281.0 790.6L279.0 797.9L277.0 798.6L275.1 795.4L273.1 804.2L271.1 803.3L269.2 792.9L267.2 806.4L265.2 798.0L263.2 791.8L261.3 795.7L259.3 794.2L257.3 805.2L255.4 798.1L253.4 799.1L251.4 792.8L249.5 794.1L247.5 796.8L245.5 783.2L243.5 793.0L241.6 798.9L239.6 801.3L237.6 797.0L235.7 800.9L233.7 784.8L231.7 792.5L229.8 798.8L227.8 801.3L225.8 804.3L223.8 798.5L221.9 786.8L219.9 790.2L217.9 866.3" fill="none" stroke="#f0a5a5" stroke-width="1.2" stroke-linejoin="round"/>
<path d="M1185.2 885.0L1183.2 888.3L1181.3 877.7L1179.3 874.8L1177.3 871.1L1175.4 870.9L1173.4 866.9L1171.4 868.6L1169.4 869.3L1167.5 867.3L1165.5 867.4L1163.5 868.4L1161.6 868.0L1159.6 866.3L1157.6 866.1L1155.7 867.8L1153.7 867.4L1151.7 869.5L1149.7 863.7L1147.8 866.6L1145.8 863.9L1143.8 865.1L1141.9 862.5L1139.9 862.9L1137.9 864.3L1136.0 862.0L1134.0 865.4L1132.0 861.3L1130.0 865.3L1128.1 861.9L1126.1 860.2L1124.1 861.1L1122.2 861.6L1120.2 861.8L1118.2 860.5L1116.2 857.7L1114.3 857.5L1112.3 858.9L1110.3 860.1L1108.4 856.4L1106.4 859.6L1104.4 857.6L1102.5 857.6L1100.5 854.7L1098.5 855.2L1096.5 854.4L1094.6 854.3L1092.6 855.6L1090.6 853.1L1088.7 851.2L1086.7 853.3L1084.7 851.8L1082.8 852.7L1080.8 850.3L1078.8 850.5L1076.9 849.8L1074.9 850.3L1072.9 847.7L1070.9 850.8L1069.0 850.4L1067.0 850.5L1065.0 848.1L1063.1 849.9L1061.1 849.6L1059.1 846.8L1057.2 845.6L1055.2 846.3L1053.2 851.8L1051.2 848.4L1049.3 848.2L1047.3 848.1L1045.3 846.5L1043.4 842.3L1041.4 846.1L1039.4 846.7L1037.5 843.9L1035.5 844.9L1033.5 844.6L1031.5 846.0L1029.6 844.6L1027.6 843.6L1025.6 847.9L1023.7 847.2L1021.7 841.8L1019.7 842.2L1017.8 844.6L1015.8 845.5L1013.8 843.7L1011.8 845.6L1009.9 844.1L1007.9 840.2L1005.9 843.4L1004.0 841.4L1002.0 844.3L1000.0 843.2L998.1 841.3L996.1 847.0L994.1 845.1L992.1 844.8L990.2 844.0L988.2 841.4L986.2 843.4L984.3 848.1L982.3 845.6L980.3 847.1L978.4 847.3L976.4 841.1L974.4 847.8L972.4 845.1L970.5 847.3L968.5 844.0L966.5 845.2L964.6 845.9L962.6 846.4L960.6 844.0L958.7 849.0L956.7 884.6L954.7 850.3L952.7 845.2L950.8 849.4L948.8 851.5L946.8 850.5L944.9 844.3L942.9 850.7L940.9 848.9L939.0 857.6L937.0 880.0L935.0 883.6L933.0 881.7L931.1 881.8L929.1 891.5L927.1 866.4L925.2 875.1L923.2 879.3L921.2 881.0L919.2 884.1L917.3 875.0L915.3 880.9L913.3 877.4L911.4 887.2L909.4 878.0L907.4 869.5L905.5 881.5L903.5 875.8L901.5 879.8L899.6 874.2L897.6 874.4L895.6 879.6L893.6 882.9L891.7 878.4L889.7 879.7L887.7 883.2L885.8 877.6L883.8 877.7L881.8 884.6L879.9 880.5L877.9 864.7L875.9 875.7L873.9 879.4L872.0 866.8L870.0 882.3L868.0 892.9L866.1 889.9L864.1 887.9L862.1 878.6L860.2 874.8L858.2 891.3L856.2 874.1L854.2 886.4L852.3 878.5L850.3 877.4L848.3 877.5L846.4 879.6L844.4 878.7L842.4 885.5L840.5 878.0L838.5 874.3L836.5 874.5L834.5 865.6L832.6 873.5L830.6 875.3L828.6 870.4L826.7 877.7L824.7 885.7L822.7 890.6L820.8 872.1L818.8 875.8L816.8 874.2L814.8 880.4L812.9 876.7L810.9 868.6L808.9 876.7L807.0 884.2L805.0 880.5L803.0 870.9L801.1 883.9L799.1 891.6L797.1 890.1L795.1 885.0L793.2 873.7L791.2 877.4L789.2 881.8L787.3 884.6L785.3 878.4L783.3 878.6L781.4 880.7L779.4 879.0L777.4 881.8L775.4 868.3L773.5 890.2L771.5 877.1L769.5 883.0L767.6 874.0L765.6 878.9L763.6 875.8L761.7 874.9L759.7 876.6L757.7 872.4L755.7 885.0L753.8 872.6L751.8 878.8L749.8 875.6L747.9 869.4L745.9 871.7L743.9 867.1L742.0 889.4L740.0 882.6L738.0 872.5L736.0 883.5L734.1 878.5L732.1 868.5L730.1 872.9L728.2 882.6L726.2 875.1L724.2 874.1L722.2 877.1L720.3 878.0L718.3 876.7L716.3 885.4L714.4 876.8L712.4 882.5L710.4 875.3L708.5 875.1L706.5 882.1L704.5 874.2L702.6 875.5L700.6 877.6L698.6 873.5L696.6 879.0L694.7 878.8L692.7 876.9L690.7 877.6L688.8 871.3L686.8 889.8L684.8 878.9L682.9 887.9L680.9 880.1L678.9 876.0L676.9 877.4L675.0 872.3L673.0 875.7L671.0 891.9L669.1 883.3L667.1 869.2L665.1 869.2L663.2 876.9L661.2 885.7L659.2 866.0L657.2 888.6L655.3 875.8L653.3 877.7L651.3 876.2L649.4 883.7L647.4 879.6L645.4 871.8L643.5 880.1L641.5 884.8L639.5 877.6L637.5 877.0L635.6 878.2L633.6 881.7L631.6 874.6L629.7 878.2L627.7 883.7L625.7 876.3L623.8 877.6L621.8 876.7L619.8 886.5L617.8 881.5L615.9 875.0L613.9 872.4L611.9 875.5L610.0 876.5L608.0 873.4L606.0 872.0L604.1 867.8L602.1 874.7L600.1 880.2L598.1 874.6L596.2 887.4L594.2 876.7L592.2 879.4L590.3 877.2L588.3 874.4L586.3 876.8L584.4 884.8L582.4 879.0L580.4 881.3L578.4 877.2L576.5 875.2L574.5 882.2L572.5 873.2L570.6 870.2L568.6 878.6L566.6 873.3L564.7 885.1L562.7 880.1L560.7 872.1L558.7 886.6L556.8 879.9L554.8 882.0L552.8 871.2L550.9 871.2L548.9 880.6L546.9 876.7L545.0 891.3L543.0 872.9L541.0 875.5L539.0 870.4L537.1 890.2L535.1 875.6L533.1 879.4L531.2 891.4L529.2 881.2L527.2 878.0L525.2 851.7L523.3 876.5L521.3 880.4L519.3 875.2L517.4 878.2L515.4 881.1L513.4 883.1L511.5 876.9L509.5 876.9L507.5 867.9L505.6 880.2L503.6 869.2L501.6 875.9L499.6 871.5L497.7 882.7L495.7 882.5L493.7 879.5L491.8 873.1L489.8 877.0L487.8 873.9L485.9 876.2L483.9 872.5L481.9 876.9L479.9 880.8L478.0 875.2L476.0 877.5L474.0 868.7L472.1 878.9L470.1 877.5L468.1 879.7L466.2 871.9L464.2 873.5L462.2 874.7L460.2 884.8L458.3 886.3L456.3 876.8L454.3 874.4L452.4 870.3L450.4 887.9L448.4 879.2L446.5 887.3L444.5 883.5L442.5 879.5L440.5 873.2L438.6 881.2L436.6 882.2L434.6 880.1L432.7 871.7L430.7 865.5L428.7 886.7L426.8 880.0L424.8 880.8L422.8 872.3L420.8 876.2L418.9 870.3L416.9 884.0L414.9 878.5L413.0 881.1L411.0 884.5L409.0 879.5L407.1 885.0L405.1 867.1L403.1 876.5L401.1 884.2L399.2 882.0L397.2 869.5L395.2 881.3L393.3 875.0L391.3 875.6L389.3 872.9L387.4 875.3L385.4 879.8L383.4 881.9L381.4 888.2L379.5 878.9L377.5 877.9L375.5 880.6L373.6 879.4L371.6 885.2L369.6 867.0L367.7 881.3L365.7 884.2L363.7 881.8L361.7 879.5L359.8 874.6L357.8 891.6L355.8 875.8L353.9 881.9L351.9 879.5L349.9 873.1L348.0 874.4L346.0 882.2L344.0 879.0L342.0 868.4L340.1 871.1L338.1 873.8L336.1 878.4L334.2 873.2L332.2 876.3L330.2 881.4L328.2 883.8L326.3 875.6L324.3 876.3L322.3 871.9L320.4 880.9L318.4 870.8L316.4 880.3L314.5 871.6L312.5 875.4L310.5 881.4L308.6 883.4L306.6 878.9L304.6 879.7L302.6 873.2L300.7 882.0L298.7 886.2L296.7 878.3L294.8 867.8L292.8 869.4L290.8 881.5L288.9 879.7L286.9 876.5L284.9 881.7L282.9 879.5L281.0 879.6L279.0 883.8L277.0 881.5L275.1 880.7L273.1 876.8L271.1 884.5L269.2 877.5L267.2 883.4L265.2 882.4L263.2 884.1L261.3 856.4L259.3 871.2L257.3 870.8L255.4 873.6L253.4 879.3L251.4 877.6L249.5 876.4L247.5 875.5L245.5 874.7L243.5 869.7L241.6 893.9L239.6 880.9L237.6 874.2L235.7 879.8L233.7 878.7L231.7 869.8L229.8 876.8L227.8 868.2L225.8 878.1L223.8 876.6L221.9 883.6L219.9 888.6L217.9 866.3" fill="none" stroke="#5aa9f3" stroke-width="1.2" stroke-linejoin="round"/>
<path d="M1185.2 720.9L1183.2 722.1L1181.3 723.7L1179.3 725.8L1177.3 727.4L1175.4 729.0L1173.4 730.3L1171.4 732.1L1169.4 733.6L1167.5 736.1L1165.5 736.9L1163.5 739.1L1161.6 740.6L1159.6 742.6L1157.6 744.0L1155.7 745.0L1153.7 746.2L1151.7 747.8L1149.7 749.1L1147.8 750.2L1145.8 752.0L1143.8 753.5L1141.9 754.2L1139.9 755.7L1137.9 757.1L1136.0 757.8L1134.0 758.6L1132.0 759.9L1130.0 760.9L1128.1 761.5L1126.1 762.2L1124.1 763.5L1122.2 764.7L1120.2 765.3L1118.2 766.2L1116.2 767.5L1114.3 768.2L1112.3 769.0L1110.3 770.4L1108.4 771.6L1106.4 771.9L1104.4 772.6L1102.5 773.0L1100.5 774.5L1098.5 775.0L1096.5 775.7L1094.6 776.7L1092.6 776.7L1090.6 777.3L1088.7 778.4L1086.7 778.3L1084.7 779.2L1082.8 779.9L1080.8 780.7L1078.8 781.2L1076.9 782.6L1074.9 782.5L1072.9 783.0L1070.9 784.3L1069.0 784.1L1067.0 784.8L1065.0 785.0L1063.1 785.9L1061.1 786.2L1059.1 786.6L1057.2 787.6L1055.2 787.5L1053.2 788.3L1051.2 788.6L1049.3 789.5L1047.3 789.4L1045.3 790.1L1043.4 790.8L1041.4 790.8L1039.4 790.9L1037.5 791.1L1035.5 792.7L1033.5 792.1L1031.5 792.6L1029.6 793.2L1027.6 793.8L1025.6 793.3L1023.7 794.6L1021.7 794.3L1019.7 794.4L1017.8 795.8L1015.8 795.7L1013.8 796.4L1011.8 796.1L1009.9 796.0L1007.9 796.2L1005.9 797.9L1004.0 797.8L1002.0 797.7L1000.0 797.7L998.1 798.5L996.1 799.3L994.1 799.2L992.1 799.7L990.2 800.1L988.2 800.7L986.2 800.6L984.3 801.0L982.3 801.5L980.3 801.8L978.4 802.5L976.4 802.4L974.4 801.9L972.4 802.7L970.5 803.5L968.5 802.5L966.5 803.1L964.6 802.6L962.6 803.8L960.6 804.2L958.7 804.9L956.7 803.9L954.7 803.5L952.7 805.3L950.8 805.4L948.8 805.1L946.8 806.0L944.9 805.9L942.9 806.2L940.9 806.2L939.0 806.0L937.0 806.7L935.0 806.5L933.0 807.4L931.1 807.2L929.1 808.7L927.1 808.6L925.2 807.7L923.2 808.6L921.2 808.2L919.2 808.5L917.3 808.3L915.3 808.7L913.3 808.7L911.4 809.4L909.4 809.8L907.4 809.9L905.5 809.8L903.5 810.3L901.5 810.0L899.6 809.9L897.6 809.8L895.6 810.2L893.6 811.2L891.7 810.2L889.7 810.2L887.7 809.8L885.8 810.1L883.8 810.9L881.8 811.1L879.9 809.6L877.9 810.4L875.9 809.8L873.9 809.6L872.0 811.4L870.0 810.7L868.0 810.7L866.1 810.7L864.1 810.8L862.1 811.0L860.2 811.1L858.2 812.2L856.2 811.4L854.2 811.8L852.3 811.3L850.3 811.7L848.3 811.1L846.4 811.0L844.4 811.4L842.4 811.4L840.5 811.6L838.5 812.0L836.5 811.9L834.5 812.2L832.6 811.6L830.6 811.9L828.6 811.6L826.7 812.9L824.7 811.5L822.7 812.7L820.8 812.7L818.8 812.4L816.8 812.7L814.8 812.1L812.9 812.6L810.9 812.8L808.9 812.5L807.0 810.8L805.0 811.6L803.0 812.4L801.1 811.4L799.1 812.5L797.1 809.7L795.1 812.2L793.2 810.5L791.2 810.3L789.2 811.8L787.3 810.2L785.3 809.5L783.3 809.8L781.4 809.8L779.4 809.1L777.4 809.7L775.4 809.4L773.5 809.6L771.5 808.8L769.5 810.1L767.6 808.4L765.6 809.5L763.6 809.9L761.7 808.4L759.7 807.0L757.7 807.6L755.7 808.8L753.8 807.7L751.8 808.9L749.8 808.6L747.9 808.6L745.9 811.0L743.9 808.7L742.0 810.0L740.0 809.8L738.0 810.7L736.0 810.8L734.1 810.4L732.1 808.7L730.1 807.9L728.2 809.8L726.2 808.7L724.2 810.2L722.2 812.1L720.3 810.0L718.3 809.8L716.3 810.9L714.4 810.2L712.4 810.0L710.4 811.7L708.5 812.5L706.5 811.2L704.5 811.3L702.6 811.6L700.6 810.1L698.6 809.4L696.6 811.9L694.7 810.7L692.7 810.5L690.7 810.9L688.8 810.6L686.8 812.3L684.8 811.1L682.9 809.7L680.9 811.2L678.9 813.0L676.9 811.6L675.0 810.9L673.0 812.1L671.0 813.3L669.1 810.8L667.1 814.3L665.1 812.3L663.2 813.0L661.2 814.5L659.2 811.7L657.2 812.8L655.3 814.8L653.3 812.7L651.3 814.1L649.4 816.0L647.4 814.6L645.4 813.5L643.5 813.1L641.5 813.8L639.5 814.0L637.5 813.7L635.6 814.8L633.6 813.3L631.6 814.9L629.7 814.9L627.7 814.8L625.7 817.2L623.8 817.0L621.8 814.3L619.8 816.1L617.8 817.2L615.9 816.6L613.9 817.9L611.9 817.2L610.0 818.7L608.0 817.7L606.0 820.4L604.1 816.7L602.1 819.5L600.1 821.2L598.1 819.6L596.2 820.0L594.2 819.5L592.2 821.6L590.3 819.7L588.3 815.5L586.3 822.5L584.4 820.5L582.4 821.7L580.4 821.2L578.4 824.3L576.5 823.6L574.5 821.2L572.5 821.8L570.6 819.3L568.6 822.5L566.6 821.1L564.7 817.1L562.7 822.2L560.7 822.3L558.7 820.9L556.8 820.8L554.8 819.4L552.8 820.3L550.9 821.5L548.9 820.0L546.9 816.2L545.0 818.1L543.0 824.0L541.0 820.0L539.0 821.0L537.1 818.6L535.1 819.7L533.1 816.4L531.2 817.7L529.2 817.7L527.2 818.6L525.2 818.8L523.3 818.1L521.3 816.6L519.3 817.6L517.4 818.8L515.4 816.2L513.4 817.7L511.5 818.1L509.5 823.5L507.5 826.7L505.6 830.8L503.6 841.1L501.6 828.9L499.6 830.0L497.7 832.1L495.7 827.8L493.7 829.3L491.8 829.2L489.8 837.9L487.8 830.5L485.9 827.7L483.9 823.9L481.9 822.8L479.9 823.8L478.0 831.8L476.0 834.8L474.0 825.5L472.1 826.9L470.1 823.5L468.1 826.8L466.2 825.3L464.2 830.7L462.2 823.9L460.2 826.5L458.3 823.5L456.3 823.4L454.3 825.6L452.4 824.4L450.4 825.8L448.4 823.4L446.5 824.6L444.5 828.4L442.5 828.8L440.5 821.1L438.6 827.7L436.6 824.2L434.6 826.5L432.7 830.1L430.7 831.0L428.7 828.2L426.8 828.0L424.8 827.0L422.8 833.9L420.8 831.8L418.9 830.4L416.9 824.9L414.9 839.6L413.0 830.2L411.0 834.3L409.0 831.5L407.1 835.4L405.1 832.9L403.1 829.1L401.1 834.1L399.2 834.4L397.2 835.2L395.2 839.9L393.3 835.8L391.3 839.1L389.3 842.0L387.4 839.7L385.4 840.4L383.4 836.8L381.4 839.7L379.5 841.6L377.5 834.1L375.5 835.8L373.6 834.8L371.6 837.3L369.6 840.0L367.7 841.2L365.7 840.6L363.7 835.9L361.7 839.1L359.8 845.3L357.8 839.7L355.8 845.1L353.9 838.9L351.9 844.3L349.9 844.5L348.0 839.1L346.0 839.9L344.0 846.1L342.0 836.6L340.1 831.0L338.1 845.5L336.1 832.3L334.2 842.3L332.2 841.5L330.2 840.3L328.2 845.4L326.3 834.3L324.3 837.6L322.3 842.6L320.4 840.7L318.4 845.8L316.4 841.0L314.5 835.7L312.5 846.6L310.5 841.4L308.6 839.0L306.6 835.2L304.6 833.9L302.6 841.5L300.7 842.7L298.7 837.7L296.7 841.1L294.8 840.9L292.8 835.0L290.8 832.6L288.9 839.1L286.9 841.6L284.9 838.8L282.9 849.9L281.0 842.4L279.0 847.4L277.0 833.0L275.1 840.7L273.1 843.7L271.1 845.7L269.2 856.3L267.2 842.7L265.2 839.2L263.2 850.1L261.3 844.4L259.3 844.7L257.3 854.9L255.4 844.0L253.4 842.3L251.4 847.4L249.5 848.9L247.5 845.2L245.5 855.8L243.5 848.6L241.6 844.4L239.6 854.9L237.6 844.9L235.7 851.5L233.7 859.2L231.7 850.3L229.8 854.4L227.8 848.7L225.8 855.7L223.8 845.6L221.9 854.0L219.9 849.0L217.9 866.3L216.0 876.8L214.0 868.0L212.0 873.7L210.1 877.2L208.1 882.2L206.1 868.1L204.1 870.6L202.2 876.8L200.2 873.5L198.2 881.0L196.3 880.9L194.3 879.8L192.3 872.8L190.4 873.2L188.4 879.4L186.4 870.5L184.4 870.2L182.5 873.9L180.5 868.7L178.5 876.7L176.6 875.6L174.6 872.1L172.6 875.1L170.7 870.1L168.7 882.5L166.7 866.2L164.7 879.7L162.8 875.9L160.8 883.4L158.8 871.2L156.9 867.1L154.9 868.3L152.9 869.8L151.0 884.5" fill="none" stroke="#8b0000" stroke-width="2.5" stroke-linejoin="round"/>
<rect x="101.2" y="500.1" width="1136.2" height="417.4" fill="none" stroke="#333" stroke-width="1.6"/>
<path d="M1185.2 917.5v8M988.2 917.5v8M791.2 917.5v8M594.2 917.5v8M397.2 917.5v8M200.2 917.5v8M101.2 903.9h-8M101.2 855.6h-8M101.2 807.3h-8M101.2 759.0h-8M101.2 710.7h-8M101.2 662.4h-8M101.2 614.1h-8M101.2 565.8h-8M101.2 517.5h-8" stroke="#333" stroke-width="1.6" fill="none"/>
<g font-family="DejaVu Sans, Liberation Sans, sans-serif" font-size="15.9" fill="#262626">
<text x="1185.2" y="945.3" text-anchor="middle">0</text>
<text x="988.2" y="945.3" text-anchor="middle">100</text>
<text x="791.2" y="945.3" text-anchor="middle">200</text>
<text x="594.2" y="945.3" text-anchor="middle">300</text>
<text x="397.2" y="945.3" text-anchor="middle">400</text>
<text x="200.2" y="945.3" text-anchor="middle">500</text>
<text x="85.8" y="911.2" text-anchor="end">517.5</text>
<text x="85.8" y="862.9" text-anchor="end">520.0</text>
<text x="85.8" y="814.6" text-anchor="end">522.5</text>
<text x="85.8" y="766.3" text-anchor="end">525.0</text>
<text x="85.8" y="718.0" text-anchor="end">527.5</text>
<text x="85.8" y="669.7" text-anchor="end">530.0</text>
<text x="85.8" y="621.4" text-anchor="end">532.5</text>
<text x="85.8" y="573.1" text-anchor="end">535.0</text>
<text x="85.8" y="524.8" text-anchor="end">537.5</text>
</g>
<g font-family="DejaVu Sans, Liberation Sans, sans-serif" font-size="17.7" fill="#262626">
<text x="669.3" y="968.5" text-anchor="middle">RUL</text>
<text transform="translate(31.6 712.1) rotate(-90)" text-anchor="middle">phi</text>
</g>
<path d="M1187.4 1544.2L1185.4 1552.7L1183.4 1564.0L1181.4 1561.8L1179.3 1565.7L1177.3 1568.2L1175.3 1566.8L1173.3 1580.1L1171.3 1570.9L1169.3 1585.5L1167.3 1583.4L1165.2 1580.6L1163.2 1584.9L1161.2 1595.5L1159.2 1584.0L1157.2 1593.8L1155.2 1603.2L1153.2 1599.6L1151.1 1606.5L1149.1 1601.5L1147.1 1613.5L1145.1 1605.2L1143.1 1619.9L1141.1 1605.7L1139.1 1612.4L1137.1 1608.2L1135.0 1622.0L1133.0 1631.9L1131.0 1629.7L1129.0 1624.9L1127.0 1614.0L1125.0 1623.7L1123.0 1621.1L1120.9 1635.5L1118.9 1635.2L1116.9 1635.7L1114.9 1628.7L1112.9 1640.5L1110.9 1640.6L1108.9 1631.2L1106.8 1647.5L1104.8 1644.3L1102.8 1653.7L1100.8 1648.9L1098.8 1644.3L1096.8 1643.9L1094.8 1660.9L1092.7 1669.4L1090.7 1652.9L1088.7 1647.8L1086.7 1663.7L1084.7 1659.6L1082.7 1662.5L1080.7 1677.0L1078.6 1681.4L1076.6 1667.1L1074.6 1665.1L1072.6 1678.6L1070.6 1672.7L1068.6 1676.9L1066.6 1679.3L1064.5 1682.6L1062.5 1668.9L1060.5 1677.4L1058.5 1680.2L1056.5 1683.1L1054.5 1679.1L1052.5 1685.9L1050.4 1683.2L1048.4 1690.3L1046.4 1684.8L1044.4 1690.2L1042.4 1686.2L1040.4 1700.7L1038.4 1697.3L1036.4 1701.4L1034.3 1685.5L1032.3 1700.3L1030.3 1698.3L1028.3 1709.9L1026.3 1706.6L1024.3 1712.6L1022.3 1704.1L1020.2 1710.8L1018.2 1696.7L1016.2 1713.0L1014.2 1702.7L1012.2 1711.1L1010.2 1707.8L1008.2 1717.5L1006.1 1712.8L1004.1 1714.2L1002.1 1718.9L1000.1 1711.3L998.1 1724.8L996.1 1717.3L994.1 1718.2L992.0 1717.1L990.0 1725.6L988.0 1715.0L986.0 1725.5L984.0 1724.4L982.0 1727.4L980.0 1724.5L977.9 1720.4L975.9 1705.3L973.9 1740.9L971.9 1719.2L969.9 1720.1L967.9 1717.1L965.9 1725.5L963.8 1724.9L961.8 1717.2L959.8 1728.6L957.8 1728.8L955.8 1730.7L953.8 1728.5L951.8 1720.9L949.7 1738.5L947.7 1726.1L945.7 1749.0L943.7 1732.0L941.7 1738.4L939.7 1728.3L937.7 1731.7L935.7 1732.3L933.6 1734.2L931.6 1736.2L929.6 1751.7L927.6 1737.4L925.6 1748.4L923.6 1733.5L921.6 1745.0L919.5 1741.2L917.5 1744.9L915.5 1741.7L913.5 1741.5L911.5 1739.9L909.5 1751.7L907.5 1734.2L905.4 1751.6L903.4 1746.3L901.4 1763.1L899.4 1744.3L897.4 1740.4L895.4 1739.4L893.4 1744.3L891.3 1745.0L889.3 1752.9L887.3 1751.7L885.3 1750.8L883.3 1749.1L881.3 1757.5L879.3 1753.3L877.2 1748.0L875.2 1750.9L873.2 1753.2L871.2 1758.1L869.2 1751.4L867.2 1752.5L865.2 1744.5L863.1 1754.4L861.1 1748.6L859.1 1763.9L857.1 1744.2L855.1 1765.1L853.1 1757.2L851.1 1759.4L849.0 1761.3L847.0 1760.0L845.0 1761.9L843.0 1758.2L841.0 1757.5L839.0 1752.2L837.0 1752.0L835.0 1749.0L832.9 1757.7L830.9 1766.5L828.9 1746.5L826.9 1758.4L824.9 1778.9L822.9 1757.8L820.9 1764.1L818.8 1768.2L816.8 1767.9L814.8 1764.0L812.8 1770.1L810.8 1763.6L808.8 1766.7L806.8 1767.2L804.7 1763.4L802.7 1764.6L800.7 1756.6L798.7 1764.4L796.7 1774.2L794.7 1768.1L792.7 1757.4L790.6 1757.7L788.6 1774.4L786.6 1765.1L784.6 1772.9L782.6 1772.0L780.6 1780.7L778.6 1781.6L776.5 1773.2L774.5 1770.0L772.5 1768.7L770.5 1778.0L768.5 1774.2L766.5 1772.2L764.5 1774.4L762.4 1792.1L760.4 1781.0L758.4 1773.7L756.4 1771.0L754.4 1781.2L752.4 1768.7L750.4 1795.5L748.3 1767.8L746.3 1781.3L744.3 1776.9L742.3 1783.5L740.3 1785.6L738.3 1780.1L736.3 1778.0L734.2 1786.3L732.2 1773.8L730.2 1782.3L728.2 1779.2L726.2 1784.9L724.2 1784.8L722.2 1780.6L720.2 1789.5L718.1 1775.9L716.1 1789.1L714.1 1777.8L712.1 1788.2L710.1 1782.1L708.1 1785.4L706.1 1772.5L704.0 1769.2L702.0 1783.5L700.0 1777.7L698.0 1779.1L696.0 1775.7L694.0 1773.7L692.0 1768.5L689.9 1780.1L687.9 1792.8L685.9 1776.0L683.9 1783.3L681.9 1781.7L679.9 1772.4L677.9 1770.3L675.8 1780.0L673.8 1772.2L671.8 1777.7L669.8 1775.2L667.8 1781.5L665.8 1771.6L663.8 1784.7L661.7 1780.3L659.7 1774.4L657.7 1787.3L655.7 1778.2L653.7 1777.7L651.7 1775.0L649.7 1768.7L647.6 1794.5L645.6 1773.5L643.6 1777.4L641.6 1771.7L639.6 1774.8L637.6 1783.7L635.6 1782.9L633.5 1785.7L631.5 1770.4L629.5 1782.8L627.5 1776.3L625.5 1779.9L623.5 1792.1L621.5 1780.2L619.5 1779.1L617.4 1767.8L615.4 1779.0L613.4 1785.0L611.4 1780.9L609.4 1771.3L607.4 1772.7L605.4 1772.8L603.3 1772.0L601.3 1782.3L599.3 1770.6L597.3 1774.6L595.3 1791.3L593.3 1781.3L591.3 1768.3L589.2 1781.1L587.2 1780.0L585.2 1777.3L583.2 1776.6L581.2 1777.9L579.2 1773.9L577.2 1783.1L575.1 1788.1L573.1 1778.2L571.1 1778.6L569.1 1771.5L567.1 1763.9L565.1 1774.9L563.1 1772.3L561.0 1766.7L559.0 1772.9L557.0 1773.9L555.0 1785.1L553.0 1781.5L551.0 1784.2L549.0 1781.5L546.9 1772.0L544.9 1774.6L542.9 1779.2L540.9 1794.5L538.9 1775.6L536.9 1776.0L534.9 1788.0L532.9 1779.5L530.8 1782.2L528.8 1775.8L526.8 1794.8L524.8 1789.6L522.8 1771.6L520.8 1788.2L518.8 1786.6L516.7 1784.3L514.7 1779.6L512.7 1772.2L510.7 1782.0L508.7 1775.0L506.7 1778.5L504.7 1785.5L502.6 1770.1L500.6 1774.3L498.6 1784.1L496.6 1782.9L494.6 1788.9L492.6 1794.0L490.6 1782.7L488.5 1774.1L486.5 1802.3L484.5 1786.2L482.5 1767.1L480.5 1770.3L478.5 1788.1L476.5 1786.4L474.4 1771.7L472.4 1789.0L470.4 1781.9L468.4 1787.5L466.4 1778.3L464.4 1780.1L462.4 1768.7L460.3 1788.9L458.3 1793.3L456.3 1784.2L454.3 1779.8L452.3 1784.1L450.3 1763.9L448.3 1785.6L446.2 1783.6L444.2 1775.4L442.2 1769.6L440.2 1780.7L438.2 1777.2L436.2 1791.2L434.2 1789.3L432.1 1780.0L430.1 1776.6L428.1 1778.2L426.1 1778.4L424.1 1776.3L422.1 1782.5L420.1 1784.7L418.1 1784.2L416.0 1791.8L414.0 1787.3L412.0 1788.1L410.0 1777.9L408.0 1764.4L406.0 1776.7L404.0 1767.6L401.9 1788.4L399.9 1785.1L397.9 1783.2L395.9 1773.4L393.9 1767.2L391.9 1775.1L389.9 1778.5L387.8 1780.3L385.8 1786.0L383.8 1778.2L381.8 1778.6L379.8 1781.6L377.8 1788.2L375.8 1781.0L373.7 1782.9L371.7 1803.8L369.7 1821.0L367.7 1830.3L365.7 1825.1L363.7 1838.0L361.7 1832.8L359.6 1835.0L357.6 1837.6L355.6 1828.8L353.6 1831.4L351.6 1838.5L349.6 1834.5L347.6 1829.3L345.5 1829.9L343.5 1816.0L341.5 1846.6L339.5 1823.1L337.5 1824.1L335.5 1826.1L333.5 1834.9L331.4 1834.9L329.4 1844.0L327.4 1826.1L325.4 1833.8L323.4 1833.8L321.4 1817.5L319.4 1836.7L317.4 1829.9L315.3 1824.8L313.3 1830.3L311.3 1826.4L309.3 1827.6L307.3 1827.4L305.3 1838.4L303.3 1838.6L301.2 1821.2L299.2 1825.6L297.2 1830.7L295.2 1834.5L293.2 1818.7L291.2 1832.0L289.2 1836.5L287.1 1821.7L285.1 1837.1L283.1 1832.1L281.1 1828.5L279.1 1837.8L277.1 1827.4L275.1 1827.2L273.0 1825.5L271.0 1830.8L269.0 1817.7L267.0 1829.5L265.0 1832.6L263.0 1826.6L261.0 1832.9L258.9 1847.5L256.9 1820.3L254.9 1842.5L252.9 1843.9L250.9 1826.8L248.9 1834.4L246.9 1821.2L244.8 1821.8L242.8 1821.2L240.8 1831.1L238.8 1827.0L236.8 1838.8L234.8 1824.0L232.8 1830.1L230.8 1830.5L228.7 1828.5L226.7 1829.1L224.7 1826.5L222.7 1823.5L220.7 1830.2L218.7 1833.1L216.7 1839.6L214.6 1817.4L212.6 1827.1L210.6 1832.4L208.6 1841.9L206.6 1825.9L204.6 1839.8L202.6 1828.2L200.5 1833.2L198.5 1822.0L196.5 1884.0L196.5 1884.0L198.5 1902.4L200.5 1915.7L202.6 1901.3L204.6 1908.8L206.6 1905.4L208.6 1907.0L210.6 1902.4L212.6 1902.4L214.6 1905.8L216.7 1908.5L218.7 1909.2L220.7 1907.0L222.7 1895.4L224.7 1904.0L226.7 1910.2L228.7 1916.9L230.8 1911.5L232.8 1907.6L234.8 1898.7L236.8 1909.1L238.8 1907.0L240.8 1912.7L242.8 1906.5L244.8 1910.9L246.9 1920.1L248.9 1905.5L250.9 1914.6L252.9 1896.6L254.9 1902.1L256.9 1907.1L258.9 1910.0L261.0 1912.0L263.0 1906.5L265.0 1909.0L267.0 1905.4L269.0 1913.5L271.0 1924.9L273.0 1898.5L275.1 1908.6L277.1 1906.5L279.1 1898.9L281.1 1912.8L283.1 1908.6L285.1 1915.9L287.1 1904.7L289.2 1905.4L291.2 1911.4L293.2 1915.9L295.2 1908.7L297.2 1914.0L299.2 1907.1L301.2 1912.4L303.3 1912.3L305.3 1918.3L307.3 1907.9L309.3 1907.1L311.3 1909.3L313.3 1914.9L315.3 1914.5L317.4 1908.2L319.4 1906.8L321.4 1908.6L323.4 1914.3L325.4 1902.4L327.4 1904.7L329.4 1900.7L331.4 1906.9L333.5 1898.5L335.5 1908.4L337.5 1920.2L339.5 1902.8L341.5 1917.4L343.5 1912.8L345.5 1912.5L347.6 1908.6L349.6 1916.1L351.6 1905.5L353.6 1901.3L355.6 1910.7L357.6 1903.4L359.6 1921.5L361.7 1899.2L363.7 1913.8L365.7 1913.6L367.7 1912.2L369.7 1904.2L371.7 1907.2L373.7 1913.9L375.8 1911.6L377.8 1899.8L379.8 1908.7L381.8 1902.6L383.8 1910.5L385.8 1922.6L387.8 1915.4L389.9 1902.2L391.9 1906.5L393.9 1902.8L395.9 1914.8L397.9 1910.2L399.9 1920.3L401.9 1913.2L404.0 1922.9L406.0 1905.9L408.0 1913.4L410.0 1900.8L412.0 1912.9L414.0 1908.2L416.0 1917.2L418.1 1909.8L420.1 1907.3L422.1 1913.3L424.1 1908.0L426.1 1913.3L428.1 1906.0L430.1 1914.2L432.1 1911.5L434.2 1906.7L436.2 1911.6L438.2 1909.2L440.2 1910.0L442.2 1916.2L444.2 1906.5L446.2 1908.9L448.3 1914.1L450.3 1898.0L452.3 1913.8L454.3 1907.2L456.3 1904.4L458.3 1915.9L460.3 1914.2L462.4 1922.6L464.4 1919.7L466.4 1921.1L468.4 1900.6L470.4 1905.5L472.4 1912.3L474.4 1916.5L476.5 1910.1L478.5 1901.0L480.5 1915.1L482.5 1919.3L484.5 1914.1L486.5 1910.7L488.5 1910.5L490.6 1909.9L492.6 1905.7L494.6 1910.2L496.6 1908.0L498.6 1907.4L500.6 1907.2L502.6 1910.6L504.7 1904.1L506.7 1910.7L508.7 1904.4L510.7 1918.1L512.7 1918.2L514.7 1918.2L516.7 1908.7L518.8 1919.0L520.8 1902.4L522.8 1910.2L524.8 1908.1L526.8 1915.4L528.8 1919.5L530.8 1917.8L532.9 1917.2L534.9 1906.2L536.9 1909.6L538.9 1909.1L540.9 1904.1L542.9 1914.9L544.9 1910.4L546.9 1912.5L549.0 1911.1L551.0 1913.0L553.0 1912.4L555.0 1914.1L557.0 1910.1L559.0 1908.8L561.0 1905.1L563.1 1912.3L565.1 1914.2L567.1 1910.4L569.1 1916.5L571.1 1917.4L573.1 1914.9L575.1 1908.5L577.2 1905.4L579.2 1908.9L581.2 1915.1L583.2 1912.8L585.2 1913.9L587.2 1903.7L589.2 1913.4L591.3 1908.9L593.3 1916.2L595.3 1912.6L597.3 1920.6L599.3 1903.7L601.3 1911.1L603.3 1906.7L605.4 1924.7L607.4 1919.5L609.4 1912.8L611.4 1901.8L613.4 1911.9L615.4 1912.2L617.4 1916.3L619.5 1911.0L621.5 1919.7L623.5 1911.5L625.5 1924.8L627.5 1921.6L629.5 1916.0L631.5 1907.2L633.5 1915.7L635.6 1901.1L637.6 1915.5L639.6 1909.3L641.6 1915.3L643.6 1913.0L645.6 1909.5L647.6 1913.9L649.7 1914.2L651.7 1900.4L653.7 1916.7L655.7 1905.6L657.7 1913.3L659.7 1904.5L661.7 1909.4L663.8 1904.4L665.8 1914.7L667.8 1913.3L669.8 1908.6L671.8 1908.0L673.8 1914.2L675.8 1918.1L677.9 1918.5L679.9 1896.4L681.9 1907.8L683.9 1914.4L685.9 1910.1L687.9 1907.5L689.9 1900.8L692.0 1907.4L694.0 1914.0L696.0 1915.5L698.0 1906.8L700.0 1914.6L702.0 1925.1L704.0 1916.9L706.1 1892.2L708.1 1921.3L710.1 1919.0L712.1 1898.5L714.1 1910.2L716.1 1906.7L718.1 1909.0L720.2 1921.9L722.2 1909.6L724.2 1908.0L726.2 1909.3L728.2 1912.1L730.2 1909.8L732.2 1906.0L734.2 1908.5L736.3 1917.4L738.3 1920.7L740.3 1908.3L742.3 1907.5L744.3 1909.6L746.3 1906.6L748.3 1906.3L750.4 1910.1L752.4 1908.5L754.4 1909.9L756.4 1915.2L758.4 1915.4L760.4 1908.5L762.4 1902.7L764.5 1899.4L766.5 1908.1L768.5 1899.1L770.5 1904.3L772.5 1912.1L774.5 1922.3L776.5 1904.3L778.6 1905.2L780.6 1907.1L782.6 1904.2L784.6 1903.2L786.6 1913.1L788.6 1916.2L790.6 1915.5L792.7 1909.7L794.7 1910.1L796.7 1909.0L798.7 1906.9L800.7 1910.9L802.7 1913.8L804.7 1907.5L806.8 1911.1L808.8 1911.1L810.8 1912.1L812.8 1906.6L814.8 1906.4L816.8 1906.2L818.8 1901.3L820.9 1906.5L822.9 1904.5L824.9 1913.1L826.9 1921.4L828.9 1915.8L830.9 1903.3L832.9 1914.6L835.0 1908.2L837.0 1907.7L839.0 1902.1L841.0 1909.2L843.0 1908.6L845.0 1908.1L847.0 1912.4L849.0 1913.9L851.1 1904.2L853.1 1918.3L855.1 1910.5L857.1 1904.6L859.1 1907.7L861.1 1896.2L863.1 1904.8L865.2 1911.4L867.2 1903.0L869.2 1902.7L871.2 1907.5L873.2 1917.5L875.2 1905.4L877.2 1910.3L879.3 1906.9L881.3 1908.5L883.3 1898.0L885.3 1911.6L887.3 1911.2L889.3 1899.0L891.3 1906.7L893.4 1910.6L895.4 1893.8L897.4 1913.6L899.4 1913.4L901.4 1899.9L903.4 1911.1L905.4 1912.2L907.5 1905.5L909.5 1910.2L911.5 1903.7L913.5 1901.6L915.5 1908.9L917.5 1899.1L919.5 1912.0L921.6 1894.7L923.6 1921.6L925.6 1911.3L927.6 1915.8L929.6 1919.4L931.6 1901.2L933.6 1891.1L935.7 1884.7L937.7 1880.3L939.7 1885.6L941.7 1878.8L943.7 1880.1L945.7 1880.5L947.7 1880.7L949.7 1880.8L951.8 1880.3L953.8 1908.5L955.8 1882.0L957.8 1881.2L959.8 1880.3L961.8 1878.2L963.8 1876.9L965.9 1881.7L967.9 1881.1L969.9 1878.0L971.9 1877.5L973.9 1880.0L975.9 1877.9L977.9 1878.4L980.0 1873.9L982.0 1875.7L984.0 1872.2L986.0 1876.5L988.0 1874.8L990.0 1877.9L992.0 1870.7L994.1 1878.2L996.1 1875.2L998.1 1879.6L1000.1 1875.6L1002.1 1875.7L1004.1 1875.7L1006.1 1877.0L1008.2 1878.8L1010.2 1872.4L1012.2 1878.7L1014.2 1885.3L1016.2 1874.4L1018.2 1877.9L1020.2 1878.6L1022.3 1876.4L1024.3 1880.5L1026.3 1881.6L1028.3 1874.6L1030.3 1875.8L1032.3 1873.2L1034.3 1877.9L1036.4 1870.7L1038.4 1882.3L1040.4 1879.7L1042.4 1877.2L1044.4 1882.7L1046.4 1883.4L1048.4 1882.9L1050.4 1880.8L1052.5 1886.9L1054.5 1885.5L1056.5 1881.1L1058.5 1886.1L1060.5 1885.3L1062.5 1888.3L1064.5 1882.4L1066.6 1886.0L1068.6 1883.3L1070.6 1880.1L1072.6 1886.6L1074.6 1881.6L1076.6 1884.6L1078.6 1888.3L1080.7 1883.7L1082.7 1881.5L1084.7 1884.7L1086.7 1882.5L1088.7 1881.5L1090.7 1886.5L1092.7 1887.2L1094.8 1890.6L1096.8 1884.9L1098.8 1889.5L1100.8 1888.6L1102.8 1891.5L1104.8 1892.1L1106.8 1890.4L1108.9 1894.6L1110.9 1888.4L1112.9 1894.9L1114.9 1891.2L1116.9 1892.9L1118.9 1894.4L1120.9 1894.5L1123.0 1895.2L1125.0 1891.8L1127.0 1899.0L1129.0 1896.1L1131.0 1899.4L1133.0 1901.8L1135.0 1903.9L1137.1 1899.0L1139.1 1899.4L1141.1 1897.9L1143.1 1901.6L1145.1 1900.8L1147.1 1901.6L1149.1 1903.5L1151.1 1903.8L1153.2 1904.4L1155.2 1900.4L1157.2 1900.8L1159.2 1904.0L1161.2 1905.7L1163.2 1903.0L1165.2 1906.5L1167.3 1907.1L1169.3 1902.0L1171.3 1901.8L1173.3 1909.4L1175.3 1905.9L1177.3 1906.7L1179.3 1909.5L1181.4 1915.9L1183.4 1911.9L1185.4 1911.1L1187.4 1910.7Z" fill="#f0f0f0" stroke="none"/>
<path d="M1187.4 1544.2L1185.4 1552.7L1183.4 1564.0L1181.4 1561.8L1179.3 1565.7L1177.3 1568.2L1175.3 1566.8L1173.3 1580.1L1171.3 1570.9L1169.3 1585.5L1167.3 1583.4L1165.2 1580.6L1163.2 1584.9L1161.2 1595.5L1159.2 1584.0L1157.2 1593.8L1155.2 1603.2L1153.2 1599.6L1151.1 1606.5L1149.1 1601.5L1147.1 1613.5L1145.1 1605.2L1143.1 1619.9L1141.1 1605.7L1139.1 1612.4L1137.1 1608.2L1135.0 1622.0L1133.0 1631.9L1131.0 1629.7L1129.0 1624.9L1127.0 1614.0L1125.0 1623.7L1123.0 1621.1L1120.9 1635.5L1118.9 1635.2L1116.9 1635.7L1114.9 1628.7L1112.9 1640.5L1110.9 1640.6L1108.9 1631.2L1106.8 1647.5L1104.8 1644.3L1102.8 1653.7L1100.8 1648.9L1098.8 1644.3L1096.8 1643.9L1094.8 1660.9L1092.7 1669.4L1090.7 1652.9L1088.7 1647.8L1086.7 1663.7L1084.7 1659.6L1082.7 1662.5L1080.7 1677.0L1078.6 1681.4L1076.6 1667.1L1074.6 1665.1L1072.6 1678.6L1070.6 1672.7L1068.6 1676.9L1066.6 1679.3L1064.5 1682.6L1062.5 1668.9L1060.5 1677.4L1058.5 1680.2L1056.5 1683.1L1054.5 1679.1L1052.5 1685.9L1050.4 1683.2L1048.4 1690.3L1046.4 1684.8L1044.4 1690.2L1042.4 1686.2L1040.4 1700.7L1038.4 1697.3L1036.4 1701.4L1034.3 1685.5L1032.3 1700.3L1030.3 1698.3L1028.3 1709.9L1026.3 1706.6L1024.3 1712.6L1022.3 1704.1L1020.2 1710.8L1018.2 1696.7L1016.2 1713.0L1014.2 1702.7L1012.2 1711.1L1010.2 1707.8L1008.2 1717.5L1006.1 1712.8L1004.1 1714.2L1002.1 1718.9L1000.1 1711.3L998.1 1724.8L996.1 1717.3L994.1 1718.2L992.0 1717.1L990.0 1725.6L988.0 1715.0L986.0 1725.5L984.0 1724.4L982.0 1727.4L980.0 1724.5L977.9 1720.4L975.9 1705.3L973.9 1740.9L971.9 1719.2L969.9 1720.1L967.9 1717.1L965.9 1725.5L963.8 1724.9L961.8 1717.2L959.8 1728.6L957.8 1728.8L955.8 1730.7L953.8 1728.5L951.8 1720.9L949.7 1738.5L947.7 1726.1L945.7 1749.0L943.7 1732.0L941.7 1738.4L939.7 1728.3L937.7 1731.7L935.7 1732.3L933.6 1734.2L931.6 1736.2L929.6 1751.7L927.6 1737.4L925.6 1748.4L923.6 1733.5L921.6 1745.0L919.5 1741.2L917.5 1744.9L915.5 1741.7L913.5 1741.5L911.5 1739.9L909.5 1751.7L907.5 1734.2L905.4 1751.6L903.4 1746.3L901.4 1763.1L899.4 1744.3L897.4 1740.4L895.4 1739.4L893.4 1744.3L891.3 1745.0L889.3 1752.9L887.3 1751.7L885.3 1750.8L883.3 1749.1L881.3 1757.5L879.3 1753.3L877.2 1748.0L875.2 1750.9L873.2 1753.2L871.2 1758.1L869.2 1751.4L867.2 1752.5L865.2 1744.5L863.1 1754.4L861.1 1748.6L859.1 1763.9L857.1 1744.2L855.1 1765.1L853.1 1757.2L851.1 1759.4L849.0 1761.3L847.0 1760.0L845.0 1761.9L843.0 1758.2L841.0 1757.5L839.0 1752.2L837.0 1752.0L835.0 1749.0L832.9 1757.7L830.9 1766.5L828.9 1746.5L826.9 1758.4L824.9 1778.9L822.9 1757.8L820.9 1764.1L818.8 1768.2L816.8 1767.9L814.8 1764.0L812.8 1770.1L810.8 1763.6L808.8 1766.7L806.8 1767.2L804.7 1763.4L802.7 1764.6L800.7 1756.6L798.7 1764.4L796.7 1774.2L794.7 1768.1L792.7 1757.4L790.6 1757.7L788.6 1774.4L786.6 1765.1L784.6 1772.9L782.6 1772.0L780.6 1780.7L778.6 1781.6L776.5 1773.2L774.5 1770.0L772.5 1768.7L770.5 1778.0L768.5 1774.2L766.5 1772.2L764.5 1774.4L762.4 1792.1L760.4 1781.0L758.4 1773.7L756.4 1771.0L754.4 1781.2L752.4 1768.7L750.4 1795.5L748.3 1767.8L746.3 1781.3L744.3 1776.9L742.3 1783.5L740.3 1785.6L738.3 1780.1L736.3 1778.0L734.2 1786.3L732.2 1773.8L730.2 1782.3L728.2 1779.2L726.2 1784.9L724.2 1784.8L722.2 1780.6L720.2 1789.5L718.1 1775.9L716.1 1789.1L714.1 1777.8L712.1 1788.2L710.1 1782.1L708.1 1785.4L706.1 1772.5L704.0 1769.2L702.0 1783.5L700.0 1777.7L698.0 1779.1L696.0 1775.7L694.0 1773.7L692.0 1768.5L689.9 1780.1L687.9 1792.8L685.9 1776.0L683.9 1783.3L681.9 1781.7L679.9 1772.4L677.9 1770.3L675.8 1780.0L673.8 1772.2L671.8 1777.7L669.8 1775.2L667.8 1781.5L665.8 1771.6L663.8 1784.7L661.7 1780.3L659.7 1774.4L657.7 1787.3L655.7 1778.2L653.7 1777.7L651.7 1775.0L649.7 1768.7L647.6 1794.5L645.6 1773.5L643.6 1777.4L641.6 1771.7L639.6 1774.8L637.6 1783.7L635.6 1782.9L633.5 1785.7L631.5 1770.4L629.5 1782.8L627.5 1776.3L625.5 1779.9L623.5 1792.1L621.5 1780.2L619.5 1779.1L617.4 1767.8L615.4 1779.0L613.4 1785.0L611.4 1780.9L609.4 1771.3L607.4 1772.7L605.4 1772.8L603.3 1772.0L601.3 1782.3L599.3 1770.6L597.3 1774.6L595.3 1791.3L593.3 1781.3L591.3 1768.3L589.2 1781.1L587.2 1780.0L585.2 1777.3L583.2 1776.6L581.2 1777.9L579.2 1773.9L577.2 1783.1L575.1 1788.1L573.1 1778.2L571.1 1778.6L569.1 1771.5L567.1 1763.9L565.1 1774.9L563.1 1772.3L561.0 1766.7L559.0 1772.9L557.0 1773.9L555.0 1785.1L553.0 1781.5L551.0 1784.2L549.0 1781.5L546.9 1772.0L544.9 1774.6L542.9 1779.2L540.9 1794.5L538.9 1775.6L536.9 1776.0L534.9 1788.0L532.9 1779.5L530.8 1782.2L528.8 1775.8L526.8 1794.8L524.8 1789.6L522.8 1771.6L520.8 1788.2L518.8 1786.6L516.7 1784.3L514.7 1779.6L512.7 1772.2L510.7 1782.0L508.7 1775.0L506.7 1778.5L504.7 1785.5L502.6 1770.1L500.6 1774.3L498.6 1784.1L496.6 1782.9L494.6 1788.9L492.6 1794.0L490.6 1782.7L488.5 1774.1L486.5 1802.3L484.5 1786.2L482.5 1767.1L480.5 1770.3L478.5 1788.1L476.5 1786.4L474.4 1771.7L472.4 1789.0L470.4 1781.9L468.4 1787.5L466.4 1778.3L464.4 1780.1L462.4 1768.7L460.3 1788.9L458.3 1793.3L456.3 1784.2L454.3 1779.8L452.3 1784.1L450.3 1763.9L448.3 1785.6L446.2 1783.6L444.2 1775.4L442.2 1769.6L440.2 1780.7L438.2 1777.2L436.2 1791.2L434.2 1789.3L432.1 1780.0L430.1 1776.6L428.1 1778.2L426.1 1778.4L424.1 1776.3L422.1 1782.5L420.1 1784.7L418.1 1784.2L416.0 1791.8L414.0 1787.3L412.0 1788.1L410.0 1777.9L408.0 1764.4L406.0 1776.7L404.0 1767.6L401.9 1788.4L399.9 1785.1L397.9 1783.2L395.9 1773.4L393.9 1767.2L391.9 1775.1L389.9 1778.5L387.8 1780.3L385.8 1786.0L383.8 1778.2L381.8 1778.6L379.8 1781.6L377.8 1788.2L375.8 1781.0L373.7 1782.9L371.7 1803.8L369.7 1821.0L367.7 1830.3L365.7 1825.1L363.7 1838.0L361.7 1832.8L359.6 1835.0L357.6 1837.6L355.6 1828.8L353.6 1831.4L351.6 1838.5L349.6 1834.5L347.6 1829.3L345.5 1829.9L343.5 1816.0L341.5 1846.6L339.5 1823.1L337.5 1824.1L335.5 1826.1L333.5 1834.9L331.4 1834.9L329.4 1844.0L327.4 1826.1L325.4 1833.8L323.4 1833.8L321.4 1817.5L319.4 1836.7L317.4 1829.9L315.3 1824.8L313.3 1830.3L311.3 1826.4L309.3 1827.6L307.3 1827.4L305.3 1838.4L303.3 1838.6L301.2 1821.2L299.2 1825.6L297.2 1830.7L295.2 1834.5L293.2 1818.7L291.2 1832.0L289.2 1836.5L287.1 1821.7L285.1 1837.1L283.1 1832.1L281.1 1828.5L279.1 1837.8L277.1 1827.4L275.1 1827.2L273.0 1825.5L271.0 1830.8L269.0 1817.7L267.0 1829.5L265.0 1832.6L263.0 1826.6L261.0 1832.9L258.9 1847.5L256.9 1820.3L254.9 1842.5L252.9 1843.9L250.9 1826.8L248.9 1834.4L246.9 1821.2L244.8 1821.8L242.8 1821.2L240.8 1831.1L238.8 1827.0L236.8 1838.8L234.8 1824.0L232.8 1830.1L230.8 1830.5L228.7 1828.5L226.7 1829.1L224.7 1826.5L222.7 1823.5L220.7 1830.2L218.7 1833.1L216.7 1839.6L214.6 1817.4L212.6 1827.1L210.6 1832.4L208.6 1841.9L206.6 1825.9L204.6 1839.8L202.6 1828.2L200.5 1833.2L198.5 1822.0L196.5 1884.0" fill="none" stroke="#f0a5a5" stroke-width="1.2" stroke-linejoin="round"/>
<path d="M1187.4 1910.7L1185.4 1911.1L1183.4 1911.9L1181.4 1915.9L1179.3 1909.5L1177.3 1906.7L1175.3 1905.9L1173.3 1909.4L1171.3 1901.8L1169.3 1902.0L1167.3 1907.1L1165.2 1906.5L1163.2 1903.0L1161.2 1905.7L1159.2 1904.0L1157.2 1900.8L1155.2 1900.4L1153.2 1904.4L1151.1 1903.8L1149.1 1903.5L1147.1 1901.6L1145.1 1900.8L1143.1 1901.6L1141.1 1897.9L1139.1 1899.4L1137.1 1899.0L1135.0 1903.9L1133.0 1901.8L1131.0 1899.4L1129.0 1896.1L1127.0 1899.0L1125.0 1891.8L1123.0 1895.2L1120.9 1894.5L1118.9 1894.4L1116.9 1892.9L1114.9 1891.2L1112.9 1894.9L1110.9 1888.4L1108.9 1894.6L1106.8 1890.4L1104.8 1892.1L1102.8 1891.5L1100.8 1888.6L1098.8 1889.5L1096.8 1884.9L1094.8 1890.6L1092.7 1887.2L1090.7 1886.5L1088.7 1881.5L1086.7 1882.5L1084.7 1884.7L1082.7 1881.5L1080.7 1883.7L1078.6 1888.3L1076.6 1884.6L1074.6 1881.6L1072.6 1886.6L1070.6 1880.1L1068.6 1883.3L1066.6 1886.0L1064.5 1882.4L1062.5 1888.3L1060.5 1885.3L1058.5 1886.1L1056.5 1881.1L1054.5 1885.5L1052.5 1886.9L1050.4 1880.8L1048.4 1882.9L1046.4 1883.4L1044.4 1882.7L1042.4 1877.2L1040.4 1879.7L1038.4 1882.3L1036.4 1870.7L1034.3 1877.9L1032.3 1873.2L1030.3 1875.8L1028.3 1874.6L1026.3 1881.6L1024.3 1880.5L1022.3 1876.4L1020.2 1878.6L1018.2 1877.9L1016.2 1874.4L1014.2 1885.3L1012.2 1878.7L1010.2 1872.4L1008.2 1878.8L1006.1 1877.0L1004.1 1875.7L1002.1 1875.7L1000.1 1875.6L998.1 1879.6L996.1 1875.2L994.1 1878.2L992.0 1870.7L990.0 1877.9L988.0 1874.8L986.0 1876.5L984.0 1872.2L982.0 1875.7L980.0 1873.9L977.9 1878.4L975.9 1877.9L973.9 1880.0L971.9 1877.5L969.9 1878.0L967.9 1881.1L965.9 1881.7L963.8 1876.9L961.8 1878.2L959.8 1880.3L957.8 1881.2L955.8 1882.0L953.8 1908.5L951.8 1880.3L949.7 1880.8L947.7 1880.7L945.7 1880.5L943.7 1880.1L941.7 1878.8L939.7 1885.6L937.7 1880.3L935.7 1884.7L933.6 1891.1L931.6 1901.2L929.6 1919.4L927.6 1915.8L925.6 1911.3L923.6 1921.6L921.6 1894.7L919.5 1912.0L917.5 1899.1L915.5 1908.9L913.5 1901.6L911.5 1903.7L909.5 1910.2L907.5 1905.5L905.4 1912.2L903.4 1911.1L901.4 1899.9L899.4 1913.4L897.4 1913.6L895.4 1893.8L893.4 1910.6L891.3 1906.7L889.3 1899.0L887.3 1911.2L885.3 1911.6L883.3 1898.0L881.3 1908.5L879.3 1906.9L877.2 1910.3L875.2 1905.4L873.2 1917.5L871.2 1907.5L869.2 1902.7L867.2 1903.0L865.2 1911.4L863.1 1904.8L861.1 1896.2L859.1 1907.7L857.1 1904.6L855.1 1910.5L853.1 1918.3L851.1 1904.2L849.0 1913.9L847.0 1912.4L845.0 1908.1L843.0 1908.6L841.0 1909.2L839.0 1902.1L837.0 1907.7L835.0 1908.2L832.9 1914.6L830.9 1903.3L828.9 1915.8L826.9 1921.4L824.9 1913.1L822.9 1904.5L820.9 1906.5L818.8 1901.3L816.8 1906.2L814.8 1906.4L812.8 1906.6L810.8 1912.1L808.8 1911.1L806.8 1911.1L804.7 1907.5L802.7 1913.8L800.7 1910.9L798.7 1906.9L796.7 1909.0L794.7 1910.1L792.7 1909.7L790.6 1915.5L788.6 1916.2L786.6 1913.1L784.6 1903.2L782.6 1904.2L780.6 1907.1L778.6 1905.2L776.5 1904.3L774.5 1922.3L772.5 1912.1L770.5 1904.3L768.5 1899.1L766.5 1908.1L764.5 1899.4L762.4 1902.7L760.4 1908.5L758.4 1915.4L756.4 1915.2L754.4 1909.9L752.4 1908.5L750.4 1910.1L748.3 1906.3L746.3 1906.6L744.3 1909.6L742.3 1907.5L740.3 1908.3L738.3 1920.7L736.3 1917.4L734.2 1908.5L732.2 1906.0L730.2 1909.8L728.2 1912.1L726.2 1909.3L724.2 1908.0L722.2 1909.6L720.2 1921.9L718.1 1909.0L716.1 1906.7L714.1 1910.2L712.1 1898.5L710.1 1919.0L708.1 1921.3L706.1 1892.2L704.0 1916.9L702.0 1925.1L700.0 1914.6L698.0 1906.8L696.0 1915.5L694.0 1914.0L692.0 1907.4L689.9 1900.8L687.9 1907.5L685.9 1910.1L683.9 1914.4L681.9 1907.8L679.9 1896.4L677.9 1918.5L675.8 1918.1L673.8 1914.2L671.8 1908.0L669.8 1908.6L667.8 1913.3L665.8 1914.7L663.8 1904.4L661.7 1909.4L659.7 1904.5L657.7 1913.3L655.7 1905.6L653.7 1916.7L651.7 1900.4L649.7 1914.2L647.6 1913.9L645.6 1909.5L643.6 1913.0L641.6 1915.3L639.6 1909.3L637.6 1915.5L635.6 1901.1L633.5 1915.7L631.5 1907.2L629.5 1916.0L627.5 1921.6L625.5 1924.8L623.5 1911.5L621.5 1919.7L619.5 1911.0L617.4 1916.3L615.4 1912.2L613.4 1911.9L611.4 1901.8L609.4 1912.8L607.4 1919.5L605.4 1924.7L603.3 1906.7L601.3 1911.1L599.3 1903.7L597.3 1920.6L595.3 1912.6L593.3 1916.2L591.3 1908.9L589.2 1913.4L587.2 1903.7L585.2 1913.9L583.2 1912.8L581.2 1915.1L579.2 1908.9L577.2 1905.4L575.1 1908.5L573.1 1914.9L571.1 1917.4L569.1 1916.5L567.1 1910.4L565.1 1914.2L563.1 1912.3L561.0 1905.1L559.0 1908.8L557.0 1910.1L555.0 1914.1L553.0 1912.4L551.0 1913.0L549.0 1911.1L546.9 1912.5L544.9 1910.4L542.9 1914.9L540.9 1904.1L538.9 1909.1L536.9 1909.6L534.9 1906.2L532.9 1917.2L530.8 1917.8L528.8 1919.5L526.8 1915.4L524.8 1908.1L522.8 1910.2L520.8 1902.4L518.8 1919.0L516.7 1908.7L514.7 1918.2L512.7 1918.2L510.7 1918.1L508.7 1904.4L506.7 1910.7L504.7 1904.1L502.6 1910.6L500.6 1907.2L498.6 1907.4L496.6 1908.0L494.6 1910.2L492.6 1905.7L490.6 1909.9L488.5 1910.5L486.5 1910.7L484.5 1914.1L482.5 1919.3L480.5 1915.1L478.5 1901.0L476.5 1910.1L474.4 1916.5L472.4 1912.3L470.4 1905.5L468.4 1900.6L466.4 1921.1L464.4 1919.7L462.4 1922.6L460.3 1914.2L458.3 1915.9L456.3 1904.4L454.3 1907.2L452.3 1913.8L450.3 1898.0L448.3 1914.1L446.2 1908.9L444.2 1906.5L442.2 1916.2L440.2 1910.0L438.2 1909.2L436.2 1911.6L434.2 1906.7L432.1 1911.5L430.1 1914.2L428.1 1906.0L426.1 1913.3L424.1 1908.0L422.1 1913.3L420.1 1907.3L418.1 1909.8L416.0 1917.2L414.0 1908.2L412.0 1912.9L410.0 1900.8L408.0 1913.4L406.0 1905.9L404.0 1922.9L401.9 1913.2L399.9 1920.3L397.9 1910.2L395.9 1914.8L393.9 1902.8L391.9 1906.5L389.9 1902.2L387.8 1915.4L385.8 1922.6L383.8 1910.5L381.8 1902.6L379.8 1908.7L377.8 1899.8L375.8 1911.6L373.7 1913.9L371.7 1907.2L369.7 1904.2L367.7 1912.2L365.7 1913.6L363.7 1913.8L361.7 1899.2L359.6 1921.5L357.6 1903.4L355.6 1910.7L353.6 1901.3L351.6 1905.5L349.6 1916.1L347.6 1908.6L345.5 1912.5L343.5 1912.8L341.5 1917.4L339.5 1902.8L337.5 1920.2L335.5 1908.4L333.5 1898.5L331.4 1906.9L329.4 1900.7L327.4 1904.7L325.4 1902.4L323.4 1914.3L321.4 1908.6L319.4 1906.8L317.4 1908.2L315.3 1914.5L313.3 1914.9L311.3 1909.3L309.3 1907.1L307.3 1907.9L305.3 1918.3L303.3 1912.3L301.2 1912.4L299.2 1907.1L297.2 1914.0L295.2 1908.7L293.2 1915.9L291.2 1911.4L289.2 1905.4L287.1 1904.7L285.1 1915.9L283.1 1908.6L281.1 1912.8L279.1 1898.9L277.1 1906.5L275.1 1908.6L273.0 1898.5L271.0 1924.9L269.0 1913.5L267.0 1905.4L265.0 1909.0L263.0 1906.5L261.0 1912.0L258.9 1910.0L256.9 1907.1L254.9 1902.1L252.9 1896.6L250.9 1914.6L248.9 1905.5L246.9 1920.1L244.8 1910.9L242.8 1906.5L240.8 1912.7L238.8 1907.0L236.8 1909.1L234.8 1898.7L232.8 1907.6L230.8 1911.5L228.7 1916.9L226.7 1910.2L224.7 1904.0L222.7 1895.4L220.7 1907.0L218.7 1909.2L216.7 1908.5L214.6 1905.8L212.6 1902.4L210.6 1902.4L208.6 1907.0L206.6 1905.4L204.6 1908.8L202.6 1901.3L200.5 1915.7L198.5 1902.4L196.5 1884.0" fill="none" stroke="#5aa9f3" stroke-width="1.2" stroke-linejoin="round"/>
<path d="M1187.4 1755.8L1185.4 1757.3L1183.4 1758.8L1181.4 1761.0L1179.3 1761.3L1177.3 1763.7L1175.3 1763.9L1173.3 1765.4L1171.3 1766.7L1169.3 1768.1L1167.3 1769.7L1165.2 1771.4L1163.2 1772.7L1161.2 1773.4L1159.2 1775.4L1157.2 1776.5L1155.2 1777.8L1153.2 1778.9L1151.1 1780.0L1149.1 1780.9L1147.1 1782.3L1145.1 1783.5L1143.1 1784.8L1141.1 1785.7L1139.1 1787.4L1137.1 1788.0L1135.0 1788.7L1133.0 1790.7L1131.0 1791.4L1129.0 1791.0L1127.0 1793.4L1125.0 1794.5L1123.0 1794.8L1120.9 1794.6L1118.9 1795.3L1116.9 1797.5L1114.9 1797.6L1112.9 1798.6L1110.9 1799.7L1108.9 1801.1L1106.8 1800.6L1104.8 1802.2L1102.8 1802.5L1100.8 1803.4L1098.8 1803.5L1096.8 1804.6L1094.8 1806.4L1092.7 1806.8L1090.7 1807.0L1088.7 1808.9L1086.7 1809.3L1084.7 1809.8L1082.7 1811.3L1080.7 1811.6L1078.6 1812.3L1076.6 1811.9L1074.6 1812.8L1072.6 1812.6L1070.6 1813.5L1068.6 1813.8L1066.6 1814.6L1064.5 1814.7L1062.5 1815.6L1060.5 1816.6L1058.5 1816.0L1056.5 1816.6L1054.5 1816.5L1052.5 1818.2L1050.4 1818.9L1048.4 1819.8L1046.4 1821.5L1044.4 1820.8L1042.4 1820.4L1040.4 1821.6L1038.4 1823.0L1036.4 1821.9L1034.3 1822.8L1032.3 1823.1L1030.3 1823.5L1028.3 1823.7L1026.3 1823.8L1024.3 1825.2L1022.3 1824.8L1020.2 1825.3L1018.2 1824.9L1016.2 1826.3L1014.2 1825.3L1012.2 1826.2L1010.2 1826.1L1008.2 1827.6L1006.1 1827.2L1004.1 1827.8L1002.1 1829.1L1000.1 1828.8L998.1 1829.3L996.1 1829.9L994.1 1830.2L992.0 1830.9L990.0 1830.8L988.0 1830.7L986.0 1831.5L984.0 1832.2L982.0 1831.0L980.0 1832.0L977.9 1832.0L975.9 1832.4L973.9 1832.8L971.9 1832.4L969.9 1833.3L967.9 1833.3L965.9 1834.3L963.8 1834.7L961.8 1834.2L959.8 1833.1L957.8 1834.4L955.8 1833.6L953.8 1834.7L951.8 1834.9L949.7 1835.8L947.7 1835.7L945.7 1834.8L943.7 1835.4L941.7 1836.8L939.7 1836.9L937.7 1835.9L935.7 1837.3L933.6 1836.5L931.6 1837.8L929.6 1837.0L927.6 1836.6L925.6 1837.2L923.6 1837.7L921.6 1837.9L919.5 1838.3L917.5 1838.4L915.5 1837.7L913.5 1837.9L911.5 1838.6L909.5 1839.8L907.5 1839.5L905.4 1839.1L903.4 1839.4L901.4 1840.5L899.4 1839.3L897.4 1838.2L895.4 1840.9L893.4 1840.2L891.3 1839.2L889.3 1840.7L887.3 1840.8L885.3 1840.5L883.3 1840.3L881.3 1841.1L879.3 1840.2L877.2 1842.3L875.2 1840.5L873.2 1840.8L871.2 1841.3L869.2 1841.0L867.2 1841.3L865.2 1840.4L863.1 1841.9L861.1 1841.6L859.1 1842.7L857.1 1842.6L855.1 1842.0L853.1 1843.1L851.1 1842.7L849.0 1843.1L847.0 1842.6L845.0 1842.2L843.0 1841.6L841.0 1843.9L839.0 1842.7L837.0 1841.9L835.0 1841.6L832.9 1841.4L830.9 1843.6L828.9 1842.8L826.9 1841.8L824.9 1841.4L822.9 1841.8L820.9 1841.7L818.8 1841.7L816.8 1842.4L814.8 1841.5L812.8 1840.9L810.8 1841.8L808.8 1840.4L806.8 1843.7L804.7 1841.5L802.7 1839.6L800.7 1840.2L798.7 1839.6L796.7 1840.6L794.7 1841.8L792.7 1841.0L790.6 1839.1L788.6 1842.1L786.6 1841.2L784.6 1841.9L782.6 1840.8L780.6 1840.7L778.6 1839.8L776.5 1841.1L774.5 1838.7L772.5 1839.7L770.5 1840.8L768.5 1841.3L766.5 1841.8L764.5 1840.2L762.4 1838.3L760.4 1840.5L758.4 1841.4L756.4 1840.4L754.4 1840.9L752.4 1841.3L750.4 1842.3L748.3 1840.4L746.3 1838.7L744.3 1839.0L742.3 1839.3L740.3 1840.1L738.3 1839.8L736.3 1839.2L734.2 1840.4L732.2 1840.0L730.2 1840.8L728.2 1839.0L726.2 1841.4L724.2 1839.5L722.2 1839.3L720.2 1839.4L718.1 1839.6L716.1 1841.1L714.1 1841.4L712.1 1841.3L710.1 1841.4L708.1 1842.4L706.1 1841.7L704.0 1842.1L702.0 1842.6L700.0 1841.2L698.0 1842.6L696.0 1841.6L694.0 1840.2L692.0 1840.0L689.9 1842.2L687.9 1841.1L685.9 1842.2L683.9 1839.6L681.9 1840.7L679.9 1841.5L677.9 1843.2L675.8 1843.5L673.8 1842.6L671.8 1843.4L669.8 1843.9L667.8 1842.7L665.8 1845.5L663.8 1846.7L661.7 1845.5L659.7 1845.8L657.7 1844.4L655.7 1845.7L653.7 1844.8L651.7 1847.5L649.7 1842.5L647.6 1844.1L645.6 1845.9L643.6 1844.2L641.6 1842.9L639.6 1843.4L637.6 1844.9L635.6 1843.8L633.5 1843.4L631.5 1846.6L629.5 1847.0L627.5 1845.7L625.5 1843.3L623.5 1842.5L621.5 1844.6L619.5 1842.4L617.4 1843.3L615.4 1845.0L613.4 1846.1L611.4 1846.0L609.4 1844.8L607.4 1842.6L605.4 1843.5L603.3 1847.3L601.3 1847.2L599.3 1843.8L597.3 1844.9L595.3 1847.0L593.3 1844.2L591.3 1843.1L589.2 1844.1L587.2 1845.4L585.2 1843.3L583.2 1846.4L581.2 1846.9L579.2 1847.6L577.2 1842.4L575.1 1842.0L573.1 1846.2L571.1 1845.0L569.1 1845.4L567.1 1844.4L565.1 1844.0L563.1 1845.1L561.0 1846.7L559.0 1847.7L557.0 1848.8L555.0 1852.3L553.0 1847.0L551.0 1848.7L549.0 1846.9L546.9 1847.3L544.9 1849.4L542.9 1848.3L540.9 1846.3L538.9 1846.9L536.9 1849.5L534.9 1849.3L532.9 1846.2L530.8 1847.0L528.8 1846.9L526.8 1848.1L524.8 1846.0L522.8 1847.7L520.8 1841.5L518.8 1849.2L516.7 1849.9L514.7 1843.9L512.7 1848.4L510.7 1850.4L508.7 1847.3L506.7 1855.0L504.7 1847.6L502.6 1849.0L500.6 1848.5L498.6 1851.7L496.6 1845.9L494.6 1849.0L492.6 1850.1L490.6 1849.2L488.5 1852.9L486.5 1851.0L484.5 1855.3L482.5 1854.3L480.5 1850.4L478.5 1851.1L476.5 1849.5L474.4 1853.9L472.4 1852.4L470.4 1854.4L468.4 1851.7L466.4 1850.3L464.4 1849.6L462.4 1851.3L460.3 1855.8L458.3 1852.8L456.3 1857.0L454.3 1860.0L452.3 1853.6L450.3 1854.1L448.3 1852.2L446.2 1852.1L444.2 1858.9L442.2 1858.1L440.2 1855.4L438.2 1855.3L436.2 1854.4L434.2 1860.2L432.1 1857.0L430.1 1854.2L428.1 1850.2L426.1 1861.0L424.1 1851.5L422.1 1858.1L420.1 1862.3L418.1 1853.0L416.0 1861.4L414.0 1862.0L412.0 1856.0L410.0 1855.4L408.0 1859.3L406.0 1862.5L404.0 1865.8L401.9 1860.7L399.9 1869.8L397.9 1867.2L395.9 1858.8L393.9 1860.9L391.9 1859.2L389.9 1862.6L387.8 1868.8L385.8 1863.4L383.8 1872.3L381.8 1863.6L379.8 1861.7L377.8 1870.9L375.8 1863.9L373.7 1868.1L371.7 1869.3L369.7 1876.6L367.7 1870.3L365.7 1866.8L363.7 1876.6L361.7 1871.9L359.6 1872.8L357.6 1876.4L355.6 1866.1L353.6 1870.0L351.6 1870.0L349.6 1866.3L347.6 1873.1L345.5 1857.4L343.5 1871.9L341.5 1874.7L339.5 1867.6L337.5 1868.6L335.5 1873.9L333.5 1873.7L331.4 1866.7L329.4 1868.9L327.4 1868.4L325.4 1866.5L323.4 1872.5L321.4 1864.8L319.4 1869.9L317.4 1867.0L315.3 1873.8L313.3 1866.8L311.3 1868.8L309.3 1859.6L307.3 1870.6L305.3 1863.5L303.3 1867.2L301.2 1863.2L299.2 1868.9L297.2 1867.8L295.2 1879.4L293.2 1875.4L291.2 1865.3L289.2 1868.0L287.1 1866.5L285.1 1871.0L283.1 1866.4L281.1 1871.4L279.1 1870.1L277.1 1864.5L275.1 1865.1L273.0 1871.8L271.0 1869.6L269.0 1868.9L267.0 1870.8L265.0 1870.8L263.0 1874.8L261.0 1868.2L258.9 1875.7L256.9 1875.6L254.9 1865.5L252.9 1863.1L250.9 1863.2L248.9 1870.3L246.9 1874.6L244.8 1868.8L242.8 1865.2L240.8 1872.2L238.8 1874.8L236.8 1881.0L234.8 1881.3L232.8 1865.3L230.8 1880.7L228.7 1877.1L226.7 1875.5L224.7 1873.1L222.7 1880.7L220.7 1871.9L218.7 1872.1L216.7 1874.7L214.6 1878.3L212.6 1877.3L210.6 1885.1L208.6 1872.8L206.6 1878.7L204.6 1883.1L202.6 1876.6L200.5 1874.2L198.5 1875.1L196.5 1884.0L194.5 1891.7L192.5 1908.4L190.5 1901.4L188.5 1900.7L186.4 1917.8L184.4 1892.4L182.4 1906.6L180.4 1900.9L178.4 1900.3L176.4 1911.6L174.4 1895.1L172.3 1893.5L170.3 1901.7L168.3 1933.0L166.3 1889.4L164.3 1904.9L162.3 1910.1L160.3 1909.5L158.2 1914.6L156.2 1907.3L154.2 1897.0L152.2 1915.0L150.2 1901.2L148.2 1909.7L146.2 1906.2L144.1 1907.3L142.1 1900.2L140.1 1892.7L138.1 1903.6L136.1 1893.9L134.1 1887.6L132.1 1919.0L130.0 1895.0" fill="none" stroke="#8b0000" stroke-width="2.5" stroke-linejoin="round"/>
<rect x="79.2" y="1532.5" width="1162.1" height="412.9" fill="none" stroke="#333" stroke-width="1.6"/>
<path d="M1187.4 1945.4v8M986.0 1945.4v8M784.6 1945.4v8M583.2 1945.4v8M381.8 1945.4v8M180.4 1945.4v8M79.2 1919.3h-8M79.2 1829.5h-8M79.2 1739.8h-8M79.2 1650.0h-8M79.2 1560.3h-8" stroke="#333" stroke-width="1.6" fill="none"/>
<g font-family="DejaVu Sans, Liberation Sans, sans-serif" font-size="16.2" fill="#262626">
<text x="1187.4" y="1973.2" text-anchor="middle">0</text>
<text x="986.0" y="1973.2" text-anchor="middle">100</text>
<text x="784.6" y="1973.2" text-anchor="middle">200</text>
<text x="583.2" y="1973.2" text-anchor="middle">300</text>
<text x="381.8" y="1973.2" text-anchor="middle">400</text>
<text x="180.4" y="1973.2" text-anchor="middle">500</text>
<text x="63.8" y="1926.7" text-anchor="end">550</text>
<text x="63.8" y="1837.0" text-anchor="end">555</text>
<text x="63.8" y="1747.2" text-anchor="end">560</text>
<text x="63.8" y="1657.5" text-anchor="end">565</text>
<text x="63.8" y="1567.7" text-anchor="end">570</text>
</g>
<g font-family="DejaVu Sans, Liberation Sans, sans-serif" font-size="17.9" fill="#262626">
<text x="660.2" y="1996.4" text-anchor="middle">RUL</text>
<text transform="translate(23.9 1742.2) rotate(-90)" text-anchor="middle">P30</text>
</g>
<g font-family="Liberation Serif, serif" font-size="35" fill="#000" stroke="#000" stroke-width="0.3" style="font-kerning:none">
<text x="77.0" y="1019.6" textLength="1097.7" lengthAdjust="spacingAndGlyphs">(a) Variation of <tspan font-style="italic">phi</tspan> (ratio of fuel flow to HPC outlet static pressure) with RUL</text>
<text x="218.0" y="2045" textLength="816.0" lengthAdjust="spacingAndGlyphs">(b) Variation of P30 (total HPC outlet pressure) with RUL</text>
</g>
</svg></body></html>
